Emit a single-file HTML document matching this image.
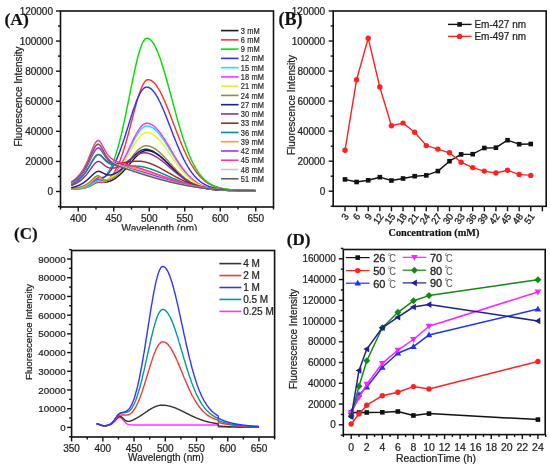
<!DOCTYPE html><html><head><meta charset="utf-8"><style>html,body{margin:0;padding:0;background:#fff;}svg{display:block;filter:blur(0.35px);} svg text{stroke:#222;stroke-width:0.22px;} svg text.l{stroke:none;} svg text.b{stroke-width:0.32px;}</style></head><body>
<svg width="550" height="469" viewBox="0 0 550 469">
<rect width="550" height="469" fill="#ffffff"/>
<rect x="60.5" y="11" width="213.0" height="196" fill="none" stroke="#111" stroke-width="1.6"/>
<line x1="56.0" y1="191.50" x2="60.5" y2="191.50" stroke="#111" stroke-width="1.4"/>
<line x1="56.0" y1="161.42" x2="60.5" y2="161.42" stroke="#111" stroke-width="1.4"/>
<line x1="56.0" y1="131.33" x2="60.5" y2="131.33" stroke="#111" stroke-width="1.4"/>
<line x1="56.0" y1="101.25" x2="60.5" y2="101.25" stroke="#111" stroke-width="1.4"/>
<line x1="56.0" y1="71.17" x2="60.5" y2="71.17" stroke="#111" stroke-width="1.4"/>
<line x1="56.0" y1="41.08" x2="60.5" y2="41.08" stroke="#111" stroke-width="1.4"/>
<line x1="56.0" y1="11.00" x2="60.5" y2="11.00" stroke="#111" stroke-width="1.4"/>
<line x1="58.0" y1="206.54" x2="60.5" y2="206.54" stroke="#111" stroke-width="1.4"/>
<line x1="58.0" y1="176.46" x2="60.5" y2="176.46" stroke="#111" stroke-width="1.4"/>
<line x1="58.0" y1="146.38" x2="60.5" y2="146.38" stroke="#111" stroke-width="1.4"/>
<line x1="58.0" y1="116.29" x2="60.5" y2="116.29" stroke="#111" stroke-width="1.4"/>
<line x1="58.0" y1="86.21" x2="60.5" y2="86.21" stroke="#111" stroke-width="1.4"/>
<line x1="58.0" y1="56.12" x2="60.5" y2="56.12" stroke="#111" stroke-width="1.4"/>
<line x1="58.0" y1="26.04" x2="60.5" y2="26.04" stroke="#111" stroke-width="1.4"/>
<text x="53.0" y="195.10" font-family="Liberation Sans, sans-serif" font-size="10" fill="#222" text-anchor="end">0</text>
<text x="53.0" y="165.02" font-family="Liberation Sans, sans-serif" font-size="10" fill="#222" text-anchor="end">20000</text>
<text x="53.0" y="134.93" font-family="Liberation Sans, sans-serif" font-size="10" fill="#222" text-anchor="end">40000</text>
<text x="53.0" y="104.85" font-family="Liberation Sans, sans-serif" font-size="10" fill="#222" text-anchor="end">60000</text>
<text x="53.0" y="74.77" font-family="Liberation Sans, sans-serif" font-size="10" fill="#222" text-anchor="end">80000</text>
<text x="53.0" y="44.68" font-family="Liberation Sans, sans-serif" font-size="10" fill="#222" text-anchor="end">100000</text>
<text x="53.0" y="14.60" font-family="Liberation Sans, sans-serif" font-size="10" fill="#222" text-anchor="end">120000</text>
<line x1="78.25" y1="207" x2="78.25" y2="211.5" stroke="#111" stroke-width="1.4"/>
<line x1="113.75" y1="207" x2="113.75" y2="211.5" stroke="#111" stroke-width="1.4"/>
<line x1="149.25" y1="207" x2="149.25" y2="211.5" stroke="#111" stroke-width="1.4"/>
<line x1="184.75" y1="207" x2="184.75" y2="211.5" stroke="#111" stroke-width="1.4"/>
<line x1="220.25" y1="207" x2="220.25" y2="211.5" stroke="#111" stroke-width="1.4"/>
<line x1="255.75" y1="207" x2="255.75" y2="211.5" stroke="#111" stroke-width="1.4"/>
<line x1="60.50" y1="207" x2="60.50" y2="209.5" stroke="#111" stroke-width="1.4"/>
<line x1="96.00" y1="207" x2="96.00" y2="209.5" stroke="#111" stroke-width="1.4"/>
<line x1="131.50" y1="207" x2="131.50" y2="209.5" stroke="#111" stroke-width="1.4"/>
<line x1="167.00" y1="207" x2="167.00" y2="209.5" stroke="#111" stroke-width="1.4"/>
<line x1="202.50" y1="207" x2="202.50" y2="209.5" stroke="#111" stroke-width="1.4"/>
<line x1="238.00" y1="207" x2="238.00" y2="209.5" stroke="#111" stroke-width="1.4"/>
<line x1="273.50" y1="207" x2="273.50" y2="209.5" stroke="#111" stroke-width="1.4"/>
<text x="78.25" y="222.00" font-family="Liberation Sans, sans-serif" font-size="10" fill="#222" text-anchor="middle">400</text>
<text x="113.75" y="222.00" font-family="Liberation Sans, sans-serif" font-size="10" fill="#222" text-anchor="middle">450</text>
<text x="149.25" y="222.00" font-family="Liberation Sans, sans-serif" font-size="10" fill="#222" text-anchor="middle">500</text>
<text x="184.75" y="222.00" font-family="Liberation Sans, sans-serif" font-size="10" fill="#222" text-anchor="middle">550</text>
<text x="220.25" y="222.00" font-family="Liberation Sans, sans-serif" font-size="10" fill="#222" text-anchor="middle">600</text>
<text x="255.75" y="222.00" font-family="Liberation Sans, sans-serif" font-size="10" fill="#222" text-anchor="middle">650</text>
<text x="0" y="0" transform="translate(22.3,96.5) rotate(-90)" font-family="Liberation Sans, sans-serif" font-size="10" fill="#222" text-anchor="middle">Fluorescence Intensity</text>
<text x="159.5" y="231.5" font-family="Liberation Sans, sans-serif" font-size="10" fill="#222" text-anchor="middle">Wavelength (nm)</text>
<path d="M71.2,189.0 L71.5,188.9 L71.9,188.9 L72.2,188.9 L72.6,188.9 L72.9,188.8 L73.3,188.8 L73.6,188.8 L74.0,188.7 L74.3,188.7 L74.7,188.7 L75.1,188.6 L75.4,188.6 L75.8,188.6 L76.1,188.5 L76.5,188.5 L76.8,188.5 L77.2,188.4 L77.5,188.4 L77.9,188.3 L78.2,188.3 L78.6,188.2 L79.0,188.2 L79.3,188.1 L79.7,188.1 L80.0,188.0 L80.4,188.0 L80.7,187.9 L81.1,187.8 L81.4,187.7 L81.8,187.7 L82.2,187.6 L82.5,187.5 L82.9,187.4 L83.2,187.3 L83.6,187.2 L83.9,187.1 L84.3,187.0 L84.6,186.9 L85.0,186.8 L85.3,186.6 L85.7,186.5 L86.1,186.4 L86.4,186.2 L86.8,186.1 L87.1,185.9 L87.5,185.7 L87.8,185.6 L88.2,185.4 L88.5,185.2 L88.9,185.0 L89.3,184.8 L89.6,184.6 L90.0,184.4 L90.3,184.1 L90.7,183.9 L91.0,183.6 L91.4,183.4 L91.7,183.2 L92.1,182.9 L92.5,182.6 L92.8,182.4 L93.2,182.1 L93.5,181.9 L93.9,181.6 L94.2,181.4 L94.6,181.1 L94.9,180.9 L95.3,180.7 L95.6,180.5 L96.0,180.3 L96.4,180.1 L96.7,180.0 L97.1,179.9 L97.4,179.8 L97.8,179.7 L98.1,179.7 L98.5,179.7 L98.8,179.8 L99.2,179.9 L99.5,180.1 L99.9,180.3 L100.3,180.5 L100.6,180.7 L101.0,180.9 L101.3,181.0 L101.7,181.2 L102.0,181.4 L102.4,181.5 L102.7,181.7 L103.1,181.8 L103.5,181.9 L103.8,182.0 L104.2,182.0 L104.5,182.1 L104.9,182.1 L105.2,182.1 L105.6,182.1 L105.9,182.1 L106.3,182.1 L106.7,182.0 L107.0,182.0 L107.4,181.9 L107.7,181.8 L108.1,181.7 L108.4,181.6 L108.8,181.5 L109.1,181.4 L109.5,181.3 L109.8,181.2 L110.2,181.1 L110.6,180.9 L110.9,180.8 L111.3,180.6 L111.6,180.4 L112.0,180.3 L112.3,180.1 L112.7,179.9 L113.0,179.7 L113.4,179.5 L113.8,179.3 L114.1,179.1 L114.5,178.9 L114.8,178.7 L115.2,178.4 L115.5,178.2 L115.9,177.9 L116.2,177.7 L116.6,177.4 L116.9,177.2 L117.3,176.9 L117.7,176.6 L118.0,176.3 L118.4,176.0 L118.7,175.7 L119.1,175.4 L119.4,175.1 L119.8,174.8 L120.1,174.5 L120.5,174.1 L120.8,173.8 L121.2,173.5 L121.6,173.1 L121.9,172.8 L122.3,172.4 L122.6,172.0 L123.0,171.7 L123.3,171.3 L123.7,170.9 L124.0,170.5 L124.4,170.2 L124.8,169.8 L125.1,169.4 L125.5,169.0 L125.8,168.6 L126.2,168.2 L126.5,167.7 L126.9,167.3 L127.2,166.9 L127.6,166.5 L128.0,166.1 L128.3,165.6 L128.7,165.2 L129.0,164.8 L129.4,164.4 L129.7,163.9 L130.1,163.5 L130.4,163.1 L130.8,162.7 L131.1,162.2 L131.5,161.8 L131.9,161.4 L132.2,161.0 L132.6,160.6 L132.9,160.1 L133.3,159.7 L133.6,159.3 L134.0,158.9 L134.3,158.5 L134.7,158.1 L135.1,157.7 L135.4,157.4 L135.8,157.0 L136.1,156.6 L136.5,156.2 L136.8,155.9 L137.2,155.5 L137.5,155.2 L137.9,154.9 L138.2,154.6 L138.6,154.3 L139.0,154.0 L139.3,153.7 L139.7,153.4 L140.0,153.1 L140.4,152.9 L140.7,152.6 L141.1,152.4 L141.4,152.2 L141.8,152.0 L142.1,151.8 L142.5,151.6 L142.9,151.4 L143.2,151.3 L143.6,151.1 L143.9,151.0 L144.3,150.9 L144.6,150.8 L145.0,150.7 L145.3,150.6 L145.7,150.6 L146.1,150.5 L146.4,150.5 L146.8,150.5 L147.1,150.5 L147.5,150.5 L147.8,150.6 L148.2,150.6 L148.5,150.7 L148.9,150.7 L149.2,150.8 L149.6,150.8 L150.0,150.9 L150.3,151.0 L150.7,151.1 L151.0,151.2 L151.4,151.3 L151.7,151.4 L152.1,151.6 L152.4,151.7 L152.8,151.8 L153.2,152.0 L153.5,152.1 L153.9,152.3 L154.2,152.5 L154.6,152.7 L154.9,152.8 L155.3,153.0 L155.6,153.2 L156.0,153.4 L156.3,153.7 L156.7,153.9 L157.1,154.1 L157.4,154.3 L157.8,154.6 L158.1,154.8 L158.5,155.1 L158.8,155.3 L159.2,155.6 L159.5,155.9 L159.9,156.2 L160.3,156.4 L160.6,156.7 L161.0,157.0 L161.3,157.3 L161.7,157.6 L162.0,157.9 L162.4,158.2 L162.7,158.5 L163.1,158.8 L163.4,159.2 L163.8,159.5 L164.2,159.8 L164.5,160.1 L164.9,160.5 L165.2,160.8 L165.6,161.2 L165.9,161.5 L166.3,161.8 L166.6,162.2 L167.0,162.5 L167.4,162.9 L167.7,163.2 L168.1,163.6 L168.4,163.9 L168.8,164.3 L169.1,164.7 L169.5,165.0 L169.8,165.4 L170.2,165.7 L170.6,166.1 L170.9,166.4 L171.3,166.8 L171.6,167.2 L172.0,167.5 L172.3,167.9 L172.7,168.2 L173.0,168.6 L173.4,168.9 L173.7,169.3 L174.1,169.6 L174.5,170.0 L174.8,170.3 L175.2,170.7 L175.5,171.0 L175.9,171.4 L176.2,171.7 L176.6,172.0 L176.9,172.4 L177.3,172.7 L177.6,173.0 L178.0,173.4 L178.4,173.7 L178.7,174.0 L179.1,174.3 L179.4,174.7 L179.8,175.0 L180.1,175.3 L180.5,175.6 L180.8,175.9 L181.2,176.2 L181.6,176.5 L181.9,176.8 L182.3,177.1 L182.6,177.4 L183.0,177.7 L183.3,178.0 L183.7,178.2 L184.0,178.5 L184.4,178.8 L184.8,179.0 L185.1,179.3 L185.5,179.6 L185.8,179.8 L186.2,180.1 L186.5,180.3 L186.9,180.6 L187.2,180.8 L187.6,181.0 L187.9,181.3 L188.3,181.5 L188.7,181.7 L189.0,181.9 L189.4,182.2 L189.7,182.4 L190.1,182.6 L190.4,182.8 L190.8,183.0 L191.1,183.2 L191.5,183.4 L191.8,183.6 L192.2,183.8 L192.6,183.9 L192.9,184.1 L193.3,184.3 L193.6,184.5 L194.0,184.6 L194.3,184.8 L194.7,185.0 L195.0,185.1 L195.4,185.3 L195.8,185.4 L196.1,185.6 L196.5,185.7 L196.8,185.8 L197.2,186.0 L197.5,186.1 L197.9,186.2 L198.2,186.4 L198.6,186.5 L198.9,186.6 L199.3,186.7 L199.7,186.9 L200.0,187.0 L200.4,187.1 L200.7,187.2 L201.1,187.3 L201.4,187.4 L201.8,187.5 L202.1,187.6 L202.5,187.7 L202.9,187.8 L203.2,187.9 L203.6,187.9 L203.9,188.0 L204.3,188.1 L204.6,188.2 L205.0,188.3 L205.3,188.3 L205.7,188.4 L206.0,188.5 L206.4,188.6 L206.8,188.6 L207.1,188.7 L207.5,188.8 L207.8,188.8 L208.2,188.9 L208.5,188.9 L208.9,189.0 L209.2,189.0 L209.6,189.1 L210.0,189.1 L210.3,189.2 L210.7,189.2 L211.0,189.3 L211.4,189.3 L211.7,189.4 L212.1,189.4 L212.4,189.5 L212.8,189.5 L213.2,189.5 L213.5,189.6 L213.9,189.6 L214.2,189.6 L214.6,189.7 L214.9,189.7 L215.3,189.7 L215.6,189.8 L216.0,189.8 L216.3,189.8 L216.7,189.9 L217.1,189.9 L217.4,189.9 L217.8,189.9 L218.1,190.0 L218.5,190.0 L218.8,190.0 L219.2,190.0 L219.5,190.1 L219.9,190.1 L220.2,190.1 L220.6,190.1 L221.0,190.1 L221.3,190.2 L221.7,190.2 L222.0,190.2 L222.4,190.2 L222.7,190.2 L223.1,190.2 L223.4,190.2 L223.8,190.3 L224.2,190.3 L224.5,190.3 L224.9,190.3 L225.2,190.3 L225.6,190.3 L225.9,190.3 L226.3,190.4 L226.6,190.4 L227.0,190.4 L227.3,190.4 L227.7,190.4 L228.1,190.4 L228.4,190.4 L228.8,190.4 L229.1,190.4 L229.5,190.4 L229.8,190.4 L230.2,190.5 L230.5,190.5 L230.9,190.5 L231.3,190.5 L231.6,190.5 L232.0,190.5 L232.3,190.5 L232.7,190.5 L233.0,190.5 L233.4,190.5 L233.7,190.5 L234.1,190.5 L234.4,190.5 L234.8,190.5 L235.2,190.5 L235.5,190.6 L235.9,190.6 L236.2,190.6 L236.6,190.6 L236.9,190.6 L237.3,190.6 L237.6,190.6 L238.0,190.6 L238.4,190.6 L238.7,190.6 L239.1,190.6 L239.4,190.6 L239.8,190.6 L240.1,190.6 L240.5,190.6 L240.8,190.6 L241.2,190.6 L241.5,190.6 L241.9,190.6 L242.3,190.6 L242.6,190.6 L243.0,190.6 L243.3,190.6 L243.7,190.6 L244.0,190.6 L244.4,190.6 L244.7,190.6 L245.1,190.6 L245.5,190.6 L245.8,190.6 L246.2,190.7 L246.5,190.7 L246.9,190.7 L247.2,190.7 L247.6,190.7 L247.9,190.7 L248.3,190.7 L248.6,190.7 L249.0,190.7 L249.4,190.7 L249.7,190.7 L250.1,190.7 L250.4,190.7 L250.8,190.7 L251.1,190.7 L251.5,190.7 L251.8,190.7 L252.2,190.7 L252.6,190.7 L252.9,190.7 L253.3,190.7 L253.6,190.7 L254.0,190.7 L254.3,190.7 L254.7,190.7 L255.0,190.7 L255.4,190.7 L255.8,190.7" fill="none" stroke="#1a1a1a" stroke-width="1.45" stroke-linejoin="round"/>
<path d="M71.2,189.3 L71.5,189.3 L71.9,189.3 L72.2,189.2 L72.6,189.2 L72.9,189.2 L73.3,189.2 L73.6,189.2 L74.0,189.1 L74.3,189.1 L74.7,189.1 L75.1,189.1 L75.4,189.1 L75.8,189.0 L76.1,189.0 L76.5,189.0 L76.8,189.0 L77.2,188.9 L77.5,188.9 L77.9,188.9 L78.2,188.9 L78.6,188.8 L79.0,188.8 L79.3,188.8 L79.7,188.7 L80.0,188.7 L80.4,188.6 L80.7,188.6 L81.1,188.5 L81.4,188.5 L81.8,188.4 L82.2,188.4 L82.5,188.3 L82.9,188.3 L83.2,188.2 L83.6,188.1 L83.9,188.1 L84.3,188.0 L84.6,187.9 L85.0,187.8 L85.3,187.7 L85.7,187.7 L86.1,187.6 L86.4,187.5 L86.8,187.4 L87.1,187.2 L87.5,187.1 L87.8,187.0 L88.2,186.9 L88.5,186.7 L88.9,186.6 L89.3,186.4 L89.6,186.3 L90.0,186.1 L90.3,186.0 L90.7,185.8 L91.0,185.6 L91.4,185.5 L91.7,185.3 L92.1,185.1 L92.5,184.9 L92.8,184.7 L93.2,184.5 L93.5,184.3 L93.9,184.1 L94.2,183.9 L94.6,183.7 L94.9,183.6 L95.3,183.4 L95.6,183.2 L96.0,183.0 L96.4,182.9 L96.7,182.7 L97.1,182.6 L97.4,182.5 L97.8,182.4 L98.1,182.3 L98.5,182.2 L98.8,182.2 L99.2,182.2 L99.5,182.2 L99.9,182.3 L100.3,182.3 L100.6,182.3 L101.0,182.3 L101.3,182.4 L101.7,182.4 L102.0,182.4 L102.4,182.3 L102.7,182.3 L103.1,182.2 L103.5,182.2 L103.8,182.1 L104.2,182.0 L104.5,181.9 L104.9,181.7 L105.2,181.6 L105.6,181.4 L105.9,181.2 L106.3,181.0 L106.7,180.8 L107.0,180.6 L107.4,180.3 L107.7,180.1 L108.1,179.8 L108.4,179.5 L108.8,179.2 L109.1,178.9 L109.5,178.5 L109.8,178.2 L110.2,177.8 L110.6,177.4 L110.9,177.0 L111.3,176.6 L111.6,176.2 L112.0,175.8 L112.3,175.3 L112.7,174.8 L113.0,174.3 L113.4,173.8 L113.8,173.3 L114.1,172.7 L114.5,172.1 L114.8,171.6 L115.2,170.9 L115.5,170.3 L115.9,169.7 L116.2,169.0 L116.6,168.3 L116.9,167.6 L117.3,166.9 L117.7,166.1 L118.0,165.3 L118.4,164.5 L118.7,163.7 L119.1,162.9 L119.4,162.0 L119.8,161.1 L120.1,160.2 L120.5,159.3 L120.8,158.3 L121.2,157.4 L121.6,156.4 L121.9,155.4 L122.3,154.3 L122.6,153.3 L123.0,152.2 L123.3,151.1 L123.7,150.0 L124.0,148.9 L124.4,147.7 L124.8,146.6 L125.1,145.4 L125.5,144.2 L125.8,142.9 L126.2,141.7 L126.5,140.4 L126.9,139.2 L127.2,137.9 L127.6,136.6 L128.0,135.3 L128.3,134.0 L128.7,132.6 L129.0,131.3 L129.4,129.9 L129.7,128.6 L130.1,127.2 L130.4,125.9 L130.8,124.5 L131.1,123.1 L131.5,121.7 L131.9,120.4 L132.2,119.0 L132.6,117.6 L132.9,116.2 L133.3,114.9 L133.6,113.5 L134.0,112.1 L134.3,110.8 L134.7,109.5 L135.1,108.1 L135.4,106.8 L135.8,105.5 L136.1,104.2 L136.5,103.0 L136.8,101.7 L137.2,100.5 L137.5,99.3 L137.9,98.1 L138.2,97.0 L138.6,95.9 L139.0,94.8 L139.3,93.7 L139.7,92.6 L140.0,91.6 L140.4,90.7 L140.7,89.7 L141.1,88.8 L141.4,87.9 L141.8,87.1 L142.1,86.3 L142.5,85.6 L142.9,84.9 L143.2,84.2 L143.6,83.6 L143.9,83.0 L144.3,82.4 L144.6,81.9 L145.0,81.5 L145.3,81.1 L145.7,80.7 L146.1,80.4 L146.4,80.2 L146.8,80.0 L147.1,79.8 L147.5,79.7 L147.8,79.6 L148.2,79.6 L148.5,79.7 L148.9,79.7 L149.2,79.8 L149.6,79.9 L150.0,80.0 L150.3,80.1 L150.7,80.3 L151.0,80.4 L151.4,80.6 L151.7,80.8 L152.1,81.1 L152.4,81.3 L152.8,81.6 L153.2,81.9 L153.5,82.2 L153.9,82.6 L154.2,82.9 L154.6,83.3 L154.9,83.7 L155.3,84.1 L155.6,84.6 L156.0,85.0 L156.3,85.5 L156.7,86.0 L157.1,86.5 L157.4,87.0 L157.8,87.6 L158.1,88.1 L158.5,88.7 L158.8,89.3 L159.2,89.9 L159.5,90.5 L159.9,91.2 L160.3,91.8 L160.6,92.5 L161.0,93.2 L161.3,93.9 L161.7,94.6 L162.0,95.4 L162.4,96.1 L162.7,96.8 L163.1,97.6 L163.4,98.4 L163.8,99.2 L164.2,100.0 L164.5,100.8 L164.9,101.6 L165.2,102.5 L165.6,103.3 L165.9,104.1 L166.3,105.0 L166.6,105.9 L167.0,106.7 L167.4,107.6 L167.7,108.5 L168.1,109.4 L168.4,110.3 L168.8,111.2 L169.1,112.1 L169.5,113.0 L169.8,114.0 L170.2,114.9 L170.6,115.8 L170.9,116.7 L171.3,117.7 L171.6,118.6 L172.0,119.5 L172.3,120.5 L172.7,121.4 L173.0,122.3 L173.4,123.3 L173.7,124.2 L174.1,125.2 L174.5,126.1 L174.8,127.0 L175.2,128.0 L175.5,128.9 L175.9,129.8 L176.2,130.8 L176.6,131.7 L176.9,132.6 L177.3,133.5 L177.6,134.4 L178.0,135.3 L178.4,136.2 L178.7,137.1 L179.1,138.0 L179.4,138.9 L179.8,139.8 L180.1,140.7 L180.5,141.6 L180.8,142.4 L181.2,143.3 L181.6,144.2 L181.9,145.0 L182.3,145.8 L182.6,146.7 L183.0,147.5 L183.3,148.3 L183.7,149.1 L184.0,149.9 L184.4,150.7 L184.8,151.5 L185.1,152.3 L185.5,153.0 L185.8,153.8 L186.2,154.5 L186.5,155.3 L186.9,156.0 L187.2,156.7 L187.6,157.5 L187.9,158.2 L188.3,158.9 L188.7,159.5 L189.0,160.2 L189.4,160.9 L189.7,161.5 L190.1,162.2 L190.4,162.8 L190.8,163.5 L191.1,164.1 L191.5,164.7 L191.8,165.3 L192.2,165.9 L192.6,166.5 L192.9,167.0 L193.3,167.6 L193.6,168.1 L194.0,168.7 L194.3,169.2 L194.7,169.7 L195.0,170.2 L195.4,170.7 L195.8,171.2 L196.1,171.7 L196.5,172.2 L196.8,172.7 L197.2,173.1 L197.5,173.6 L197.9,174.0 L198.2,174.5 L198.6,174.9 L198.9,175.3 L199.3,175.7 L199.7,176.1 L200.0,176.5 L200.4,176.9 L200.7,177.2 L201.1,177.6 L201.4,177.9 L201.8,178.3 L202.1,178.6 L202.5,179.0 L202.9,179.3 L203.2,179.6 L203.6,179.9 L203.9,180.2 L204.3,180.5 L204.6,180.8 L205.0,181.1 L205.3,181.4 L205.7,181.6 L206.0,181.9 L206.4,182.1 L206.8,182.4 L207.1,182.6 L207.5,182.9 L207.8,183.1 L208.2,183.3 L208.5,183.5 L208.9,183.8 L209.2,184.0 L209.6,184.2 L210.0,184.4 L210.3,184.5 L210.7,184.7 L211.0,184.9 L211.4,185.1 L211.7,185.3 L212.1,185.4 L212.4,185.6 L212.8,185.7 L213.2,185.9 L213.5,186.0 L213.9,186.2 L214.2,186.3 L214.6,186.5 L214.9,186.6 L215.3,186.7 L215.6,186.8 L216.0,187.0 L216.3,187.1 L216.7,187.2 L217.1,187.3 L217.4,187.4 L217.8,187.5 L218.1,187.6 L218.5,187.7 L218.8,187.8 L219.2,187.9 L219.5,188.0 L219.9,188.1 L220.2,188.2 L220.6,188.2 L221.0,188.3 L221.3,188.4 L221.7,188.5 L222.0,188.5 L222.4,188.6 L222.7,188.7 L223.1,188.7 L223.4,188.8 L223.8,188.9 L224.2,188.9 L224.5,189.0 L224.9,189.0 L225.2,189.1 L225.6,189.1 L225.9,189.2 L226.3,189.2 L226.6,189.3 L227.0,189.3 L227.3,189.4 L227.7,189.4 L228.1,189.5 L228.4,189.5 L228.8,189.5 L229.1,189.6 L229.5,189.6 L229.8,189.6 L230.2,189.7 L230.5,189.7 L230.9,189.7 L231.3,189.8 L231.6,189.8 L232.0,189.8 L232.3,189.9 L232.7,189.9 L233.0,189.9 L233.4,189.9 L233.7,190.0 L234.1,190.0 L234.4,190.0 L234.8,190.0 L235.2,190.0 L235.5,190.1 L235.9,190.1 L236.2,190.1 L236.6,190.1 L236.9,190.1 L237.3,190.2 L237.6,190.2 L238.0,190.2 L238.4,190.2 L238.7,190.2 L239.1,190.2 L239.4,190.3 L239.8,190.3 L240.1,190.3 L240.5,190.3 L240.8,190.3 L241.2,190.3 L241.5,190.3 L241.9,190.3 L242.3,190.4 L242.6,190.4 L243.0,190.4 L243.3,190.4 L243.7,190.4 L244.0,190.4 L244.4,190.4 L244.7,190.4 L245.1,190.4 L245.5,190.4 L245.8,190.5 L246.2,190.5 L246.5,190.5 L246.9,190.5 L247.2,190.5 L247.6,190.5 L247.9,190.5 L248.3,190.5 L248.6,190.5 L249.0,190.5 L249.4,190.5 L249.7,190.5 L250.1,190.5 L250.4,190.5 L250.8,190.5 L251.1,190.6 L251.5,190.6 L251.8,190.6 L252.2,190.6 L252.6,190.6 L252.9,190.6 L253.3,190.6 L253.6,190.6 L254.0,190.6 L254.3,190.6 L254.7,190.6 L255.0,190.6 L255.4,190.6 L255.8,190.6" fill="none" stroke="#ff3030" stroke-width="1.45" stroke-linejoin="round"/>
<path d="M71.2,189.3 L71.5,189.3 L71.9,189.3 L72.2,189.3 L72.6,189.3 L72.9,189.2 L73.3,189.2 L73.6,189.2 L74.0,189.2 L74.3,189.2 L74.7,189.1 L75.1,189.1 L75.4,189.1 L75.8,189.1 L76.1,189.1 L76.5,189.0 L76.8,189.0 L77.2,189.0 L77.5,188.9 L77.9,188.9 L78.2,188.9 L78.6,188.8 L79.0,188.8 L79.3,188.8 L79.7,188.7 L80.0,188.7 L80.4,188.6 L80.7,188.6 L81.1,188.5 L81.4,188.5 L81.8,188.4 L82.2,188.4 L82.5,188.3 L82.9,188.2 L83.2,188.2 L83.6,188.1 L83.9,188.0 L84.3,187.9 L84.6,187.8 L85.0,187.7 L85.3,187.6 L85.7,187.5 L86.1,187.4 L86.4,187.3 L86.8,187.2 L87.1,187.1 L87.5,186.9 L87.8,186.8 L88.2,186.7 L88.5,186.5 L88.9,186.3 L89.3,186.2 L89.6,186.0 L90.0,185.8 L90.3,185.6 L90.7,185.4 L91.0,185.2 L91.4,185.0 L91.7,184.8 L92.1,184.6 L92.5,184.3 L92.8,184.1 L93.2,183.9 L93.5,183.6 L93.9,183.4 L94.2,183.1 L94.6,182.9 L94.9,182.6 L95.3,182.4 L95.6,182.1 L96.0,181.9 L96.4,181.7 L96.7,181.4 L97.1,181.2 L97.4,181.0 L97.8,180.8 L98.1,180.6 L98.5,180.4 L98.8,180.3 L99.2,180.1 L99.5,180.0 L99.9,179.9 L100.3,179.8 L100.6,179.6 L101.0,179.5 L101.3,179.4 L101.7,179.2 L102.0,179.0 L102.4,178.8 L102.7,178.6 L103.1,178.3 L103.5,178.0 L103.8,177.8 L104.2,177.4 L104.5,177.1 L104.9,176.7 L105.2,176.4 L105.6,176.0 L105.9,175.5 L106.3,175.1 L106.7,174.6 L107.0,174.1 L107.4,173.6 L107.7,173.1 L108.1,172.5 L108.4,171.9 L108.8,171.3 L109.1,170.7 L109.5,170.1 L109.8,169.4 L110.2,168.7 L110.6,168.0 L110.9,167.3 L111.3,166.5 L111.6,165.7 L112.0,164.9 L112.3,164.1 L112.7,163.2 L113.0,162.3 L113.4,161.4 L113.8,160.5 L114.1,159.5 L114.5,158.6 L114.8,157.6 L115.2,156.5 L115.5,155.5 L115.9,154.4 L116.2,153.3 L116.6,152.1 L116.9,151.0 L117.3,149.8 L117.7,148.5 L118.0,147.3 L118.4,146.0 L118.7,144.7 L119.1,143.4 L119.4,142.1 L119.8,140.7 L120.1,139.3 L120.5,137.9 L120.8,136.4 L121.2,135.0 L121.6,133.5 L121.9,132.0 L122.3,130.4 L122.6,128.9 L123.0,127.3 L123.3,125.7 L123.7,124.1 L124.0,122.4 L124.4,120.8 L124.8,119.1 L125.1,117.4 L125.5,115.7 L125.8,114.0 L126.2,112.3 L126.5,110.6 L126.9,108.8 L127.2,107.0 L127.6,105.3 L128.0,103.5 L128.3,101.7 L128.7,99.9 L129.0,98.1 L129.4,96.4 L129.7,94.6 L130.1,92.8 L130.4,91.0 L130.8,89.2 L131.1,87.4 L131.5,85.6 L131.9,83.9 L132.2,82.1 L132.6,80.4 L132.9,78.7 L133.3,77.0 L133.6,75.3 L134.0,73.6 L134.3,71.9 L134.7,70.3 L135.1,68.7 L135.4,67.1 L135.8,65.5 L136.1,64.0 L136.5,62.5 L136.8,61.0 L137.2,59.6 L137.5,58.2 L137.9,56.8 L138.2,55.5 L138.6,54.2 L139.0,53.0 L139.3,51.8 L139.7,50.6 L140.0,49.5 L140.4,48.4 L140.7,47.4 L141.1,46.4 L141.4,45.5 L141.8,44.6 L142.1,43.8 L142.5,43.1 L142.9,42.3 L143.2,41.7 L143.6,41.1 L143.9,40.5 L144.3,40.0 L144.6,39.6 L145.0,39.2 L145.3,38.9 L145.7,38.7 L146.1,38.5 L146.4,38.3 L146.8,38.3 L147.1,38.3 L147.5,38.3 L147.8,38.3 L148.2,38.4 L148.5,38.6 L148.9,38.7 L149.2,38.9 L149.6,39.1 L150.0,39.4 L150.3,39.7 L150.7,40.0 L151.0,40.3 L151.4,40.7 L151.7,41.1 L152.1,41.5 L152.4,42.0 L152.8,42.5 L153.2,43.0 L153.5,43.5 L153.9,44.1 L154.2,44.7 L154.6,45.3 L154.9,46.0 L155.3,46.7 L155.6,47.4 L156.0,48.1 L156.3,48.9 L156.7,49.7 L157.1,50.5 L157.4,51.3 L157.8,52.2 L158.1,53.1 L158.5,54.0 L158.8,54.9 L159.2,55.9 L159.5,56.8 L159.9,57.8 L160.3,58.8 L160.6,59.9 L161.0,60.9 L161.3,62.0 L161.7,63.1 L162.0,64.2 L162.4,65.3 L162.7,66.4 L163.1,67.6 L163.4,68.7 L163.8,69.9 L164.2,71.1 L164.5,72.3 L164.9,73.5 L165.2,74.8 L165.6,76.0 L165.9,77.3 L166.3,78.5 L166.6,79.8 L167.0,81.1 L167.4,82.3 L167.7,83.6 L168.1,84.9 L168.4,86.2 L168.8,87.5 L169.1,88.8 L169.5,90.2 L169.8,91.5 L170.2,92.8 L170.6,94.1 L170.9,95.4 L171.3,96.8 L171.6,98.1 L172.0,99.4 L172.3,100.7 L172.7,102.1 L173.0,103.4 L173.4,104.7 L173.7,106.0 L174.1,107.3 L174.5,108.6 L174.8,109.9 L175.2,111.2 L175.5,112.5 L175.9,113.8 L176.2,115.1 L176.6,116.4 L176.9,117.6 L177.3,118.9 L177.6,120.2 L178.0,121.4 L178.4,122.6 L178.7,123.9 L179.1,125.1 L179.4,126.3 L179.8,127.5 L180.1,128.7 L180.5,129.8 L180.8,131.0 L181.2,132.2 L181.6,133.3 L181.9,134.4 L182.3,135.6 L182.6,136.7 L183.0,137.8 L183.3,138.9 L183.7,139.9 L184.0,141.0 L184.4,142.0 L184.8,143.1 L185.1,144.1 L185.5,145.1 L185.8,146.1 L186.2,147.1 L186.5,148.0 L186.9,149.0 L187.2,149.9 L187.6,150.8 L187.9,151.7 L188.3,152.6 L188.7,153.5 L189.0,154.4 L189.4,155.2 L189.7,156.1 L190.1,156.9 L190.4,157.7 L190.8,158.5 L191.1,159.3 L191.5,160.1 L191.8,160.8 L192.2,161.6 L192.6,162.3 L192.9,163.0 L193.3,163.7 L193.6,164.4 L194.0,165.1 L194.3,165.7 L194.7,166.4 L195.0,167.0 L195.4,167.6 L195.8,168.2 L196.1,168.8 L196.5,169.4 L196.8,170.0 L197.2,170.5 L197.5,171.1 L197.9,171.6 L198.2,172.2 L198.6,172.7 L198.9,173.2 L199.3,173.6 L199.7,174.1 L200.0,174.6 L200.4,175.0 L200.7,175.5 L201.1,175.9 L201.4,176.3 L201.8,176.8 L202.1,177.2 L202.5,177.5 L202.9,177.9 L203.2,178.3 L203.6,178.7 L203.9,179.0 L204.3,179.4 L204.6,179.7 L205.0,180.0 L205.3,180.3 L205.7,180.7 L206.0,181.0 L206.4,181.2 L206.8,181.5 L207.1,181.8 L207.5,182.1 L207.8,182.3 L208.2,182.6 L208.5,182.8 L208.9,183.1 L209.2,183.3 L209.6,183.5 L210.0,183.8 L210.3,184.0 L210.7,184.2 L211.0,184.4 L211.4,184.6 L211.7,184.8 L212.1,185.0 L212.4,185.1 L212.8,185.3 L213.2,185.5 L213.5,185.6 L213.9,185.8 L214.2,186.0 L214.6,186.1 L214.9,186.3 L215.3,186.4 L215.6,186.5 L216.0,186.7 L216.3,186.8 L216.7,186.9 L217.1,187.0 L217.4,187.1 L217.8,187.3 L218.1,187.4 L218.5,187.5 L218.8,187.6 L219.2,187.7 L219.5,187.8 L219.9,187.9 L220.2,188.0 L220.6,188.0 L221.0,188.1 L221.3,188.2 L221.7,188.3 L222.0,188.4 L222.4,188.4 L222.7,188.5 L223.1,188.6 L223.4,188.6 L223.8,188.7 L224.2,188.8 L224.5,188.8 L224.9,188.9 L225.2,188.9 L225.6,189.0 L225.9,189.0 L226.3,189.1 L226.6,189.1 L227.0,189.2 L227.3,189.2 L227.7,189.3 L228.1,189.3 L228.4,189.4 L228.8,189.4 L229.1,189.5 L229.5,189.5 L229.8,189.5 L230.2,189.6 L230.5,189.6 L230.9,189.6 L231.3,189.7 L231.6,189.7 L232.0,189.7 L232.3,189.8 L232.7,189.8 L233.0,189.8 L233.4,189.8 L233.7,189.9 L234.1,189.9 L234.4,189.9 L234.8,189.9 L235.2,190.0 L235.5,190.0 L235.9,190.0 L236.2,190.0 L236.6,190.0 L236.9,190.1 L237.3,190.1 L237.6,190.1 L238.0,190.1 L238.4,190.1 L238.7,190.1 L239.1,190.2 L239.4,190.2 L239.8,190.2 L240.1,190.2 L240.5,190.2 L240.8,190.2 L241.2,190.3 L241.5,190.3 L241.9,190.3 L242.3,190.3 L242.6,190.3 L243.0,190.3 L243.3,190.3 L243.7,190.3 L244.0,190.3 L244.4,190.4 L244.7,190.4 L245.1,190.4 L245.5,190.4 L245.8,190.4 L246.2,190.4 L246.5,190.4 L246.9,190.4 L247.2,190.4 L247.6,190.4 L247.9,190.4 L248.3,190.5 L248.6,190.5 L249.0,190.5 L249.4,190.5 L249.7,190.5 L250.1,190.5 L250.4,190.5 L250.8,190.5 L251.1,190.5 L251.5,190.5 L251.8,190.5 L252.2,190.5 L252.6,190.5 L252.9,190.5 L253.3,190.5 L253.6,190.5 L254.0,190.6 L254.3,190.6 L254.7,190.6 L255.0,190.6 L255.4,190.6 L255.8,190.6" fill="none" stroke="#00e000" stroke-width="1.45" stroke-linejoin="round"/>
<path d="M71.2,188.9 L71.5,188.9 L71.9,188.9 L72.2,188.9 L72.6,188.8 L72.9,188.8 L73.3,188.8 L73.6,188.8 L74.0,188.7 L74.3,188.7 L74.7,188.7 L75.1,188.6 L75.4,188.6 L75.8,188.5 L76.1,188.5 L76.5,188.5 L76.8,188.4 L77.2,188.4 L77.5,188.3 L77.9,188.3 L78.2,188.2 L78.6,188.2 L79.0,188.1 L79.3,188.1 L79.7,188.0 L80.0,187.9 L80.4,187.9 L80.7,187.8 L81.1,187.7 L81.4,187.6 L81.8,187.5 L82.2,187.4 L82.5,187.3 L82.9,187.2 L83.2,187.1 L83.6,187.0 L83.9,186.9 L84.3,186.8 L84.6,186.7 L85.0,186.5 L85.3,186.4 L85.7,186.2 L86.1,186.1 L86.4,185.9 L86.8,185.7 L87.1,185.5 L87.5,185.3 L87.8,185.1 L88.2,184.9 L88.5,184.7 L88.9,184.5 L89.3,184.3 L89.6,184.0 L90.0,183.7 L90.3,183.5 L90.7,183.2 L91.0,182.9 L91.4,182.6 L91.7,182.3 L92.1,182.0 L92.5,181.7 L92.8,181.4 L93.2,181.1 L93.5,180.8 L93.9,180.5 L94.2,180.2 L94.6,179.9 L94.9,179.6 L95.3,179.3 L95.6,179.0 L96.0,178.7 L96.4,178.5 L96.7,178.2 L97.1,178.0 L97.4,177.8 L97.8,177.6 L98.1,177.5 L98.5,177.4 L98.8,177.4 L99.2,177.4 L99.5,177.4 L99.9,177.4 L100.3,177.5 L100.6,177.5 L101.0,177.5 L101.3,177.6 L101.7,177.6 L102.0,177.6 L102.4,177.5 L102.7,177.5 L103.1,177.4 L103.5,177.3 L103.8,177.2 L104.2,177.0 L104.5,176.8 L104.9,176.6 L105.2,176.4 L105.6,176.1 L105.9,175.9 L106.3,175.6 L106.7,175.3 L107.0,174.9 L107.4,174.6 L107.7,174.2 L108.1,173.8 L108.4,173.4 L108.8,173.0 L109.1,172.6 L109.5,172.1 L109.8,171.6 L110.2,171.1 L110.6,170.6 L110.9,170.1 L111.3,169.6 L111.6,169.0 L112.0,168.4 L112.3,167.8 L112.7,167.2 L113.0,166.6 L113.4,165.9 L113.8,165.3 L114.1,164.6 L114.5,163.9 L114.8,163.2 L115.2,162.5 L115.5,161.7 L115.9,160.9 L116.2,160.2 L116.6,159.4 L116.9,158.6 L117.3,157.7 L117.7,156.9 L118.0,156.0 L118.4,155.1 L118.7,154.3 L119.1,153.4 L119.4,152.4 L119.8,151.5 L120.1,150.5 L120.5,149.6 L120.8,148.6 L121.2,147.6 L121.6,146.6 L121.9,145.6 L122.3,144.6 L122.6,143.5 L123.0,142.5 L123.3,141.4 L123.7,140.3 L124.0,139.2 L124.4,138.2 L124.8,137.1 L125.1,135.9 L125.5,134.8 L125.8,133.7 L126.2,132.6 L126.5,131.5 L126.9,130.3 L127.2,129.2 L127.6,128.0 L128.0,126.9 L128.3,125.7 L128.7,124.6 L129.0,123.4 L129.4,122.3 L129.7,121.2 L130.1,120.0 L130.4,118.9 L130.8,117.8 L131.1,116.6 L131.5,115.5 L131.9,114.4 L132.2,113.3 L132.6,112.2 L132.9,111.1 L133.3,110.1 L133.6,109.0 L134.0,108.0 L134.3,106.9 L134.7,105.9 L135.1,104.9 L135.4,104.0 L135.8,103.0 L136.1,102.1 L136.5,101.1 L136.8,100.3 L137.2,99.4 L137.5,98.5 L137.9,97.7 L138.2,96.9 L138.6,96.1 L139.0,95.4 L139.3,94.7 L139.7,94.0 L140.0,93.3 L140.4,92.7 L140.7,92.1 L141.1,91.5 L141.4,91.0 L141.8,90.5 L142.1,90.0 L142.5,89.6 L142.9,89.2 L143.2,88.8 L143.6,88.5 L143.9,88.2 L144.3,87.9 L144.6,87.7 L145.0,87.5 L145.3,87.3 L145.7,87.2 L146.1,87.1 L146.4,87.1 L146.8,87.1 L147.1,87.1 L147.5,87.2 L147.8,87.2 L148.2,87.3 L148.5,87.5 L148.9,87.6 L149.2,87.8 L149.6,87.9 L150.0,88.1 L150.3,88.4 L150.7,88.6 L151.0,88.9 L151.4,89.2 L151.7,89.5 L152.1,89.8 L152.4,90.2 L152.8,90.6 L153.2,91.0 L153.5,91.4 L153.9,91.8 L154.2,92.3 L154.6,92.7 L154.9,93.2 L155.3,93.7 L155.6,94.3 L156.0,94.8 L156.3,95.4 L156.7,96.0 L157.1,96.6 L157.4,97.2 L157.8,97.8 L158.1,98.5 L158.5,99.1 L158.8,99.8 L159.2,100.5 L159.5,101.2 L159.9,102.0 L160.3,102.7 L160.6,103.4 L161.0,104.2 L161.3,105.0 L161.7,105.8 L162.0,106.6 L162.4,107.4 L162.7,108.2 L163.1,109.0 L163.4,109.8 L163.8,110.7 L164.2,111.5 L164.5,112.4 L164.9,113.3 L165.2,114.2 L165.6,115.0 L165.9,115.9 L166.3,116.8 L166.6,117.7 L167.0,118.6 L167.4,119.5 L167.7,120.4 L168.1,121.4 L168.4,122.3 L168.8,123.2 L169.1,124.1 L169.5,125.0 L169.8,126.0 L170.2,126.9 L170.6,127.8 L170.9,128.7 L171.3,129.7 L171.6,130.6 L172.0,131.5 L172.3,132.4 L172.7,133.4 L173.0,134.3 L173.4,135.2 L173.7,136.1 L174.1,137.0 L174.5,137.9 L174.8,138.8 L175.2,139.7 L175.5,140.6 L175.9,141.5 L176.2,142.3 L176.6,143.2 L176.9,144.1 L177.3,144.9 L177.6,145.8 L178.0,146.6 L178.4,147.5 L178.7,148.3 L179.1,149.1 L179.4,149.9 L179.8,150.8 L180.1,151.6 L180.5,152.3 L180.8,153.1 L181.2,153.9 L181.6,154.7 L181.9,155.4 L182.3,156.2 L182.6,156.9 L183.0,157.6 L183.3,158.4 L183.7,159.1 L184.0,159.8 L184.4,160.5 L184.8,161.1 L185.1,161.8 L185.5,162.5 L185.8,163.1 L186.2,163.8 L186.5,164.4 L186.9,165.0 L187.2,165.6 L187.6,166.2 L187.9,166.8 L188.3,167.4 L188.7,168.0 L189.0,168.5 L189.4,169.1 L189.7,169.6 L190.1,170.2 L190.4,170.7 L190.8,171.2 L191.1,171.7 L191.5,172.2 L191.8,172.7 L192.2,173.1 L192.6,173.6 L192.9,174.1 L193.3,174.5 L193.6,174.9 L194.0,175.4 L194.3,175.8 L194.7,176.2 L195.0,176.6 L195.4,177.0 L195.8,177.3 L196.1,177.7 L196.5,178.1 L196.8,178.4 L197.2,178.8 L197.5,179.1 L197.9,179.5 L198.2,179.8 L198.6,180.1 L198.9,180.4 L199.3,180.7 L199.7,181.0 L200.0,181.3 L200.4,181.6 L200.7,181.8 L201.1,182.1 L201.4,182.3 L201.8,182.6 L202.1,182.8 L202.5,183.1 L202.9,183.3 L203.2,183.5 L203.6,183.7 L203.9,184.0 L204.3,184.2 L204.6,184.4 L205.0,184.6 L205.3,184.7 L205.7,184.9 L206.0,185.1 L206.4,185.3 L206.8,185.4 L207.1,185.6 L207.5,185.8 L207.8,185.9 L208.2,186.1 L208.5,186.2 L208.9,186.4 L209.2,186.5 L209.6,186.6 L210.0,186.8 L210.3,186.9 L210.7,187.0 L211.0,187.1 L211.4,187.2 L211.7,187.3 L212.1,187.4 L212.4,187.5 L212.8,187.6 L213.2,187.7 L213.5,187.8 L213.9,187.9 L214.2,188.0 L214.6,188.1 L214.9,188.2 L215.3,188.3 L215.6,188.3 L216.0,188.4 L216.3,188.5 L216.7,188.6 L217.1,188.6 L217.4,188.7 L217.8,188.7 L218.1,188.8 L218.5,188.9 L218.8,188.9 L219.2,189.0 L219.5,189.0 L219.9,189.1 L220.2,189.1 L220.6,189.2 L221.0,189.2 L221.3,189.3 L221.7,189.3 L222.0,189.4 L222.4,189.4 L222.7,189.4 L223.1,189.5 L223.4,189.5 L223.8,189.6 L224.2,189.6 L224.5,189.6 L224.9,189.7 L225.2,189.7 L225.6,189.7 L225.9,189.7 L226.3,189.8 L226.6,189.8 L227.0,189.8 L227.3,189.9 L227.7,189.9 L228.1,189.9 L228.4,189.9 L228.8,189.9 L229.1,190.0 L229.5,190.0 L229.8,190.0 L230.2,190.0 L230.5,190.1 L230.9,190.1 L231.3,190.1 L231.6,190.1 L232.0,190.1 L232.3,190.1 L232.7,190.2 L233.0,190.2 L233.4,190.2 L233.7,190.2 L234.1,190.2 L234.4,190.2 L234.8,190.2 L235.2,190.3 L235.5,190.3 L235.9,190.3 L236.2,190.3 L236.6,190.3 L236.9,190.3 L237.3,190.3 L237.6,190.3 L238.0,190.3 L238.4,190.4 L238.7,190.4 L239.1,190.4 L239.4,190.4 L239.8,190.4 L240.1,190.4 L240.5,190.4 L240.8,190.4 L241.2,190.4 L241.5,190.4 L241.9,190.4 L242.3,190.5 L242.6,190.5 L243.0,190.5 L243.3,190.5 L243.7,190.5 L244.0,190.5 L244.4,190.5 L244.7,190.5 L245.1,190.5 L245.5,190.5 L245.8,190.5 L246.2,190.5 L246.5,190.5 L246.9,190.5 L247.2,190.5 L247.6,190.5 L247.9,190.5 L248.3,190.6 L248.6,190.6 L249.0,190.6 L249.4,190.6 L249.7,190.6 L250.1,190.6 L250.4,190.6 L250.8,190.6 L251.1,190.6 L251.5,190.6 L251.8,190.6 L252.2,190.6 L252.6,190.6 L252.9,190.6 L253.3,190.6 L253.6,190.6 L254.0,190.6 L254.3,190.6 L254.7,190.6 L255.0,190.6 L255.4,190.6 L255.8,190.6" fill="none" stroke="#3030ff" stroke-width="1.45" stroke-linejoin="round"/>
<path d="M71.2,189.1 L71.5,189.1 L71.9,189.1 L72.2,189.1 L72.6,189.1 L72.9,189.0 L73.3,189.0 L73.6,189.0 L74.0,189.0 L74.3,188.9 L74.7,188.9 L75.1,188.9 L75.4,188.9 L75.8,188.8 L76.1,188.8 L76.5,188.8 L76.8,188.7 L77.2,188.7 L77.5,188.7 L77.9,188.6 L78.2,188.6 L78.6,188.5 L79.0,188.5 L79.3,188.5 L79.7,188.4 L80.0,188.4 L80.4,188.3 L80.7,188.3 L81.1,188.2 L81.4,188.1 L81.8,188.1 L82.2,188.0 L82.5,187.9 L82.9,187.9 L83.2,187.8 L83.6,187.7 L83.9,187.6 L84.3,187.5 L84.6,187.4 L85.0,187.3 L85.3,187.2 L85.7,187.1 L86.1,187.0 L86.4,186.8 L86.8,186.7 L87.1,186.6 L87.5,186.4 L87.8,186.3 L88.2,186.1 L88.5,186.0 L88.9,185.8 L89.3,185.6 L89.6,185.4 L90.0,185.2 L90.3,185.0 L90.7,184.8 L91.0,184.6 L91.4,184.4 L91.7,184.2 L92.1,183.9 L92.5,183.7 L92.8,183.5 L93.2,183.3 L93.5,183.0 L93.9,182.8 L94.2,182.6 L94.6,182.4 L94.9,182.1 L95.3,181.9 L95.6,181.7 L96.0,181.6 L96.4,181.4 L96.7,181.2 L97.1,181.1 L97.4,180.9 L97.8,180.8 L98.1,180.8 L98.5,180.8 L98.8,180.8 L99.2,180.8 L99.5,180.9 L99.9,181.0 L100.3,181.0 L100.6,181.1 L101.0,181.2 L101.3,181.3 L101.7,181.4 L102.0,181.4 L102.4,181.5 L102.7,181.5 L103.1,181.5 L103.5,181.5 L103.8,181.4 L104.2,181.4 L104.5,181.3 L104.9,181.3 L105.2,181.2 L105.6,181.1 L105.9,180.9 L106.3,180.8 L106.7,180.6 L107.0,180.5 L107.4,180.3 L107.7,180.1 L108.1,179.9 L108.4,179.7 L108.8,179.5 L109.1,179.3 L109.5,179.0 L109.8,178.8 L110.2,178.5 L110.6,178.2 L110.9,177.9 L111.3,177.6 L111.6,177.3 L112.0,177.0 L112.3,176.7 L112.7,176.4 L113.0,176.0 L113.4,175.7 L113.8,175.3 L114.1,174.9 L114.5,174.5 L114.8,174.1 L115.2,173.7 L115.5,173.3 L115.9,172.8 L116.2,172.4 L116.6,171.9 L116.9,171.5 L117.3,171.0 L117.7,170.5 L118.0,170.0 L118.4,169.5 L118.7,169.0 L119.1,168.5 L119.4,167.9 L119.8,167.4 L120.1,166.8 L120.5,166.2 L120.8,165.7 L121.2,165.1 L121.6,164.5 L121.9,163.9 L122.3,163.2 L122.6,162.6 L123.0,162.0 L123.3,161.3 L123.7,160.7 L124.0,160.0 L124.4,159.4 L124.8,158.7 L125.1,158.0 L125.5,157.3 L125.8,156.6 L126.2,155.9 L126.5,155.2 L126.9,154.5 L127.2,153.8 L127.6,153.1 L128.0,152.4 L128.3,151.6 L128.7,150.9 L129.0,150.2 L129.4,149.5 L129.7,148.7 L130.1,148.0 L130.4,147.3 L130.8,146.6 L131.1,145.8 L131.5,145.1 L131.9,144.4 L132.2,143.7 L132.6,143.0 L132.9,142.3 L133.3,141.6 L133.6,140.9 L134.0,140.2 L134.3,139.5 L134.7,138.9 L135.1,138.2 L135.4,137.6 L135.8,136.9 L136.1,136.3 L136.5,135.7 L136.8,135.1 L137.2,134.5 L137.5,133.9 L137.9,133.4 L138.2,132.8 L138.6,132.3 L139.0,131.8 L139.3,131.3 L139.7,130.8 L140.0,130.4 L140.4,129.9 L140.7,129.5 L141.1,129.1 L141.4,128.8 L141.8,128.4 L142.1,128.1 L142.5,127.8 L142.9,127.5 L143.2,127.2 L143.6,127.0 L143.9,126.8 L144.3,126.6 L144.6,126.4 L145.0,126.2 L145.3,126.1 L145.7,126.0 L146.1,126.0 L146.4,125.9 L146.8,125.9 L147.1,125.9 L147.5,125.9 L147.8,125.9 L148.2,126.0 L148.5,126.1 L148.9,126.1 L149.2,126.2 L149.6,126.3 L150.0,126.5 L150.3,126.6 L150.7,126.7 L151.0,126.9 L151.4,127.1 L151.7,127.2 L152.1,127.4 L152.4,127.7 L152.8,127.9 L153.2,128.1 L153.5,128.4 L153.9,128.6 L154.2,128.9 L154.6,129.2 L154.9,129.5 L155.3,129.8 L155.6,130.1 L156.0,130.5 L156.3,130.8 L156.7,131.2 L157.1,131.5 L157.4,131.9 L157.8,132.3 L158.1,132.7 L158.5,133.1 L158.8,133.5 L159.2,133.9 L159.5,134.4 L159.9,134.8 L160.3,135.3 L160.6,135.7 L161.0,136.2 L161.3,136.7 L161.7,137.2 L162.0,137.6 L162.4,138.1 L162.7,138.6 L163.1,139.2 L163.4,139.7 L163.8,140.2 L164.2,140.7 L164.5,141.3 L164.9,141.8 L165.2,142.3 L165.6,142.9 L165.9,143.4 L166.3,144.0 L166.6,144.6 L167.0,145.1 L167.4,145.7 L167.7,146.3 L168.1,146.8 L168.4,147.4 L168.8,148.0 L169.1,148.5 L169.5,149.1 L169.8,149.7 L170.2,150.3 L170.6,150.9 L170.9,151.4 L171.3,152.0 L171.6,152.6 L172.0,153.2 L172.3,153.7 L172.7,154.3 L173.0,154.9 L173.4,155.5 L173.7,156.0 L174.1,156.6 L174.5,157.2 L174.8,157.7 L175.2,158.3 L175.5,158.8 L175.9,159.4 L176.2,160.0 L176.6,160.5 L176.9,161.0 L177.3,161.6 L177.6,162.1 L178.0,162.7 L178.4,163.2 L178.7,163.7 L179.1,164.2 L179.4,164.7 L179.8,165.3 L180.1,165.8 L180.5,166.3 L180.8,166.8 L181.2,167.2 L181.6,167.7 L181.9,168.2 L182.3,168.7 L182.6,169.1 L183.0,169.6 L183.3,170.1 L183.7,170.5 L184.0,171.0 L184.4,171.4 L184.8,171.8 L185.1,172.2 L185.5,172.7 L185.8,173.1 L186.2,173.5 L186.5,173.9 L186.9,174.3 L187.2,174.7 L187.6,175.1 L187.9,175.4 L188.3,175.8 L188.7,176.2 L189.0,176.5 L189.4,176.9 L189.7,177.2 L190.1,177.6 L190.4,177.9 L190.8,178.2 L191.1,178.5 L191.5,178.8 L191.8,179.1 L192.2,179.4 L192.6,179.7 L192.9,180.0 L193.3,180.3 L193.6,180.6 L194.0,180.9 L194.3,181.1 L194.7,181.4 L195.0,181.6 L195.4,181.9 L195.8,182.1 L196.1,182.4 L196.5,182.6 L196.8,182.8 L197.2,183.1 L197.5,183.3 L197.9,183.5 L198.2,183.7 L198.6,183.9 L198.9,184.1 L199.3,184.3 L199.7,184.5 L200.0,184.6 L200.4,184.8 L200.7,185.0 L201.1,185.2 L201.4,185.3 L201.8,185.5 L202.1,185.6 L202.5,185.8 L202.9,185.9 L203.2,186.1 L203.6,186.2 L203.9,186.4 L204.3,186.5 L204.6,186.6 L205.0,186.8 L205.3,186.9 L205.7,187.0 L206.0,187.1 L206.4,187.2 L206.8,187.3 L207.1,187.4 L207.5,187.5 L207.8,187.6 L208.2,187.7 L208.5,187.8 L208.9,187.9 L209.2,188.0 L209.6,188.1 L210.0,188.2 L210.3,188.2 L210.7,188.3 L211.0,188.4 L211.4,188.5 L211.7,188.5 L212.1,188.6 L212.4,188.7 L212.8,188.7 L213.2,188.8 L213.5,188.9 L213.9,188.9 L214.2,189.0 L214.6,189.0 L214.9,189.1 L215.3,189.1 L215.6,189.2 L216.0,189.2 L216.3,189.3 L216.7,189.3 L217.1,189.4 L217.4,189.4 L217.8,189.5 L218.1,189.5 L218.5,189.5 L218.8,189.6 L219.2,189.6 L219.5,189.6 L219.9,189.7 L220.2,189.7 L220.6,189.7 L221.0,189.8 L221.3,189.8 L221.7,189.8 L222.0,189.9 L222.4,189.9 L222.7,189.9 L223.1,189.9 L223.4,190.0 L223.8,190.0 L224.2,190.0 L224.5,190.0 L224.9,190.0 L225.2,190.1 L225.6,190.1 L225.9,190.1 L226.3,190.1 L226.6,190.1 L227.0,190.2 L227.3,190.2 L227.7,190.2 L228.1,190.2 L228.4,190.2 L228.8,190.2 L229.1,190.2 L229.5,190.3 L229.8,190.3 L230.2,190.3 L230.5,190.3 L230.9,190.3 L231.3,190.3 L231.6,190.3 L232.0,190.3 L232.3,190.4 L232.7,190.4 L233.0,190.4 L233.4,190.4 L233.7,190.4 L234.1,190.4 L234.4,190.4 L234.8,190.4 L235.2,190.4 L235.5,190.4 L235.9,190.4 L236.2,190.5 L236.6,190.5 L236.9,190.5 L237.3,190.5 L237.6,190.5 L238.0,190.5 L238.4,190.5 L238.7,190.5 L239.1,190.5 L239.4,190.5 L239.8,190.5 L240.1,190.5 L240.5,190.5 L240.8,190.5 L241.2,190.5 L241.5,190.5 L241.9,190.6 L242.3,190.6 L242.6,190.6 L243.0,190.6 L243.3,190.6 L243.7,190.6 L244.0,190.6 L244.4,190.6 L244.7,190.6 L245.1,190.6 L245.5,190.6 L245.8,190.6 L246.2,190.6 L246.5,190.6 L246.9,190.6 L247.2,190.6 L247.6,190.6 L247.9,190.6 L248.3,190.6 L248.6,190.6 L249.0,190.6 L249.4,190.6 L249.7,190.6 L250.1,190.6 L250.4,190.6 L250.8,190.6 L251.1,190.6 L251.5,190.6 L251.8,190.6 L252.2,190.7 L252.6,190.7 L252.9,190.7 L253.3,190.7 L253.6,190.7 L254.0,190.7 L254.3,190.7 L254.7,190.7 L255.0,190.7 L255.4,190.7 L255.8,190.7" fill="none" stroke="#00f0f0" stroke-width="1.45" stroke-linejoin="round"/>
<path d="M71.2,188.9 L71.5,188.9 L71.9,188.9 L72.2,188.8 L72.6,188.8 L72.9,188.8 L73.3,188.8 L73.6,188.7 L74.0,188.7 L74.3,188.7 L74.7,188.6 L75.1,188.6 L75.4,188.6 L75.8,188.5 L76.1,188.5 L76.5,188.4 L76.8,188.4 L77.2,188.4 L77.5,188.3 L77.9,188.3 L78.2,188.2 L78.6,188.2 L79.0,188.1 L79.3,188.1 L79.7,188.0 L80.0,187.9 L80.4,187.9 L80.7,187.8 L81.1,187.7 L81.4,187.6 L81.8,187.6 L82.2,187.5 L82.5,187.4 L82.9,187.3 L83.2,187.2 L83.6,187.1 L83.9,187.0 L84.3,186.9 L84.6,186.7 L85.0,186.6 L85.3,186.5 L85.7,186.3 L86.1,186.2 L86.4,186.0 L86.8,185.9 L87.1,185.7 L87.5,185.5 L87.8,185.3 L88.2,185.1 L88.5,184.9 L88.9,184.7 L89.3,184.5 L89.6,184.3 L90.0,184.0 L90.3,183.8 L90.7,183.5 L91.0,183.3 L91.4,183.0 L91.7,182.7 L92.1,182.4 L92.5,182.2 L92.8,181.9 L93.2,181.6 L93.5,181.3 L93.9,181.1 L94.2,180.8 L94.6,180.5 L94.9,180.3 L95.3,180.0 L95.6,179.8 L96.0,179.6 L96.4,179.4 L96.7,179.2 L97.1,179.1 L97.4,178.9 L97.8,178.8 L98.1,178.8 L98.5,178.8 L98.8,178.8 L99.2,178.9 L99.5,179.1 L99.9,179.2 L100.3,179.4 L100.6,179.5 L101.0,179.7 L101.3,179.9 L101.7,180.0 L102.0,180.1 L102.4,180.2 L102.7,180.3 L103.1,180.4 L103.5,180.4 L103.8,180.4 L104.2,180.4 L104.5,180.4 L104.9,180.4 L105.2,180.3 L105.6,180.2 L105.9,180.1 L106.3,180.0 L106.7,179.9 L107.0,179.8 L107.4,179.6 L107.7,179.4 L108.1,179.3 L108.4,179.1 L108.8,178.8 L109.1,178.6 L109.5,178.4 L109.8,178.1 L110.2,177.9 L110.6,177.6 L110.9,177.3 L111.3,177.0 L111.6,176.7 L112.0,176.4 L112.3,176.1 L112.7,175.7 L113.0,175.4 L113.4,175.0 L113.8,174.6 L114.1,174.2 L114.5,173.8 L114.8,173.4 L115.2,173.0 L115.5,172.6 L115.9,172.1 L116.2,171.7 L116.6,171.2 L116.9,170.7 L117.3,170.2 L117.7,169.7 L118.0,169.2 L118.4,168.7 L118.7,168.1 L119.1,167.6 L119.4,167.0 L119.8,166.5 L120.1,165.9 L120.5,165.3 L120.8,164.7 L121.2,164.1 L121.6,163.4 L121.9,162.8 L122.3,162.2 L122.6,161.5 L123.0,160.9 L123.3,160.2 L123.7,159.5 L124.0,158.8 L124.4,158.1 L124.8,157.4 L125.1,156.7 L125.5,156.0 L125.8,155.3 L126.2,154.6 L126.5,153.8 L126.9,153.1 L127.2,152.4 L127.6,151.6 L128.0,150.9 L128.3,150.1 L128.7,149.4 L129.0,148.6 L129.4,147.8 L129.7,147.1 L130.1,146.3 L130.4,145.6 L130.8,144.8 L131.1,144.1 L131.5,143.3 L131.9,142.6 L132.2,141.8 L132.6,141.1 L132.9,140.4 L133.3,139.6 L133.6,138.9 L134.0,138.2 L134.3,137.5 L134.7,136.8 L135.1,136.1 L135.4,135.4 L135.8,134.8 L136.1,134.1 L136.5,133.5 L136.8,132.9 L137.2,132.3 L137.5,131.7 L137.9,131.1 L138.2,130.5 L138.6,130.0 L139.0,129.4 L139.3,128.9 L139.7,128.4 L140.0,128.0 L140.4,127.5 L140.7,127.1 L141.1,126.7 L141.4,126.3 L141.8,125.9 L142.1,125.6 L142.5,125.2 L142.9,124.9 L143.2,124.7 L143.6,124.4 L143.9,124.2 L144.3,124.0 L144.6,123.8 L145.0,123.7 L145.3,123.5 L145.7,123.4 L146.1,123.4 L146.4,123.3 L146.8,123.3 L147.1,123.3 L147.5,123.3 L147.8,123.3 L148.2,123.4 L148.5,123.5 L148.9,123.5 L149.2,123.6 L149.6,123.7 L150.0,123.9 L150.3,124.0 L150.7,124.2 L151.0,124.3 L151.4,124.5 L151.7,124.7 L152.1,124.9 L152.4,125.1 L152.8,125.4 L153.2,125.6 L153.5,125.9 L153.9,126.1 L154.2,126.4 L154.6,126.7 L154.9,127.0 L155.3,127.3 L155.6,127.7 L156.0,128.0 L156.3,128.4 L156.7,128.8 L157.1,129.1 L157.4,129.5 L157.8,129.9 L158.1,130.3 L158.5,130.8 L158.8,131.2 L159.2,131.6 L159.5,132.1 L159.9,132.6 L160.3,133.0 L160.6,133.5 L161.0,134.0 L161.3,134.5 L161.7,135.0 L162.0,135.5 L162.4,136.0 L162.7,136.6 L163.1,137.1 L163.4,137.6 L163.8,138.2 L164.2,138.7 L164.5,139.3 L164.9,139.8 L165.2,140.4 L165.6,141.0 L165.9,141.5 L166.3,142.1 L166.6,142.7 L167.0,143.3 L167.4,143.9 L167.7,144.5 L168.1,145.1 L168.4,145.7 L168.8,146.2 L169.1,146.8 L169.5,147.4 L169.8,148.0 L170.2,148.6 L170.6,149.2 L170.9,149.8 L171.3,150.5 L171.6,151.1 L172.0,151.7 L172.3,152.3 L172.7,152.8 L173.0,153.4 L173.4,154.0 L173.7,154.6 L174.1,155.2 L174.5,155.8 L174.8,156.4 L175.2,157.0 L175.5,157.6 L175.9,158.1 L176.2,158.7 L176.6,159.3 L176.9,159.9 L177.3,160.4 L177.6,161.0 L178.0,161.5 L178.4,162.1 L178.7,162.6 L179.1,163.2 L179.4,163.7 L179.8,164.2 L180.1,164.8 L180.5,165.3 L180.8,165.8 L181.2,166.3 L181.6,166.8 L181.9,167.3 L182.3,167.8 L182.6,168.3 L183.0,168.8 L183.3,169.2 L183.7,169.7 L184.0,170.2 L184.4,170.6 L184.8,171.1 L185.1,171.5 L185.5,171.9 L185.8,172.4 L186.2,172.8 L186.5,173.2 L186.9,173.6 L187.2,174.0 L187.6,174.4 L187.9,174.8 L188.3,175.2 L188.7,175.6 L189.0,175.9 L189.4,176.3 L189.7,176.7 L190.1,177.0 L190.4,177.4 L190.8,177.7 L191.1,178.0 L191.5,178.4 L191.8,178.7 L192.2,179.0 L192.6,179.3 L192.9,179.6 L193.3,179.9 L193.6,180.2 L194.0,180.5 L194.3,180.7 L194.7,181.0 L195.0,181.3 L195.4,181.5 L195.8,181.8 L196.1,182.0 L196.5,182.3 L196.8,182.5 L197.2,182.7 L197.5,183.0 L197.9,183.2 L198.2,183.4 L198.6,183.6 L198.9,183.8 L199.3,184.0 L199.7,184.2 L200.0,184.4 L200.4,184.6 L200.7,184.8 L201.1,184.9 L201.4,185.1 L201.8,185.3 L202.1,185.4 L202.5,185.6 L202.9,185.8 L203.2,185.9 L203.6,186.0 L203.9,186.2 L204.3,186.3 L204.6,186.5 L205.0,186.6 L205.3,186.7 L205.7,186.8 L206.0,187.0 L206.4,187.1 L206.8,187.2 L207.1,187.3 L207.5,187.4 L207.8,187.5 L208.2,187.6 L208.5,187.7 L208.9,187.8 L209.2,187.9 L209.6,188.0 L210.0,188.1 L210.3,188.1 L210.7,188.2 L211.0,188.3 L211.4,188.4 L211.7,188.5 L212.1,188.5 L212.4,188.6 L212.8,188.7 L213.2,188.7 L213.5,188.8 L213.9,188.8 L214.2,188.9 L214.6,189.0 L214.9,189.0 L215.3,189.1 L215.6,189.1 L216.0,189.2 L216.3,189.2 L216.7,189.3 L217.1,189.3 L217.4,189.4 L217.8,189.4 L218.1,189.4 L218.5,189.5 L218.8,189.5 L219.2,189.6 L219.5,189.6 L219.9,189.6 L220.2,189.7 L220.6,189.7 L221.0,189.7 L221.3,189.8 L221.7,189.8 L222.0,189.8 L222.4,189.8 L222.7,189.9 L223.1,189.9 L223.4,189.9 L223.8,189.9 L224.2,190.0 L224.5,190.0 L224.9,190.0 L225.2,190.0 L225.6,190.1 L225.9,190.1 L226.3,190.1 L226.6,190.1 L227.0,190.1 L227.3,190.1 L227.7,190.2 L228.1,190.2 L228.4,190.2 L228.8,190.2 L229.1,190.2 L229.5,190.2 L229.8,190.3 L230.2,190.3 L230.5,190.3 L230.9,190.3 L231.3,190.3 L231.6,190.3 L232.0,190.3 L232.3,190.3 L232.7,190.3 L233.0,190.4 L233.4,190.4 L233.7,190.4 L234.1,190.4 L234.4,190.4 L234.8,190.4 L235.2,190.4 L235.5,190.4 L235.9,190.4 L236.2,190.4 L236.6,190.4 L236.9,190.5 L237.3,190.5 L237.6,190.5 L238.0,190.5 L238.4,190.5 L238.7,190.5 L239.1,190.5 L239.4,190.5 L239.8,190.5 L240.1,190.5 L240.5,190.5 L240.8,190.5 L241.2,190.5 L241.5,190.5 L241.9,190.5 L242.3,190.5 L242.6,190.6 L243.0,190.6 L243.3,190.6 L243.7,190.6 L244.0,190.6 L244.4,190.6 L244.7,190.6 L245.1,190.6 L245.5,190.6 L245.8,190.6 L246.2,190.6 L246.5,190.6 L246.9,190.6 L247.2,190.6 L247.6,190.6 L247.9,190.6 L248.3,190.6 L248.6,190.6 L249.0,190.6 L249.4,190.6 L249.7,190.6 L250.1,190.6 L250.4,190.6 L250.8,190.6 L251.1,190.6 L251.5,190.6 L251.8,190.6 L252.2,190.6 L252.6,190.6 L252.9,190.6 L253.3,190.7 L253.6,190.7 L254.0,190.7 L254.3,190.7 L254.7,190.7 L255.0,190.7 L255.4,190.7 L255.8,190.7" fill="none" stroke="#ff30ff" stroke-width="1.45" stroke-linejoin="round"/>
<path d="M71.2,188.6 L71.5,188.6 L71.9,188.6 L72.2,188.5 L72.6,188.5 L72.9,188.5 L73.3,188.4 L73.6,188.4 L74.0,188.3 L74.3,188.3 L74.7,188.3 L75.1,188.2 L75.4,188.2 L75.8,188.1 L76.1,188.1 L76.5,188.0 L76.8,188.0 L77.2,187.9 L77.5,187.9 L77.9,187.8 L78.2,187.7 L78.6,187.7 L79.0,187.6 L79.3,187.5 L79.7,187.5 L80.0,187.4 L80.4,187.3 L80.7,187.2 L81.1,187.1 L81.4,187.0 L81.8,186.9 L82.2,186.8 L82.5,186.7 L82.9,186.6 L83.2,186.5 L83.6,186.3 L83.9,186.2 L84.3,186.1 L84.6,185.9 L85.0,185.8 L85.3,185.6 L85.7,185.4 L86.1,185.2 L86.4,185.0 L86.8,184.8 L87.1,184.6 L87.5,184.4 L87.8,184.2 L88.2,183.9 L88.5,183.7 L88.9,183.4 L89.3,183.2 L89.6,182.9 L90.0,182.6 L90.3,182.3 L90.7,182.0 L91.0,181.7 L91.4,181.3 L91.7,181.0 L92.1,180.7 L92.5,180.3 L92.8,180.0 L93.2,179.6 L93.5,179.3 L93.9,179.0 L94.2,178.7 L94.6,178.3 L94.9,178.0 L95.3,177.8 L95.6,177.5 L96.0,177.3 L96.4,177.0 L96.7,176.9 L97.1,176.7 L97.4,176.6 L97.8,176.5 L98.1,176.5 L98.5,176.5 L98.8,176.7 L99.2,176.9 L99.5,177.1 L99.9,177.4 L100.3,177.6 L100.6,177.9 L101.0,178.2 L101.3,178.5 L101.7,178.7 L102.0,178.9 L102.4,179.1 L102.7,179.3 L103.1,179.5 L103.5,179.6 L103.8,179.7 L104.2,179.8 L104.5,179.9 L104.9,179.9 L105.2,179.9 L105.6,179.9 L105.9,179.9 L106.3,179.8 L106.7,179.7 L107.0,179.7 L107.4,179.5 L107.7,179.4 L108.1,179.3 L108.4,179.1 L108.8,179.0 L109.1,178.8 L109.5,178.6 L109.8,178.4 L110.2,178.2 L110.6,178.0 L110.9,177.7 L111.3,177.5 L111.6,177.2 L112.0,177.0 L112.3,176.7 L112.7,176.4 L113.0,176.1 L113.4,175.8 L113.8,175.5 L114.1,175.1 L114.5,174.8 L114.8,174.4 L115.2,174.1 L115.5,173.7 L115.9,173.3 L116.2,173.0 L116.6,172.6 L116.9,172.1 L117.3,171.7 L117.7,171.3 L118.0,170.9 L118.4,170.4 L118.7,170.0 L119.1,169.5 L119.4,169.0 L119.8,168.5 L120.1,168.0 L120.5,167.5 L120.8,167.0 L121.2,166.5 L121.6,166.0 L121.9,165.5 L122.3,164.9 L122.6,164.4 L123.0,163.8 L123.3,163.2 L123.7,162.7 L124.0,162.1 L124.4,161.5 L124.8,160.9 L125.1,160.3 L125.5,159.7 L125.8,159.1 L126.2,158.5 L126.5,157.9 L126.9,157.3 L127.2,156.7 L127.6,156.0 L128.0,155.4 L128.3,154.8 L128.7,154.1 L129.0,153.5 L129.4,152.9 L129.7,152.2 L130.1,151.6 L130.4,151.0 L130.8,150.3 L131.1,149.7 L131.5,149.1 L131.9,148.5 L132.2,147.8 L132.6,147.2 L132.9,146.6 L133.3,146.0 L133.6,145.4 L134.0,144.8 L134.3,144.2 L134.7,143.6 L135.1,143.1 L135.4,142.5 L135.8,142.0 L136.1,141.4 L136.5,140.9 L136.8,140.4 L137.2,139.9 L137.5,139.4 L137.9,138.9 L138.2,138.4 L138.6,138.0 L139.0,137.5 L139.3,137.1 L139.7,136.7 L140.0,136.3 L140.4,135.9 L140.7,135.6 L141.1,135.2 L141.4,134.9 L141.8,134.6 L142.1,134.3 L142.5,134.0 L142.9,133.8 L143.2,133.6 L143.6,133.4 L143.9,133.2 L144.3,133.0 L144.6,132.9 L145.0,132.8 L145.3,132.7 L145.7,132.6 L146.1,132.5 L146.4,132.5 L146.8,132.5 L147.1,132.5 L147.5,132.5 L147.8,132.6 L148.2,132.6 L148.5,132.7 L148.9,132.8 L149.2,132.9 L149.6,133.0 L150.0,133.1 L150.3,133.2 L150.7,133.3 L151.0,133.5 L151.4,133.6 L151.7,133.8 L152.1,134.0 L152.4,134.2 L152.8,134.4 L153.2,134.6 L153.5,134.8 L153.9,135.1 L154.2,135.3 L154.6,135.6 L154.9,135.9 L155.3,136.1 L155.6,136.4 L156.0,136.7 L156.3,137.0 L156.7,137.4 L157.1,137.7 L157.4,138.0 L157.8,138.4 L158.1,138.7 L158.5,139.1 L158.8,139.5 L159.2,139.9 L159.5,140.3 L159.9,140.7 L160.3,141.1 L160.6,141.5 L161.0,141.9 L161.3,142.3 L161.7,142.8 L162.0,143.2 L162.4,143.7 L162.7,144.1 L163.1,144.6 L163.4,145.0 L163.8,145.5 L164.2,146.0 L164.5,146.4 L164.9,146.9 L165.2,147.4 L165.6,147.9 L165.9,148.4 L166.3,148.9 L166.6,149.4 L167.0,149.9 L167.4,150.4 L167.7,150.9 L168.1,151.4 L168.4,151.9 L168.8,152.5 L169.1,153.0 L169.5,153.5 L169.8,154.0 L170.2,154.5 L170.6,155.0 L170.9,155.6 L171.3,156.1 L171.6,156.6 L172.0,157.1 L172.3,157.6 L172.7,158.1 L173.0,158.7 L173.4,159.2 L173.7,159.7 L174.1,160.2 L174.5,160.7 L174.8,161.2 L175.2,161.7 L175.5,162.2 L175.9,162.7 L176.2,163.2 L176.6,163.7 L176.9,164.2 L177.3,164.6 L177.6,165.1 L178.0,165.6 L178.4,166.1 L178.7,166.5 L179.1,167.0 L179.4,167.5 L179.8,167.9 L180.1,168.4 L180.5,168.8 L180.8,169.3 L181.2,169.7 L181.6,170.1 L181.9,170.6 L182.3,171.0 L182.6,171.4 L183.0,171.8 L183.3,172.2 L183.7,172.6 L184.0,173.0 L184.4,173.4 L184.8,173.8 L185.1,174.2 L185.5,174.6 L185.8,174.9 L186.2,175.3 L186.5,175.7 L186.9,176.0 L187.2,176.4 L187.6,176.7 L187.9,177.0 L188.3,177.4 L188.7,177.7 L189.0,178.0 L189.4,178.3 L189.7,178.6 L190.1,178.9 L190.4,179.2 L190.8,179.5 L191.1,179.8 L191.5,180.1 L191.8,180.4 L192.2,180.6 L192.6,180.9 L192.9,181.1 L193.3,181.4 L193.6,181.6 L194.0,181.9 L194.3,182.1 L194.7,182.4 L195.0,182.6 L195.4,182.8 L195.8,183.0 L196.1,183.2 L196.5,183.5 L196.8,183.7 L197.2,183.9 L197.5,184.0 L197.9,184.2 L198.2,184.4 L198.6,184.6 L198.9,184.8 L199.3,184.9 L199.7,185.1 L200.0,185.3 L200.4,185.4 L200.7,185.6 L201.1,185.7 L201.4,185.9 L201.8,186.0 L202.1,186.2 L202.5,186.3 L202.9,186.4 L203.2,186.6 L203.6,186.7 L203.9,186.8 L204.3,186.9 L204.6,187.0 L205.0,187.2 L205.3,187.3 L205.7,187.4 L206.0,187.5 L206.4,187.6 L206.8,187.7 L207.1,187.8 L207.5,187.9 L207.8,187.9 L208.2,188.0 L208.5,188.1 L208.9,188.2 L209.2,188.3 L209.6,188.4 L210.0,188.4 L210.3,188.5 L210.7,188.6 L211.0,188.6 L211.4,188.7 L211.7,188.8 L212.1,188.8 L212.4,188.9 L212.8,188.9 L213.2,189.0 L213.5,189.1 L213.9,189.1 L214.2,189.2 L214.6,189.2 L214.9,189.3 L215.3,189.3 L215.6,189.3 L216.0,189.4 L216.3,189.4 L216.7,189.5 L217.1,189.5 L217.4,189.5 L217.8,189.6 L218.1,189.6 L218.5,189.7 L218.8,189.7 L219.2,189.7 L219.5,189.7 L219.9,189.8 L220.2,189.8 L220.6,189.8 L221.0,189.9 L221.3,189.9 L221.7,189.9 L222.0,189.9 L222.4,190.0 L222.7,190.0 L223.1,190.0 L223.4,190.0 L223.8,190.0 L224.2,190.1 L224.5,190.1 L224.9,190.1 L225.2,190.1 L225.6,190.1 L225.9,190.2 L226.3,190.2 L226.6,190.2 L227.0,190.2 L227.3,190.2 L227.7,190.2 L228.1,190.3 L228.4,190.3 L228.8,190.3 L229.1,190.3 L229.5,190.3 L229.8,190.3 L230.2,190.3 L230.5,190.3 L230.9,190.3 L231.3,190.4 L231.6,190.4 L232.0,190.4 L232.3,190.4 L232.7,190.4 L233.0,190.4 L233.4,190.4 L233.7,190.4 L234.1,190.4 L234.4,190.4 L234.8,190.4 L235.2,190.5 L235.5,190.5 L235.9,190.5 L236.2,190.5 L236.6,190.5 L236.9,190.5 L237.3,190.5 L237.6,190.5 L238.0,190.5 L238.4,190.5 L238.7,190.5 L239.1,190.5 L239.4,190.5 L239.8,190.5 L240.1,190.5 L240.5,190.5 L240.8,190.6 L241.2,190.6 L241.5,190.6 L241.9,190.6 L242.3,190.6 L242.6,190.6 L243.0,190.6 L243.3,190.6 L243.7,190.6 L244.0,190.6 L244.4,190.6 L244.7,190.6 L245.1,190.6 L245.5,190.6 L245.8,190.6 L246.2,190.6 L246.5,190.6 L246.9,190.6 L247.2,190.6 L247.6,190.6 L247.9,190.6 L248.3,190.6 L248.6,190.6 L249.0,190.6 L249.4,190.6 L249.7,190.6 L250.1,190.6 L250.4,190.6 L250.8,190.6 L251.1,190.6 L251.5,190.6 L251.8,190.7 L252.2,190.7 L252.6,190.7 L252.9,190.7 L253.3,190.7 L253.6,190.7 L254.0,190.7 L254.3,190.7 L254.7,190.7 L255.0,190.7 L255.4,190.7 L255.8,190.7" fill="none" stroke="#f0f020" stroke-width="1.45" stroke-linejoin="round"/>
<path d="M71.2,188.5 L71.5,188.5 L71.9,188.4 L72.2,188.4 L72.6,188.3 L72.9,188.3 L73.3,188.3 L73.6,188.2 L74.0,188.2 L74.3,188.1 L74.7,188.1 L75.1,188.0 L75.4,188.0 L75.8,187.9 L76.1,187.8 L76.5,187.8 L76.8,187.7 L77.2,187.7 L77.5,187.6 L77.9,187.5 L78.2,187.4 L78.6,187.4 L79.0,187.3 L79.3,187.2 L79.7,187.1 L80.0,187.0 L80.4,186.9 L80.7,186.8 L81.1,186.7 L81.4,186.6 L81.8,186.5 L82.2,186.4 L82.5,186.3 L82.9,186.1 L83.2,186.0 L83.6,185.8 L83.9,185.7 L84.3,185.5 L84.6,185.4 L85.0,185.2 L85.3,185.0 L85.7,184.8 L86.1,184.6 L86.4,184.4 L86.8,184.2 L87.1,184.0 L87.5,183.7 L87.8,183.5 L88.2,183.2 L88.5,183.0 L88.9,182.7 L89.3,182.4 L89.6,182.1 L90.0,181.8 L90.3,181.5 L90.7,181.2 L91.0,180.8 L91.4,180.5 L91.7,180.1 L92.1,179.8 L92.5,179.4 L92.8,179.1 L93.2,178.7 L93.5,178.4 L93.9,178.1 L94.2,177.7 L94.6,177.4 L94.9,177.1 L95.3,176.8 L95.6,176.6 L96.0,176.4 L96.4,176.1 L96.7,176.0 L97.1,175.8 L97.4,175.7 L97.8,175.6 L98.1,175.7 L98.5,175.8 L98.8,176.0 L99.2,176.2 L99.5,176.5 L99.9,176.8 L100.3,177.1 L100.6,177.4 L101.0,177.8 L101.3,178.1 L101.7,178.4 L102.0,178.7 L102.4,179.0 L102.7,179.2 L103.1,179.5 L103.5,179.7 L103.8,179.8 L104.2,180.0 L104.5,180.1 L104.9,180.2 L105.2,180.3 L105.6,180.3 L105.9,180.3 L106.3,180.4 L106.7,180.4 L107.0,180.3 L107.4,180.3 L107.7,180.2 L108.1,180.2 L108.4,180.1 L108.8,180.0 L109.1,179.9 L109.5,179.8 L109.8,179.6 L110.2,179.5 L110.6,179.3 L110.9,179.2 L111.3,179.0 L111.6,178.8 L112.0,178.6 L112.3,178.4 L112.7,178.2 L113.0,178.0 L113.4,177.8 L113.8,177.6 L114.1,177.3 L114.5,177.1 L114.8,176.8 L115.2,176.6 L115.5,176.3 L115.9,176.0 L116.2,175.7 L116.6,175.4 L116.9,175.1 L117.3,174.8 L117.7,174.5 L118.0,174.1 L118.4,173.8 L118.7,173.5 L119.1,173.1 L119.4,172.8 L119.8,172.4 L120.1,172.0 L120.5,171.6 L120.8,171.2 L121.2,170.9 L121.6,170.5 L121.9,170.0 L122.3,169.6 L122.6,169.2 L123.0,168.8 L123.3,168.4 L123.7,167.9 L124.0,167.5 L124.4,167.0 L124.8,166.6 L125.1,166.1 L125.5,165.7 L125.8,165.2 L126.2,164.8 L126.5,164.3 L126.9,163.8 L127.2,163.4 L127.6,162.9 L128.0,162.4 L128.3,161.9 L128.7,161.5 L129.0,161.0 L129.4,160.5 L129.7,160.0 L130.1,159.6 L130.4,159.1 L130.8,158.6 L131.1,158.1 L131.5,157.7 L131.9,157.2 L132.2,156.7 L132.6,156.3 L132.9,155.8 L133.3,155.4 L133.6,154.9 L134.0,154.5 L134.3,154.0 L134.7,153.6 L135.1,153.2 L135.4,152.8 L135.8,152.4 L136.1,152.0 L136.5,151.6 L136.8,151.2 L137.2,150.8 L137.5,150.5 L137.9,150.1 L138.2,149.8 L138.6,149.5 L139.0,149.1 L139.3,148.8 L139.7,148.6 L140.0,148.3 L140.4,148.0 L140.7,147.8 L141.1,147.5 L141.4,147.3 L141.8,147.1 L142.1,146.9 L142.5,146.7 L142.9,146.5 L143.2,146.4 L143.6,146.3 L143.9,146.1 L144.3,146.0 L144.6,146.0 L145.0,145.9 L145.3,145.8 L145.7,145.8 L146.1,145.8 L146.4,145.8 L146.8,145.8 L147.1,145.8 L147.5,145.9 L147.8,145.9 L148.2,146.0 L148.5,146.0 L148.9,146.1 L149.2,146.2 L149.6,146.3 L150.0,146.4 L150.3,146.5 L150.7,146.7 L151.0,146.8 L151.4,146.9 L151.7,147.1 L152.1,147.2 L152.4,147.4 L152.8,147.6 L153.2,147.8 L153.5,148.0 L153.9,148.2 L154.2,148.4 L154.6,148.6 L154.9,148.8 L155.3,149.0 L155.6,149.3 L156.0,149.5 L156.3,149.8 L156.7,150.0 L157.1,150.3 L157.4,150.6 L157.8,150.8 L158.1,151.1 L158.5,151.4 L158.8,151.7 L159.2,152.0 L159.5,152.3 L159.9,152.6 L160.3,153.0 L160.6,153.3 L161.0,153.6 L161.3,154.0 L161.7,154.3 L162.0,154.6 L162.4,155.0 L162.7,155.3 L163.1,155.7 L163.4,156.1 L163.8,156.4 L164.2,156.8 L164.5,157.2 L164.9,157.5 L165.2,157.9 L165.6,158.3 L165.9,158.7 L166.3,159.1 L166.6,159.4 L167.0,159.8 L167.4,160.2 L167.7,160.6 L168.1,161.0 L168.4,161.4 L168.8,161.8 L169.1,162.2 L169.5,162.6 L169.8,163.0 L170.2,163.4 L170.6,163.8 L170.9,164.2 L171.3,164.5 L171.6,164.9 L172.0,165.3 L172.3,165.7 L172.7,166.1 L173.0,166.5 L173.4,166.9 L173.7,167.3 L174.1,167.7 L174.5,168.1 L174.8,168.4 L175.2,168.8 L175.5,169.2 L175.9,169.6 L176.2,170.0 L176.6,170.3 L176.9,170.7 L177.3,171.1 L177.6,171.4 L178.0,171.8 L178.4,172.1 L178.7,172.5 L179.1,172.9 L179.4,173.2 L179.8,173.5 L180.1,173.9 L180.5,174.2 L180.8,174.6 L181.2,174.9 L181.6,175.2 L181.9,175.5 L182.3,175.9 L182.6,176.2 L183.0,176.5 L183.3,176.8 L183.7,177.1 L184.0,177.4 L184.4,177.7 L184.8,178.0 L185.1,178.3 L185.5,178.6 L185.8,178.8 L186.2,179.1 L186.5,179.4 L186.9,179.6 L187.2,179.9 L187.6,180.2 L187.9,180.4 L188.3,180.7 L188.7,180.9 L189.0,181.2 L189.4,181.4 L189.7,181.6 L190.1,181.8 L190.4,182.1 L190.8,182.3 L191.1,182.5 L191.5,182.7 L191.8,182.9 L192.2,183.1 L192.6,183.3 L192.9,183.5 L193.3,183.7 L193.6,183.9 L194.0,184.1 L194.3,184.3 L194.7,184.4 L195.0,184.6 L195.4,184.8 L195.8,184.9 L196.1,185.1 L196.5,185.3 L196.8,185.4 L197.2,185.6 L197.5,185.7 L197.9,185.8 L198.2,186.0 L198.6,186.1 L198.9,186.2 L199.3,186.4 L199.7,186.5 L200.0,186.6 L200.4,186.7 L200.7,186.9 L201.1,187.0 L201.4,187.1 L201.8,187.2 L202.1,187.3 L202.5,187.4 L202.9,187.5 L203.2,187.6 L203.6,187.7 L203.9,187.8 L204.3,187.9 L204.6,188.0 L205.0,188.0 L205.3,188.1 L205.7,188.2 L206.0,188.3 L206.4,188.4 L206.8,188.4 L207.1,188.5 L207.5,188.6 L207.8,188.6 L208.2,188.7 L208.5,188.8 L208.9,188.8 L209.2,188.9 L209.6,188.9 L210.0,189.0 L210.3,189.1 L210.7,189.1 L211.0,189.2 L211.4,189.2 L211.7,189.2 L212.1,189.3 L212.4,189.3 L212.8,189.4 L213.2,189.4 L213.5,189.5 L213.9,189.5 L214.2,189.5 L214.6,189.6 L214.9,189.6 L215.3,189.7 L215.6,189.7 L216.0,189.7 L216.3,189.7 L216.7,189.8 L217.1,189.8 L217.4,189.8 L217.8,189.9 L218.1,189.9 L218.5,189.9 L218.8,189.9 L219.2,190.0 L219.5,190.0 L219.9,190.0 L220.2,190.0 L220.6,190.1 L221.0,190.1 L221.3,190.1 L221.7,190.1 L222.0,190.1 L222.4,190.1 L222.7,190.2 L223.1,190.2 L223.4,190.2 L223.8,190.2 L224.2,190.2 L224.5,190.2 L224.9,190.3 L225.2,190.3 L225.6,190.3 L225.9,190.3 L226.3,190.3 L226.6,190.3 L227.0,190.3 L227.3,190.3 L227.7,190.4 L228.1,190.4 L228.4,190.4 L228.8,190.4 L229.1,190.4 L229.5,190.4 L229.8,190.4 L230.2,190.4 L230.5,190.4 L230.9,190.4 L231.3,190.4 L231.6,190.5 L232.0,190.5 L232.3,190.5 L232.7,190.5 L233.0,190.5 L233.4,190.5 L233.7,190.5 L234.1,190.5 L234.4,190.5 L234.8,190.5 L235.2,190.5 L235.5,190.5 L235.9,190.5 L236.2,190.5 L236.6,190.5 L236.9,190.5 L237.3,190.6 L237.6,190.6 L238.0,190.6 L238.4,190.6 L238.7,190.6 L239.1,190.6 L239.4,190.6 L239.8,190.6 L240.1,190.6 L240.5,190.6 L240.8,190.6 L241.2,190.6 L241.5,190.6 L241.9,190.6 L242.3,190.6 L242.6,190.6 L243.0,190.6 L243.3,190.6 L243.7,190.6 L244.0,190.6 L244.4,190.6 L244.7,190.6 L245.1,190.6 L245.5,190.6 L245.8,190.6 L246.2,190.6 L246.5,190.6 L246.9,190.6 L247.2,190.6 L247.6,190.6 L247.9,190.7 L248.3,190.7 L248.6,190.7 L249.0,190.7 L249.4,190.7 L249.7,190.7 L250.1,190.7 L250.4,190.7 L250.8,190.7 L251.1,190.7 L251.5,190.7 L251.8,190.7 L252.2,190.7 L252.6,190.7 L252.9,190.7 L253.3,190.7 L253.6,190.7 L254.0,190.7 L254.3,190.7 L254.7,190.7 L255.0,190.7 L255.4,190.7 L255.8,190.7" fill="none" stroke="#909030" stroke-width="1.45" stroke-linejoin="round"/>
<path d="M71.2,187.7 L71.5,187.6 L71.9,187.5 L72.2,187.4 L72.6,187.4 L72.9,187.3 L73.3,187.2 L73.6,187.1 L74.0,187.0 L74.3,186.9 L74.7,186.8 L75.1,186.7 L75.4,186.6 L75.8,186.5 L76.1,186.3 L76.5,186.2 L76.8,186.1 L77.2,186.0 L77.5,185.8 L77.9,185.7 L78.2,185.6 L78.6,185.4 L79.0,185.3 L79.3,185.1 L79.7,184.9 L80.0,184.8 L80.4,184.6 L80.7,184.4 L81.1,184.2 L81.4,184.0 L81.8,183.8 L82.2,183.6 L82.5,183.4 L82.9,183.2 L83.2,183.0 L83.6,182.8 L83.9,182.5 L84.3,182.3 L84.6,182.0 L85.0,181.8 L85.3,181.5 L85.7,181.2 L86.1,180.9 L86.4,180.7 L86.8,180.4 L87.1,180.1 L87.5,179.7 L87.8,179.4 L88.2,179.1 L88.5,178.8 L88.9,178.4 L89.3,178.1 L89.6,177.8 L90.0,177.4 L90.3,177.1 L90.7,176.7 L91.0,176.4 L91.4,176.0 L91.7,175.6 L92.1,175.3 L92.5,175.0 L92.8,174.6 L93.2,174.3 L93.5,174.0 L93.9,173.7 L94.2,173.4 L94.6,173.1 L94.9,172.8 L95.3,172.6 L95.6,172.3 L96.0,172.1 L96.4,171.9 L96.7,171.8 L97.1,171.6 L97.4,171.5 L97.8,171.4 L98.1,171.4 L98.5,171.3 L98.8,171.3 L99.2,171.4 L99.5,171.5 L99.9,171.6 L100.3,171.7 L100.6,171.8 L101.0,172.0 L101.3,172.1 L101.7,172.3 L102.0,172.5 L102.4,172.7 L102.7,172.9 L103.1,173.1 L103.5,173.2 L103.8,173.4 L104.2,173.6 L104.5,173.8 L104.9,173.9 L105.2,174.1 L105.6,174.2 L105.9,174.4 L106.3,174.5 L106.7,174.6 L107.0,174.7 L107.4,174.8 L107.7,174.8 L108.1,174.9 L108.4,174.9 L108.8,175.0 L109.1,175.0 L109.5,175.0 L109.8,175.0 L110.2,174.9 L110.6,174.9 L110.9,174.9 L111.3,174.8 L111.6,174.7 L112.0,174.7 L112.3,174.6 L112.7,174.5 L113.0,174.4 L113.4,174.2 L113.8,174.1 L114.1,174.0 L114.5,173.8 L114.8,173.6 L115.2,173.5 L115.5,173.3 L115.9,173.1 L116.2,172.9 L116.6,172.7 L116.9,172.5 L117.3,172.3 L117.7,172.0 L118.0,171.8 L118.4,171.6 L118.7,171.3 L119.1,171.1 L119.4,170.8 L119.8,170.5 L120.1,170.2 L120.5,170.0 L120.8,169.7 L121.2,169.4 L121.6,169.0 L121.9,168.7 L122.3,168.4 L122.6,168.1 L123.0,167.8 L123.3,167.4 L123.7,167.1 L124.0,166.7 L124.4,166.4 L124.8,166.0 L125.1,165.6 L125.5,165.3 L125.8,164.9 L126.2,164.5 L126.5,164.2 L126.9,163.8 L127.2,163.4 L127.6,163.0 L128.0,162.6 L128.3,162.2 L128.7,161.8 L129.0,161.4 L129.4,161.1 L129.7,160.7 L130.1,160.3 L130.4,159.9 L130.8,159.5 L131.1,159.1 L131.5,158.7 L131.9,158.3 L132.2,158.0 L132.6,157.6 L132.9,157.2 L133.3,156.8 L133.6,156.5 L134.0,156.1 L134.3,155.8 L134.7,155.4 L135.1,155.1 L135.4,154.7 L135.8,154.4 L136.1,154.1 L136.5,153.8 L136.8,153.4 L137.2,153.1 L137.5,152.9 L137.9,152.6 L138.2,152.3 L138.6,152.0 L139.0,151.8 L139.3,151.5 L139.7,151.3 L140.0,151.1 L140.4,150.9 L140.7,150.7 L141.1,150.5 L141.4,150.3 L141.8,150.1 L142.1,150.0 L142.5,149.9 L142.9,149.7 L143.2,149.6 L143.6,149.5 L143.9,149.4 L144.3,149.4 L144.6,149.3 L145.0,149.3 L145.3,149.3 L145.7,149.2 L146.1,149.2 L146.4,149.3 L146.8,149.3 L147.1,149.3 L147.5,149.4 L147.8,149.5 L148.2,149.5 L148.5,149.6 L148.9,149.7 L149.2,149.8 L149.6,149.9 L150.0,150.0 L150.3,150.1 L150.7,150.3 L151.0,150.4 L151.4,150.5 L151.7,150.7 L152.1,150.8 L152.4,151.0 L152.8,151.2 L153.2,151.4 L153.5,151.6 L153.9,151.7 L154.2,151.9 L154.6,152.2 L154.9,152.4 L155.3,152.6 L155.6,152.8 L156.0,153.1 L156.3,153.3 L156.7,153.5 L157.1,153.8 L157.4,154.0 L157.8,154.3 L158.1,154.6 L158.5,154.9 L158.8,155.1 L159.2,155.4 L159.5,155.7 L159.9,156.0 L160.3,156.3 L160.6,156.6 L161.0,156.9 L161.3,157.2 L161.7,157.5 L162.0,157.9 L162.4,158.2 L162.7,158.5 L163.1,158.8 L163.4,159.2 L163.8,159.5 L164.2,159.8 L164.5,160.2 L164.9,160.5 L165.2,160.9 L165.6,161.2 L165.9,161.6 L166.3,161.9 L166.6,162.3 L167.0,162.6 L167.4,163.0 L167.7,163.4 L168.1,163.7 L168.4,164.1 L168.8,164.4 L169.1,164.8 L169.5,165.1 L169.8,165.5 L170.2,165.9 L170.6,166.2 L170.9,166.6 L171.3,167.0 L171.6,167.3 L172.0,167.7 L172.3,168.0 L172.7,168.4 L173.0,168.7 L173.4,169.1 L173.7,169.4 L174.1,169.8 L174.5,170.1 L174.8,170.5 L175.2,170.8 L175.5,171.2 L175.9,171.5 L176.2,171.9 L176.6,172.2 L176.9,172.5 L177.3,172.9 L177.6,173.2 L178.0,173.5 L178.4,173.8 L178.7,174.2 L179.1,174.5 L179.4,174.8 L179.8,175.1 L180.1,175.4 L180.5,175.7 L180.8,176.0 L181.2,176.3 L181.6,176.6 L181.9,176.9 L182.3,177.2 L182.6,177.5 L183.0,177.8 L183.3,178.0 L183.7,178.3 L184.0,178.6 L184.4,178.9 L184.8,179.1 L185.1,179.4 L185.5,179.6 L185.8,179.9 L186.2,180.1 L186.5,180.4 L186.9,180.6 L187.2,180.9 L187.6,181.1 L187.9,181.3 L188.3,181.5 L188.7,181.8 L189.0,182.0 L189.4,182.2 L189.7,182.4 L190.1,182.6 L190.4,182.8 L190.8,183.0 L191.1,183.2 L191.5,183.4 L191.8,183.6 L192.2,183.8 L192.6,183.9 L192.9,184.1 L193.3,184.3 L193.6,184.5 L194.0,184.6 L194.3,184.8 L194.7,184.9 L195.0,185.1 L195.4,185.2 L195.8,185.4 L196.1,185.5 L196.5,185.7 L196.8,185.8 L197.2,185.9 L197.5,186.1 L197.9,186.2 L198.2,186.3 L198.6,186.5 L198.9,186.6 L199.3,186.7 L199.7,186.8 L200.0,186.9 L200.4,187.0 L200.7,187.1 L201.1,187.2 L201.4,187.3 L201.8,187.4 L202.1,187.5 L202.5,187.6 L202.9,187.7 L203.2,187.8 L203.6,187.9 L203.9,188.0 L204.3,188.0 L204.6,188.1 L205.0,188.2 L205.3,188.3 L205.7,188.4 L206.0,188.4 L206.4,188.5 L206.8,188.6 L207.1,188.6 L207.5,188.7 L207.8,188.7 L208.2,188.8 L208.5,188.9 L208.9,188.9 L209.2,189.0 L209.6,189.0 L210.0,189.1 L210.3,189.1 L210.7,189.2 L211.0,189.2 L211.4,189.3 L211.7,189.3 L212.1,189.3 L212.4,189.4 L212.8,189.4 L213.2,189.5 L213.5,189.5 L213.9,189.5 L214.2,189.6 L214.6,189.6 L214.9,189.6 L215.3,189.7 L215.6,189.7 L216.0,189.7 L216.3,189.8 L216.7,189.8 L217.1,189.8 L217.4,189.8 L217.8,189.9 L218.1,189.9 L218.5,189.9 L218.8,189.9 L219.2,190.0 L219.5,190.0 L219.9,190.0 L220.2,190.0 L220.6,190.0 L221.0,190.1 L221.3,190.1 L221.7,190.1 L222.0,190.1 L222.4,190.1 L222.7,190.2 L223.1,190.2 L223.4,190.2 L223.8,190.2 L224.2,190.2 L224.5,190.2 L224.9,190.2 L225.2,190.3 L225.6,190.3 L225.9,190.3 L226.3,190.3 L226.6,190.3 L227.0,190.3 L227.3,190.3 L227.7,190.3 L228.1,190.3 L228.4,190.4 L228.8,190.4 L229.1,190.4 L229.5,190.4 L229.8,190.4 L230.2,190.4 L230.5,190.4 L230.9,190.4 L231.3,190.4 L231.6,190.4 L232.0,190.4 L232.3,190.4 L232.7,190.4 L233.0,190.5 L233.4,190.5 L233.7,190.5 L234.1,190.5 L234.4,190.5 L234.8,190.5 L235.2,190.5 L235.5,190.5 L235.9,190.5 L236.2,190.5 L236.6,190.5 L236.9,190.5 L237.3,190.5 L237.6,190.5 L238.0,190.5 L238.4,190.5 L238.7,190.5 L239.1,190.5 L239.4,190.5 L239.8,190.5 L240.1,190.6 L240.5,190.6 L240.8,190.6 L241.2,190.6 L241.5,190.6 L241.9,190.6 L242.3,190.6 L242.6,190.6 L243.0,190.6 L243.3,190.6 L243.7,190.6 L244.0,190.6 L244.4,190.6 L244.7,190.6 L245.1,190.6 L245.5,190.6 L245.8,190.6 L246.2,190.6 L246.5,190.6 L246.9,190.6 L247.2,190.6 L247.6,190.6 L247.9,190.6 L248.3,190.6 L248.6,190.6 L249.0,190.6 L249.4,190.6 L249.7,190.6 L250.1,190.6 L250.4,190.6 L250.8,190.6 L251.1,190.6 L251.5,190.6 L251.8,190.6 L252.2,190.6 L252.6,190.6 L252.9,190.6 L253.3,190.6 L253.6,190.6 L254.0,190.6 L254.3,190.6 L254.7,190.6 L255.0,190.6 L255.4,190.7 L255.8,190.7" fill="none" stroke="#202080" stroke-width="1.45" stroke-linejoin="round"/>
<path d="M71.2,185.6 L71.5,185.4 L71.9,185.3 L72.2,185.2 L72.6,185.0 L72.9,184.9 L73.3,184.7 L73.6,184.6 L74.0,184.4 L74.3,184.3 L74.7,184.1 L75.1,183.9 L75.4,183.7 L75.8,183.6 L76.1,183.4 L76.5,183.2 L76.8,183.0 L77.2,182.8 L77.5,182.6 L77.9,182.4 L78.2,182.1 L78.6,181.9 L79.0,181.7 L79.3,181.4 L79.7,181.2 L80.0,180.9 L80.4,180.6 L80.7,180.4 L81.1,180.1 L81.4,179.8 L81.8,179.5 L82.2,179.2 L82.5,178.9 L82.9,178.6 L83.2,178.2 L83.6,177.9 L83.9,177.5 L84.3,177.2 L84.6,176.8 L85.0,176.4 L85.3,176.0 L85.7,175.6 L86.1,175.2 L86.4,174.8 L86.8,174.3 L87.1,173.9 L87.5,173.4 L87.8,173.0 L88.2,172.5 L88.5,172.0 L88.9,171.5 L89.3,171.0 L89.6,170.5 L90.0,170.0 L90.3,169.5 L90.7,169.0 L91.0,168.5 L91.4,168.0 L91.7,167.5 L92.1,167.0 L92.5,166.5 L92.8,166.0 L93.2,165.5 L93.5,165.1 L93.9,164.7 L94.2,164.2 L94.6,163.8 L94.9,163.5 L95.3,163.1 L95.6,162.8 L96.0,162.5 L96.4,162.2 L96.7,162.0 L97.1,161.8 L97.4,161.6 L97.8,161.5 L98.1,161.4 L98.5,161.4 L98.8,161.5 L99.2,161.5 L99.5,161.6 L99.9,161.8 L100.3,162.0 L100.6,162.2 L101.0,162.4 L101.3,162.7 L101.7,162.9 L102.0,163.2 L102.4,163.5 L102.7,163.8 L103.1,164.1 L103.5,164.4 L103.8,164.7 L104.2,165.0 L104.5,165.3 L104.9,165.6 L105.2,165.8 L105.6,166.1 L105.9,166.3 L106.3,166.6 L106.7,166.8 L107.0,167.0 L107.4,167.1 L107.7,167.3 L108.1,167.5 L108.4,167.6 L108.8,167.7 L109.1,167.8 L109.5,167.9 L109.8,168.0 L110.2,168.1 L110.6,168.1 L110.9,168.2 L111.3,168.2 L111.6,168.2 L112.0,168.2 L112.3,168.2 L112.7,168.2 L113.0,168.1 L113.4,168.1 L113.8,168.1 L114.1,168.0 L114.5,167.9 L114.8,167.9 L115.2,167.8 L115.5,167.7 L115.9,167.6 L116.2,167.5 L116.6,167.3 L116.9,167.2 L117.3,167.1 L117.7,167.0 L118.0,166.8 L118.4,166.7 L118.7,166.5 L119.1,166.3 L119.4,166.2 L119.8,166.0 L120.1,165.8 L120.5,165.7 L120.8,165.5 L121.2,165.3 L121.6,165.1 L121.9,164.9 L122.3,164.7 L122.6,164.5 L123.0,164.3 L123.3,164.1 L123.7,163.8 L124.0,163.6 L124.4,163.4 L124.8,163.2 L125.1,162.9 L125.5,162.7 L125.8,162.4 L126.2,162.2 L126.5,162.0 L126.9,161.7 L127.2,161.5 L127.6,161.2 L128.0,161.0 L128.3,160.7 L128.7,160.5 L129.0,160.2 L129.4,159.9 L129.7,159.7 L130.1,159.4 L130.4,159.2 L130.8,158.9 L131.1,158.7 L131.5,158.4 L131.9,158.2 L132.2,157.9 L132.6,157.7 L132.9,157.4 L133.3,157.2 L133.6,157.0 L134.0,156.7 L134.3,156.5 L134.7,156.3 L135.1,156.1 L135.4,155.8 L135.8,155.6 L136.1,155.4 L136.5,155.2 L136.8,155.0 L137.2,154.8 L137.5,154.7 L137.9,154.5 L138.2,154.3 L138.6,154.2 L139.0,154.0 L139.3,153.9 L139.7,153.7 L140.0,153.6 L140.4,153.5 L140.7,153.4 L141.1,153.3 L141.4,153.2 L141.8,153.1 L142.1,153.0 L142.5,153.0 L142.9,152.9 L143.2,152.9 L143.6,152.8 L143.9,152.8 L144.3,152.8 L144.6,152.8 L145.0,152.8 L145.3,152.8 L145.7,152.8 L146.1,152.9 L146.4,152.9 L146.8,153.0 L147.1,153.0 L147.5,153.1 L147.8,153.2 L148.2,153.3 L148.5,153.4 L148.9,153.5 L149.2,153.6 L149.6,153.7 L150.0,153.8 L150.3,154.0 L150.7,154.1 L151.0,154.2 L151.4,154.4 L151.7,154.5 L152.1,154.7 L152.4,154.8 L152.8,155.0 L153.2,155.2 L153.5,155.3 L153.9,155.5 L154.2,155.7 L154.6,155.9 L154.9,156.1 L155.3,156.3 L155.6,156.5 L156.0,156.7 L156.3,156.9 L156.7,157.2 L157.1,157.4 L157.4,157.6 L157.8,157.8 L158.1,158.1 L158.5,158.3 L158.8,158.6 L159.2,158.8 L159.5,159.1 L159.9,159.3 L160.3,159.6 L160.6,159.9 L161.0,160.1 L161.3,160.4 L161.7,160.7 L162.0,160.9 L162.4,161.2 L162.7,161.5 L163.1,161.8 L163.4,162.1 L163.8,162.4 L164.2,162.6 L164.5,162.9 L164.9,163.2 L165.2,163.5 L165.6,163.8 L165.9,164.1 L166.3,164.4 L166.6,164.7 L167.0,165.0 L167.4,165.3 L167.7,165.6 L168.1,165.9 L168.4,166.3 L168.8,166.6 L169.1,166.9 L169.5,167.2 L169.8,167.5 L170.2,167.8 L170.6,168.1 L170.9,168.4 L171.3,168.7 L171.6,169.0 L172.0,169.3 L172.3,169.6 L172.7,169.9 L173.0,170.2 L173.4,170.5 L173.7,170.8 L174.1,171.1 L174.5,171.4 L174.8,171.7 L175.2,172.0 L175.5,172.3 L175.9,172.6 L176.2,172.9 L176.6,173.2 L176.9,173.5 L177.3,173.7 L177.6,174.0 L178.0,174.3 L178.4,174.6 L178.7,174.9 L179.1,175.1 L179.4,175.4 L179.8,175.7 L180.1,175.9 L180.5,176.2 L180.8,176.5 L181.2,176.7 L181.6,177.0 L181.9,177.2 L182.3,177.5 L182.6,177.7 L183.0,178.0 L183.3,178.2 L183.7,178.4 L184.0,178.7 L184.4,178.9 L184.8,179.1 L185.1,179.4 L185.5,179.6 L185.8,179.8 L186.2,180.0 L186.5,180.2 L186.9,180.5 L187.2,180.7 L187.6,180.9 L187.9,181.1 L188.3,181.3 L188.7,181.5 L189.0,181.7 L189.4,181.9 L189.7,182.0 L190.1,182.2 L190.4,182.4 L190.8,182.6 L191.1,182.8 L191.5,182.9 L191.8,183.1 L192.2,183.3 L192.6,183.4 L192.9,183.6 L193.3,183.8 L193.6,183.9 L194.0,184.1 L194.3,184.2 L194.7,184.4 L195.0,184.5 L195.4,184.7 L195.8,184.8 L196.1,184.9 L196.5,185.1 L196.8,185.2 L197.2,185.3 L197.5,185.4 L197.9,185.6 L198.2,185.7 L198.6,185.8 L198.9,185.9 L199.3,186.0 L199.7,186.1 L200.0,186.3 L200.4,186.4 L200.7,186.5 L201.1,186.6 L201.4,186.7 L201.8,186.8 L202.1,186.9 L202.5,186.9 L202.9,187.0 L203.2,187.1 L203.6,187.2 L203.9,187.3 L204.3,187.4 L204.6,187.5 L205.0,187.5 L205.3,187.6 L205.7,187.7 L206.0,187.8 L206.4,187.8 L206.8,187.9 L207.1,188.0 L207.5,188.0 L207.8,188.1 L208.2,188.2 L208.5,188.2 L208.9,188.3 L209.2,188.4 L209.6,188.4 L210.0,188.5 L210.3,188.5 L210.7,188.6 L211.0,188.6 L211.4,188.7 L211.7,188.7 L212.1,188.8 L212.4,188.8 L212.8,188.9 L213.2,188.9 L213.5,189.0 L213.9,189.0 L214.2,189.1 L214.6,189.1 L214.9,189.1 L215.3,189.2 L215.6,189.2 L216.0,189.2 L216.3,189.3 L216.7,189.3 L217.1,189.4 L217.4,189.4 L217.8,189.4 L218.1,189.4 L218.5,189.5 L218.8,189.5 L219.2,189.5 L219.5,189.6 L219.9,189.6 L220.2,189.6 L220.6,189.6 L221.0,189.7 L221.3,189.7 L221.7,189.7 L222.0,189.7 L222.4,189.8 L222.7,189.8 L223.1,189.8 L223.4,189.8 L223.8,189.9 L224.2,189.9 L224.5,189.9 L224.9,189.9 L225.2,189.9 L225.6,190.0 L225.9,190.0 L226.3,190.0 L226.6,190.0 L227.0,190.0 L227.3,190.0 L227.7,190.1 L228.1,190.1 L228.4,190.1 L228.8,190.1 L229.1,190.1 L229.5,190.1 L229.8,190.1 L230.2,190.2 L230.5,190.2 L230.9,190.2 L231.3,190.2 L231.6,190.2 L232.0,190.2 L232.3,190.2 L232.7,190.2 L233.0,190.3 L233.4,190.3 L233.7,190.3 L234.1,190.3 L234.4,190.3 L234.8,190.3 L235.2,190.3 L235.5,190.3 L235.9,190.3 L236.2,190.3 L236.6,190.3 L236.9,190.4 L237.3,190.4 L237.6,190.4 L238.0,190.4 L238.4,190.4 L238.7,190.4 L239.1,190.4 L239.4,190.4 L239.8,190.4 L240.1,190.4 L240.5,190.4 L240.8,190.4 L241.2,190.4 L241.5,190.4 L241.9,190.5 L242.3,190.5 L242.6,190.5 L243.0,190.5 L243.3,190.5 L243.7,190.5 L244.0,190.5 L244.4,190.5 L244.7,190.5 L245.1,190.5 L245.5,190.5 L245.8,190.5 L246.2,190.5 L246.5,190.5 L246.9,190.5 L247.2,190.5 L247.6,190.5 L247.9,190.5 L248.3,190.5 L248.6,190.5 L249.0,190.5 L249.4,190.5 L249.7,190.6 L250.1,190.6 L250.4,190.6 L250.8,190.6 L251.1,190.6 L251.5,190.6 L251.8,190.6 L252.2,190.6 L252.6,190.6 L252.9,190.6 L253.3,190.6 L253.6,190.6 L254.0,190.6 L254.3,190.6 L254.7,190.6 L255.0,190.6 L255.4,190.6 L255.8,190.6" fill="none" stroke="#903090" stroke-width="1.45" stroke-linejoin="round"/>
<path d="M71.2,184.4 L71.5,184.3 L71.9,184.1 L72.2,184.0 L72.6,183.8 L72.9,183.6 L73.3,183.4 L73.6,183.2 L74.0,183.0 L74.3,182.8 L74.7,182.6 L75.1,182.4 L75.4,182.2 L75.8,182.0 L76.1,181.7 L76.5,181.5 L76.8,181.2 L77.2,181.0 L77.5,180.7 L77.9,180.5 L78.2,180.2 L78.6,179.9 L79.0,179.6 L79.3,179.3 L79.7,179.0 L80.0,178.7 L80.4,178.3 L80.7,178.0 L81.1,177.7 L81.4,177.3 L81.8,176.9 L82.2,176.5 L82.5,176.2 L82.9,175.8 L83.2,175.3 L83.6,174.9 L83.9,174.5 L84.3,174.0 L84.6,173.6 L85.0,173.1 L85.3,172.6 L85.7,172.1 L86.1,171.6 L86.4,171.1 L86.8,170.5 L87.1,170.0 L87.5,169.4 L87.8,168.9 L88.2,168.3 L88.5,167.7 L88.9,167.1 L89.3,166.5 L89.6,165.9 L90.0,165.3 L90.3,164.7 L90.7,164.0 L91.0,163.4 L91.4,162.8 L91.7,162.2 L92.1,161.6 L92.5,160.9 L92.8,160.4 L93.2,159.8 L93.5,159.2 L93.9,158.7 L94.2,158.1 L94.6,157.7 L94.9,157.2 L95.3,156.8 L95.6,156.4 L96.0,156.0 L96.4,155.7 L96.7,155.4 L97.1,155.1 L97.4,154.9 L97.8,154.7 L98.1,154.6 L98.5,154.6 L98.8,154.6 L99.2,154.7 L99.5,154.8 L99.9,154.9 L100.3,155.1 L100.6,155.4 L101.0,155.7 L101.3,155.9 L101.7,156.3 L102.0,156.6 L102.4,156.9 L102.7,157.3 L103.1,157.6 L103.5,158.0 L103.8,158.4 L104.2,158.7 L104.5,159.0 L104.9,159.4 L105.2,159.7 L105.6,160.0 L105.9,160.3 L106.3,160.6 L106.7,160.8 L107.0,161.1 L107.4,161.3 L107.7,161.6 L108.1,161.8 L108.4,162.0 L108.8,162.1 L109.1,162.3 L109.5,162.5 L109.8,162.6 L110.2,162.7 L110.6,162.8 L110.9,162.9 L111.3,163.0 L111.6,163.1 L112.0,163.2 L112.3,163.2 L112.7,163.3 L113.0,163.3 L113.4,163.4 L113.8,163.4 L114.1,163.4 L114.5,163.5 L114.8,163.5 L115.2,163.5 L115.5,163.5 L115.9,163.5 L116.2,163.5 L116.6,163.4 L116.9,163.4 L117.3,163.4 L117.7,163.4 L118.0,163.3 L118.4,163.3 L118.7,163.3 L119.1,163.2 L119.4,163.2 L119.8,163.2 L120.1,163.1 L120.5,163.1 L120.8,163.0 L121.2,163.0 L121.6,162.9 L121.9,162.9 L122.3,162.9 L122.6,162.8 L123.0,162.8 L123.3,162.7 L123.7,162.7 L124.0,162.6 L124.4,162.6 L124.8,162.6 L125.1,162.5 L125.5,162.5 L125.8,162.4 L126.2,162.4 L126.5,162.3 L126.9,162.3 L127.2,162.2 L127.6,162.2 L128.0,162.1 L128.3,162.1 L128.7,162.0 L129.0,162.0 L129.4,161.9 L129.7,161.9 L130.1,161.8 L130.4,161.8 L130.8,161.7 L131.1,161.7 L131.5,161.6 L131.9,161.6 L132.2,161.6 L132.6,161.5 L132.9,161.5 L133.3,161.4 L133.6,161.4 L134.0,161.4 L134.3,161.3 L134.7,161.3 L135.1,161.3 L135.4,161.3 L135.8,161.2 L136.1,161.2 L136.5,161.2 L136.8,161.2 L137.2,161.2 L137.5,161.2 L137.9,161.2 L138.2,161.2 L138.6,161.2 L139.0,161.2 L139.3,161.2 L139.7,161.2 L140.0,161.2 L140.4,161.2 L140.7,161.3 L141.1,161.3 L141.4,161.3 L141.8,161.4 L142.1,161.4 L142.5,161.5 L142.9,161.5 L143.2,161.6 L143.6,161.6 L143.9,161.7 L144.3,161.7 L144.6,161.8 L145.0,161.9 L145.3,162.0 L145.7,162.1 L146.1,162.2 L146.4,162.3 L146.8,162.4 L147.1,162.5 L147.5,162.6 L147.8,162.7 L148.2,162.8 L148.5,162.9 L148.9,163.0 L149.2,163.1 L149.6,163.3 L150.0,163.4 L150.3,163.5 L150.7,163.7 L151.0,163.8 L151.4,163.9 L151.7,164.1 L152.1,164.2 L152.4,164.4 L152.8,164.5 L153.2,164.7 L153.5,164.8 L153.9,165.0 L154.2,165.1 L154.6,165.3 L154.9,165.4 L155.3,165.6 L155.6,165.8 L156.0,165.9 L156.3,166.1 L156.7,166.3 L157.1,166.5 L157.4,166.6 L157.8,166.8 L158.1,167.0 L158.5,167.2 L158.8,167.4 L159.2,167.5 L159.5,167.7 L159.9,167.9 L160.3,168.1 L160.6,168.3 L161.0,168.5 L161.3,168.7 L161.7,168.9 L162.0,169.1 L162.4,169.3 L162.7,169.5 L163.1,169.7 L163.4,169.9 L163.8,170.1 L164.2,170.3 L164.5,170.5 L164.9,170.7 L165.2,170.9 L165.6,171.1 L165.9,171.3 L166.3,171.5 L166.6,171.7 L167.0,171.9 L167.4,172.1 L167.7,172.3 L168.1,172.5 L168.4,172.7 L168.8,172.9 L169.1,173.1 L169.5,173.3 L169.8,173.5 L170.2,173.7 L170.6,173.9 L170.9,174.1 L171.3,174.3 L171.6,174.5 L172.0,174.7 L172.3,174.9 L172.7,175.1 L173.0,175.3 L173.4,175.5 L173.7,175.7 L174.1,175.9 L174.5,176.1 L174.8,176.3 L175.2,176.5 L175.5,176.7 L175.9,176.9 L176.2,177.1 L176.6,177.3 L176.9,177.4 L177.3,177.6 L177.6,177.8 L178.0,178.0 L178.4,178.2 L178.7,178.4 L179.1,178.6 L179.4,178.7 L179.8,178.9 L180.1,179.1 L180.5,179.3 L180.8,179.4 L181.2,179.6 L181.6,179.8 L181.9,180.0 L182.3,180.1 L182.6,180.3 L183.0,180.5 L183.3,180.6 L183.7,180.8 L184.0,180.9 L184.4,181.1 L184.8,181.3 L185.1,181.4 L185.5,181.6 L185.8,181.7 L186.2,181.9 L186.5,182.0 L186.9,182.2 L187.2,182.3 L187.6,182.4 L187.9,182.6 L188.3,182.7 L188.7,182.9 L189.0,183.0 L189.4,183.1 L189.7,183.3 L190.1,183.4 L190.4,183.5 L190.8,183.7 L191.1,183.8 L191.5,183.9 L191.8,184.0 L192.2,184.1 L192.6,184.3 L192.9,184.4 L193.3,184.5 L193.6,184.6 L194.0,184.7 L194.3,184.8 L194.7,184.9 L195.0,185.1 L195.4,185.2 L195.8,185.3 L196.1,185.4 L196.5,185.5 L196.8,185.6 L197.2,185.7 L197.5,185.8 L197.9,185.9 L198.2,185.9 L198.6,186.0 L198.9,186.1 L199.3,186.2 L199.7,186.3 L200.0,186.4 L200.4,186.5 L200.7,186.6 L201.1,186.6 L201.4,186.7 L201.8,186.8 L202.1,186.9 L202.5,187.0 L202.9,187.0 L203.2,187.1 L203.6,187.2 L203.9,187.2 L204.3,187.3 L204.6,187.4 L205.0,187.4 L205.3,187.5 L205.7,187.6 L206.0,187.6 L206.4,187.7 L206.8,187.8 L207.1,187.8 L207.5,187.9 L207.8,187.9 L208.2,188.0 L208.5,188.1 L208.9,188.1 L209.2,188.2 L209.6,188.2 L210.0,188.3 L210.3,188.3 L210.7,188.4 L211.0,188.4 L211.4,188.5 L211.7,188.5 L212.1,188.6 L212.4,188.6 L212.8,188.7 L213.2,188.7 L213.5,188.7 L213.9,188.8 L214.2,188.8 L214.6,188.9 L214.9,188.9 L215.3,188.9 L215.6,189.0 L216.0,189.0 L216.3,189.0 L216.7,189.1 L217.1,189.1 L217.4,189.2 L217.8,189.2 L218.1,189.2 L218.5,189.3 L218.8,189.3 L219.2,189.3 L219.5,189.3 L219.9,189.4 L220.2,189.4 L220.6,189.4 L221.0,189.5 L221.3,189.5 L221.7,189.5 L222.0,189.5 L222.4,189.6 L222.7,189.6 L223.1,189.6 L223.4,189.6 L223.8,189.7 L224.2,189.7 L224.5,189.7 L224.9,189.7 L225.2,189.8 L225.6,189.8 L225.9,189.8 L226.3,189.8 L226.6,189.8 L227.0,189.9 L227.3,189.9 L227.7,189.9 L228.1,189.9 L228.4,189.9 L228.8,189.9 L229.1,190.0 L229.5,190.0 L229.8,190.0 L230.2,190.0 L230.5,190.0 L230.9,190.0 L231.3,190.1 L231.6,190.1 L232.0,190.1 L232.3,190.1 L232.7,190.1 L233.0,190.1 L233.4,190.1 L233.7,190.2 L234.1,190.2 L234.4,190.2 L234.8,190.2 L235.2,190.2 L235.5,190.2 L235.9,190.2 L236.2,190.2 L236.6,190.2 L236.9,190.3 L237.3,190.3 L237.6,190.3 L238.0,190.3 L238.4,190.3 L238.7,190.3 L239.1,190.3 L239.4,190.3 L239.8,190.3 L240.1,190.3 L240.5,190.3 L240.8,190.4 L241.2,190.4 L241.5,190.4 L241.9,190.4 L242.3,190.4 L242.6,190.4 L243.0,190.4 L243.3,190.4 L243.7,190.4 L244.0,190.4 L244.4,190.4 L244.7,190.4 L245.1,190.4 L245.5,190.4 L245.8,190.5 L246.2,190.5 L246.5,190.5 L246.9,190.5 L247.2,190.5 L247.6,190.5 L247.9,190.5 L248.3,190.5 L248.6,190.5 L249.0,190.5 L249.4,190.5 L249.7,190.5 L250.1,190.5 L250.4,190.5 L250.8,190.5 L251.1,190.5 L251.5,190.5 L251.8,190.5 L252.2,190.5 L252.6,190.5 L252.9,190.5 L253.3,190.5 L253.6,190.6 L254.0,190.6 L254.3,190.6 L254.7,190.6 L255.0,190.6 L255.4,190.6 L255.8,190.6" fill="none" stroke="#903030" stroke-width="1.45" stroke-linejoin="round"/>
<path d="M71.2,184.4 L71.5,184.2 L71.9,184.1 L72.2,183.9 L72.6,183.7 L72.9,183.5 L73.3,183.4 L73.6,183.2 L74.0,183.0 L74.3,182.8 L74.7,182.6 L75.1,182.4 L75.4,182.1 L75.8,181.9 L76.1,181.7 L76.5,181.4 L76.8,181.2 L77.2,180.9 L77.5,180.7 L77.9,180.4 L78.2,180.1 L78.6,179.8 L79.0,179.5 L79.3,179.2 L79.7,178.9 L80.0,178.6 L80.4,178.3 L80.7,177.9 L81.1,177.6 L81.4,177.2 L81.8,176.8 L82.2,176.5 L82.5,176.1 L82.9,175.7 L83.2,175.2 L83.6,174.8 L83.9,174.4 L84.3,173.9 L84.6,173.4 L85.0,173.0 L85.3,172.5 L85.7,172.0 L86.1,171.5 L86.4,170.9 L86.8,170.4 L87.1,169.8 L87.5,169.3 L87.8,168.7 L88.2,168.1 L88.5,167.5 L88.9,166.9 L89.3,166.3 L89.6,165.7 L90.0,165.0 L90.3,164.4 L90.7,163.8 L91.0,163.1 L91.4,162.5 L91.7,161.9 L92.1,161.3 L92.5,160.7 L92.8,160.1 L93.2,159.5 L93.5,158.9 L93.9,158.4 L94.2,157.8 L94.6,157.3 L94.9,156.9 L95.3,156.4 L95.6,156.1 L96.0,155.7 L96.4,155.4 L96.7,155.1 L97.1,154.9 L97.4,154.7 L97.8,154.5 L98.1,154.4 L98.5,154.4 L98.8,154.5 L99.2,154.6 L99.5,154.7 L99.9,154.9 L100.3,155.1 L100.6,155.4 L101.0,155.7 L101.3,156.1 L101.7,156.4 L102.0,156.8 L102.4,157.2 L102.7,157.6 L103.1,158.0 L103.5,158.4 L103.8,158.8 L104.2,159.2 L104.5,159.6 L104.9,160.0 L105.2,160.4 L105.6,160.7 L105.9,161.1 L106.3,161.4 L106.7,161.7 L107.0,162.0 L107.4,162.3 L107.7,162.6 L108.1,162.8 L108.4,163.1 L108.8,163.3 L109.1,163.5 L109.5,163.7 L109.8,163.9 L110.2,164.0 L110.6,164.2 L110.9,164.4 L111.3,164.5 L111.6,164.6 L112.0,164.7 L112.3,164.8 L112.7,164.9 L113.0,165.0 L113.4,165.1 L113.8,165.2 L114.1,165.3 L114.5,165.3 L114.8,165.4 L115.2,165.4 L115.5,165.5 L115.9,165.5 L116.2,165.6 L116.6,165.6 L116.9,165.6 L117.3,165.6 L117.7,165.7 L118.0,165.7 L118.4,165.7 L118.7,165.7 L119.1,165.7 L119.4,165.7 L119.8,165.7 L120.1,165.7 L120.5,165.8 L120.8,165.8 L121.2,165.8 L121.6,165.8 L121.9,165.8 L122.3,165.8 L122.6,165.8 L123.0,165.8 L123.3,165.8 L123.7,165.8 L124.0,165.8 L124.4,165.8 L124.8,165.8 L125.1,165.8 L125.5,165.8 L125.8,165.8 L126.2,165.8 L126.5,165.8 L126.9,165.9 L127.2,165.9 L127.6,165.9 L128.0,165.9 L128.3,165.9 L128.7,165.9 L129.0,165.9 L129.4,165.9 L129.7,165.9 L130.1,165.9 L130.4,165.9 L130.8,165.9 L131.1,165.9 L131.5,165.9 L131.9,165.9 L132.2,165.9 L132.6,165.9 L132.9,165.9 L133.3,165.9 L133.6,165.9 L134.0,165.9 L134.3,166.0 L134.7,166.0 L135.1,166.0 L135.4,166.0 L135.8,166.0 L136.1,166.1 L136.5,166.1 L136.8,166.1 L137.2,166.1 L137.5,166.2 L137.9,166.2 L138.2,166.2 L138.6,166.3 L139.0,166.3 L139.3,166.3 L139.7,166.4 L140.0,166.4 L140.4,166.5 L140.7,166.5 L141.1,166.6 L141.4,166.6 L141.8,166.7 L142.1,166.8 L142.5,166.8 L142.9,166.9 L143.2,166.9 L143.6,167.0 L143.9,167.1 L144.3,167.2 L144.6,167.2 L145.0,167.3 L145.3,167.4 L145.7,167.5 L146.1,167.6 L146.4,167.7 L146.8,167.8 L147.1,167.9 L147.5,168.0 L147.8,168.1 L148.2,168.2 L148.5,168.3 L148.9,168.4 L149.2,168.5 L149.6,168.6 L150.0,168.7 L150.3,168.9 L150.7,169.0 L151.0,169.1 L151.4,169.2 L151.7,169.3 L152.1,169.5 L152.4,169.6 L152.8,169.7 L153.2,169.8 L153.5,170.0 L153.9,170.1 L154.2,170.2 L154.6,170.4 L154.9,170.5 L155.3,170.6 L155.6,170.8 L156.0,170.9 L156.3,171.1 L156.7,171.2 L157.1,171.3 L157.4,171.5 L157.8,171.6 L158.1,171.8 L158.5,171.9 L158.8,172.1 L159.2,172.2 L159.5,172.4 L159.9,172.5 L160.3,172.7 L160.6,172.8 L161.0,173.0 L161.3,173.1 L161.7,173.3 L162.0,173.4 L162.4,173.6 L162.7,173.8 L163.1,173.9 L163.4,174.1 L163.8,174.2 L164.2,174.4 L164.5,174.5 L164.9,174.7 L165.2,174.9 L165.6,175.0 L165.9,175.2 L166.3,175.3 L166.6,175.5 L167.0,175.7 L167.4,175.8 L167.7,176.0 L168.1,176.1 L168.4,176.3 L168.8,176.4 L169.1,176.6 L169.5,176.8 L169.8,176.9 L170.2,177.1 L170.6,177.2 L170.9,177.4 L171.3,177.5 L171.6,177.7 L172.0,177.9 L172.3,178.0 L172.7,178.2 L173.0,178.3 L173.4,178.5 L173.7,178.6 L174.1,178.8 L174.5,178.9 L174.8,179.1 L175.2,179.2 L175.5,179.4 L175.9,179.5 L176.2,179.7 L176.6,179.8 L176.9,180.0 L177.3,180.1 L177.6,180.3 L178.0,180.4 L178.4,180.5 L178.7,180.7 L179.1,180.8 L179.4,181.0 L179.8,181.1 L180.1,181.2 L180.5,181.4 L180.8,181.5 L181.2,181.6 L181.6,181.8 L181.9,181.9 L182.3,182.0 L182.6,182.2 L183.0,182.3 L183.3,182.4 L183.7,182.6 L184.0,182.7 L184.4,182.8 L184.8,182.9 L185.1,183.0 L185.5,183.2 L185.8,183.3 L186.2,183.4 L186.5,183.5 L186.9,183.6 L187.2,183.7 L187.6,183.9 L187.9,184.0 L188.3,184.1 L188.7,184.2 L189.0,184.3 L189.4,184.4 L189.7,184.5 L190.1,184.6 L190.4,184.7 L190.8,184.8 L191.1,184.9 L191.5,185.0 L191.8,185.1 L192.2,185.2 L192.6,185.3 L192.9,185.4 L193.3,185.5 L193.6,185.6 L194.0,185.7 L194.3,185.8 L194.7,185.8 L195.0,185.9 L195.4,186.0 L195.8,186.1 L196.1,186.2 L196.5,186.3 L196.8,186.3 L197.2,186.4 L197.5,186.5 L197.9,186.6 L198.2,186.6 L198.6,186.7 L198.9,186.8 L199.3,186.9 L199.7,186.9 L200.0,187.0 L200.4,187.1 L200.7,187.1 L201.1,187.2 L201.4,187.3 L201.8,187.3 L202.1,187.4 L202.5,187.5 L202.9,187.5 L203.2,187.6 L203.6,187.6 L203.9,187.7 L204.3,187.8 L204.6,187.8 L205.0,187.9 L205.3,187.9 L205.7,188.0 L206.0,188.0 L206.4,188.1 L206.8,188.1 L207.1,188.2 L207.5,188.2 L207.8,188.3 L208.2,188.3 L208.5,188.4 L208.9,188.4 L209.2,188.5 L209.6,188.5 L210.0,188.6 L210.3,188.6 L210.7,188.7 L211.0,188.7 L211.4,188.7 L211.7,188.8 L212.1,188.8 L212.4,188.9 L212.8,188.9 L213.2,188.9 L213.5,189.0 L213.9,189.0 L214.2,189.0 L214.6,189.1 L214.9,189.1 L215.3,189.1 L215.6,189.2 L216.0,189.2 L216.3,189.2 L216.7,189.3 L217.1,189.3 L217.4,189.3 L217.8,189.3 L218.1,189.4 L218.5,189.4 L218.8,189.4 L219.2,189.5 L219.5,189.5 L219.9,189.5 L220.2,189.5 L220.6,189.6 L221.0,189.6 L221.3,189.6 L221.7,189.6 L222.0,189.7 L222.4,189.7 L222.7,189.7 L223.1,189.7 L223.4,189.7 L223.8,189.8 L224.2,189.8 L224.5,189.8 L224.9,189.8 L225.2,189.8 L225.6,189.9 L225.9,189.9 L226.3,189.9 L226.6,189.9 L227.0,189.9 L227.3,189.9 L227.7,190.0 L228.1,190.0 L228.4,190.0 L228.8,190.0 L229.1,190.0 L229.5,190.0 L229.8,190.1 L230.2,190.1 L230.5,190.1 L230.9,190.1 L231.3,190.1 L231.6,190.1 L232.0,190.1 L232.3,190.2 L232.7,190.2 L233.0,190.2 L233.4,190.2 L233.7,190.2 L234.1,190.2 L234.4,190.2 L234.8,190.2 L235.2,190.2 L235.5,190.3 L235.9,190.3 L236.2,190.3 L236.6,190.3 L236.9,190.3 L237.3,190.3 L237.6,190.3 L238.0,190.3 L238.4,190.3 L238.7,190.3 L239.1,190.3 L239.4,190.4 L239.8,190.4 L240.1,190.4 L240.5,190.4 L240.8,190.4 L241.2,190.4 L241.5,190.4 L241.9,190.4 L242.3,190.4 L242.6,190.4 L243.0,190.4 L243.3,190.4 L243.7,190.4 L244.0,190.4 L244.4,190.4 L244.7,190.5 L245.1,190.5 L245.5,190.5 L245.8,190.5 L246.2,190.5 L246.5,190.5 L246.9,190.5 L247.2,190.5 L247.6,190.5 L247.9,190.5 L248.3,190.5 L248.6,190.5 L249.0,190.5 L249.4,190.5 L249.7,190.5 L250.1,190.5 L250.4,190.5 L250.8,190.5 L251.1,190.5 L251.5,190.5 L251.8,190.5 L252.2,190.5 L252.6,190.5 L252.9,190.6 L253.3,190.6 L253.6,190.6 L254.0,190.6 L254.3,190.6 L254.7,190.6 L255.0,190.6 L255.4,190.6 L255.8,190.6" fill="none" stroke="#009090" stroke-width="1.45" stroke-linejoin="round"/>
<path d="M71.2,183.3 L71.5,183.1 L71.9,182.9 L72.2,182.7 L72.6,182.5 L72.9,182.3 L73.3,182.1 L73.6,181.9 L74.0,181.6 L74.3,181.4 L74.7,181.2 L75.1,180.9 L75.4,180.7 L75.8,180.4 L76.1,180.1 L76.5,179.8 L76.8,179.6 L77.2,179.3 L77.5,179.0 L77.9,178.6 L78.2,178.3 L78.6,178.0 L79.0,177.6 L79.3,177.3 L79.7,176.9 L80.0,176.5 L80.4,176.1 L80.7,175.7 L81.1,175.3 L81.4,174.9 L81.8,174.5 L82.2,174.0 L82.5,173.6 L82.9,173.1 L83.2,172.6 L83.6,172.1 L83.9,171.6 L84.3,171.0 L84.6,170.5 L85.0,169.9 L85.3,169.3 L85.7,168.7 L86.1,168.1 L86.4,167.5 L86.8,166.8 L87.1,166.2 L87.5,165.5 L87.8,164.8 L88.2,164.1 L88.5,163.4 L88.9,162.7 L89.3,162.0 L89.6,161.2 L90.0,160.5 L90.3,159.7 L90.7,159.0 L91.0,158.3 L91.4,157.5 L91.7,156.8 L92.1,156.0 L92.5,155.3 L92.8,154.6 L93.2,153.9 L93.5,153.3 L93.9,152.6 L94.2,152.0 L94.6,151.4 L94.9,150.9 L95.3,150.4 L95.6,149.9 L96.0,149.5 L96.4,149.2 L96.7,148.9 L97.1,148.6 L97.4,148.4 L97.8,148.3 L98.1,148.2 L98.5,148.2 L98.8,148.3 L99.2,148.5 L99.5,148.7 L99.9,149.0 L100.3,149.3 L100.6,149.7 L101.0,150.2 L101.3,150.6 L101.7,151.1 L102.0,151.6 L102.4,152.2 L102.7,152.7 L103.1,153.2 L103.5,153.8 L103.8,154.3 L104.2,154.9 L104.5,155.4 L104.9,155.9 L105.2,156.4 L105.6,156.9 L105.9,157.4 L106.3,157.8 L106.7,158.3 L107.0,158.7 L107.4,159.1 L107.7,159.5 L108.1,159.8 L108.4,160.2 L108.8,160.5 L109.1,160.8 L109.5,161.1 L109.8,161.4 L110.2,161.7 L110.6,161.9 L110.9,162.2 L111.3,162.4 L111.6,162.6 L112.0,162.8 L112.3,163.0 L112.7,163.2 L113.0,163.3 L113.4,163.5 L113.8,163.7 L114.1,163.8 L114.5,163.9 L114.8,164.1 L115.2,164.2 L115.5,164.3 L115.9,164.4 L116.2,164.5 L116.6,164.6 L116.9,164.7 L117.3,164.8 L117.7,164.9 L118.0,165.0 L118.4,165.0 L118.7,165.1 L119.1,165.2 L119.4,165.3 L119.8,165.4 L120.1,165.4 L120.5,165.5 L120.8,165.6 L121.2,165.6 L121.6,165.7 L121.9,165.8 L122.3,165.8 L122.6,165.9 L123.0,166.0 L123.3,166.1 L123.7,166.1 L124.0,166.2 L124.4,166.3 L124.8,166.3 L125.1,166.4 L125.5,166.5 L125.8,166.6 L126.2,166.6 L126.5,166.7 L126.9,166.8 L127.2,166.8 L127.6,166.9 L128.0,167.0 L128.3,167.0 L128.7,167.1 L129.0,167.2 L129.4,167.2 L129.7,167.3 L130.1,167.4 L130.4,167.4 L130.8,167.5 L131.1,167.6 L131.5,167.6 L131.9,167.7 L132.2,167.8 L132.6,167.8 L132.9,167.9 L133.3,168.0 L133.6,168.1 L134.0,168.1 L134.3,168.2 L134.7,168.3 L135.1,168.3 L135.4,168.4 L135.8,168.5 L136.1,168.6 L136.5,168.6 L136.8,168.7 L137.2,168.8 L137.5,168.9 L137.9,168.9 L138.2,169.0 L138.6,169.1 L139.0,169.2 L139.3,169.3 L139.7,169.4 L140.0,169.4 L140.4,169.5 L140.7,169.6 L141.1,169.7 L141.4,169.8 L141.8,169.9 L142.1,170.0 L142.5,170.1 L142.9,170.2 L143.2,170.3 L143.6,170.4 L143.9,170.5 L144.3,170.6 L144.6,170.7 L145.0,170.8 L145.3,170.9 L145.7,171.0 L146.1,171.1 L146.4,171.2 L146.8,171.3 L147.1,171.4 L147.5,171.5 L147.8,171.6 L148.2,171.7 L148.5,171.8 L148.9,171.9 L149.2,172.0 L149.6,172.1 L150.0,172.3 L150.3,172.4 L150.7,172.5 L151.0,172.6 L151.4,172.7 L151.7,172.8 L152.1,172.9 L152.4,173.1 L152.8,173.2 L153.2,173.3 L153.5,173.4 L153.9,173.5 L154.2,173.7 L154.6,173.8 L154.9,173.9 L155.3,174.0 L155.6,174.2 L156.0,174.3 L156.3,174.4 L156.7,174.5 L157.1,174.6 L157.4,174.8 L157.8,174.9 L158.1,175.0 L158.5,175.1 L158.8,175.3 L159.2,175.4 L159.5,175.5 L159.9,175.7 L160.3,175.8 L160.6,175.9 L161.0,176.0 L161.3,176.2 L161.7,176.3 L162.0,176.4 L162.4,176.5 L162.7,176.7 L163.1,176.8 L163.4,176.9 L163.8,177.1 L164.2,177.2 L164.5,177.3 L164.9,177.4 L165.2,177.6 L165.6,177.7 L165.9,177.8 L166.3,177.9 L166.6,178.1 L167.0,178.2 L167.4,178.3 L167.7,178.4 L168.1,178.6 L168.4,178.7 L168.8,178.8 L169.1,178.9 L169.5,179.1 L169.8,179.2 L170.2,179.3 L170.6,179.4 L170.9,179.6 L171.3,179.7 L171.6,179.8 L172.0,179.9 L172.3,180.1 L172.7,180.2 L173.0,180.3 L173.4,180.4 L173.7,180.5 L174.1,180.7 L174.5,180.8 L174.8,180.9 L175.2,181.0 L175.5,181.1 L175.9,181.2 L176.2,181.4 L176.6,181.5 L176.9,181.6 L177.3,181.7 L177.6,181.8 L178.0,181.9 L178.4,182.0 L178.7,182.1 L179.1,182.2 L179.4,182.4 L179.8,182.5 L180.1,182.6 L180.5,182.7 L180.8,182.8 L181.2,182.9 L181.6,183.0 L181.9,183.1 L182.3,183.2 L182.6,183.3 L183.0,183.4 L183.3,183.5 L183.7,183.6 L184.0,183.7 L184.4,183.8 L184.8,183.9 L185.1,184.0 L185.5,184.1 L185.8,184.2 L186.2,184.3 L186.5,184.4 L186.9,184.5 L187.2,184.6 L187.6,184.6 L187.9,184.7 L188.3,184.8 L188.7,184.9 L189.0,185.0 L189.4,185.1 L189.7,185.2 L190.1,185.2 L190.4,185.3 L190.8,185.4 L191.1,185.5 L191.5,185.6 L191.8,185.7 L192.2,185.7 L192.6,185.8 L192.9,185.9 L193.3,186.0 L193.6,186.0 L194.0,186.1 L194.3,186.2 L194.7,186.3 L195.0,186.3 L195.4,186.4 L195.8,186.5 L196.1,186.5 L196.5,186.6 L196.8,186.7 L197.2,186.7 L197.5,186.8 L197.9,186.9 L198.2,186.9 L198.6,187.0 L198.9,187.1 L199.3,187.1 L199.7,187.2 L200.0,187.2 L200.4,187.3 L200.7,187.4 L201.1,187.4 L201.4,187.5 L201.8,187.5 L202.1,187.6 L202.5,187.6 L202.9,187.7 L203.2,187.8 L203.6,187.8 L203.9,187.9 L204.3,187.9 L204.6,188.0 L205.0,188.0 L205.3,188.1 L205.7,188.1 L206.0,188.2 L206.4,188.2 L206.8,188.2 L207.1,188.3 L207.5,188.3 L207.8,188.4 L208.2,188.4 L208.5,188.5 L208.9,188.5 L209.2,188.5 L209.6,188.6 L210.0,188.6 L210.3,188.7 L210.7,188.7 L211.0,188.7 L211.4,188.8 L211.7,188.8 L212.1,188.9 L212.4,188.9 L212.8,188.9 L213.2,189.0 L213.5,189.0 L213.9,189.0 L214.2,189.1 L214.6,189.1 L214.9,189.1 L215.3,189.1 L215.6,189.2 L216.0,189.2 L216.3,189.2 L216.7,189.3 L217.1,189.3 L217.4,189.3 L217.8,189.4 L218.1,189.4 L218.5,189.4 L218.8,189.4 L219.2,189.5 L219.5,189.5 L219.9,189.5 L220.2,189.5 L220.6,189.6 L221.0,189.6 L221.3,189.6 L221.7,189.6 L222.0,189.6 L222.4,189.7 L222.7,189.7 L223.1,189.7 L223.4,189.7 L223.8,189.7 L224.2,189.8 L224.5,189.8 L224.9,189.8 L225.2,189.8 L225.6,189.8 L225.9,189.9 L226.3,189.9 L226.6,189.9 L227.0,189.9 L227.3,189.9 L227.7,189.9 L228.1,190.0 L228.4,190.0 L228.8,190.0 L229.1,190.0 L229.5,190.0 L229.8,190.0 L230.2,190.1 L230.5,190.1 L230.9,190.1 L231.3,190.1 L231.6,190.1 L232.0,190.1 L232.3,190.1 L232.7,190.1 L233.0,190.2 L233.4,190.2 L233.7,190.2 L234.1,190.2 L234.4,190.2 L234.8,190.2 L235.2,190.2 L235.5,190.2 L235.9,190.2 L236.2,190.2 L236.6,190.3 L236.9,190.3 L237.3,190.3 L237.6,190.3 L238.0,190.3 L238.4,190.3 L238.7,190.3 L239.1,190.3 L239.4,190.3 L239.8,190.3 L240.1,190.3 L240.5,190.4 L240.8,190.4 L241.2,190.4 L241.5,190.4 L241.9,190.4 L242.3,190.4 L242.6,190.4 L243.0,190.4 L243.3,190.4 L243.7,190.4 L244.0,190.4 L244.4,190.4 L244.7,190.4 L245.1,190.4 L245.5,190.4 L245.8,190.4 L246.2,190.5 L246.5,190.5 L246.9,190.5 L247.2,190.5 L247.6,190.5 L247.9,190.5 L248.3,190.5 L248.6,190.5 L249.0,190.5 L249.4,190.5 L249.7,190.5 L250.1,190.5 L250.4,190.5 L250.8,190.5 L251.1,190.5 L251.5,190.5 L251.8,190.5 L252.2,190.5 L252.6,190.5 L252.9,190.5 L253.3,190.5 L253.6,190.5 L254.0,190.5 L254.3,190.5 L254.7,190.5 L255.0,190.5 L255.4,190.6 L255.8,190.6" fill="none" stroke="#ff9930" stroke-width="1.45" stroke-linejoin="round"/>
<path d="M71.2,183.2 L71.5,183.0 L71.9,182.9 L72.2,182.7 L72.6,182.4 L72.9,182.2 L73.3,182.0 L73.6,181.8 L74.0,181.6 L74.3,181.3 L74.7,181.1 L75.1,180.8 L75.4,180.6 L75.8,180.3 L76.1,180.0 L76.5,179.8 L76.8,179.5 L77.2,179.2 L77.5,178.9 L77.9,178.5 L78.2,178.2 L78.6,177.9 L79.0,177.5 L79.3,177.2 L79.7,176.8 L80.0,176.4 L80.4,176.0 L80.7,175.6 L81.1,175.2 L81.4,174.8 L81.8,174.3 L82.2,173.9 L82.5,173.4 L82.9,172.9 L83.2,172.4 L83.6,171.9 L83.9,171.4 L84.3,170.9 L84.6,170.3 L85.0,169.7 L85.3,169.1 L85.7,168.5 L86.1,167.9 L86.4,167.3 L86.8,166.6 L87.1,166.0 L87.5,165.3 L87.8,164.6 L88.2,163.9 L88.5,163.2 L88.9,162.5 L89.3,161.7 L89.6,161.0 L90.0,160.3 L90.3,159.5 L90.7,158.7 L91.0,158.0 L91.4,157.2 L91.7,156.5 L92.1,155.8 L92.5,155.0 L92.8,154.3 L93.2,153.6 L93.5,153.0 L93.9,152.3 L94.2,151.7 L94.6,151.1 L94.9,150.6 L95.3,150.1 L95.6,149.6 L96.0,149.2 L96.4,148.9 L96.7,148.6 L97.1,148.3 L97.4,148.1 L97.8,148.0 L98.1,147.9 L98.5,147.9 L98.8,148.0 L99.2,148.2 L99.5,148.4 L99.9,148.7 L100.3,149.1 L100.6,149.5 L101.0,149.9 L101.3,150.4 L101.7,150.9 L102.0,151.4 L102.4,152.0 L102.7,152.5 L103.1,153.1 L103.5,153.6 L103.8,154.2 L104.2,154.7 L104.5,155.3 L104.9,155.8 L105.2,156.3 L105.6,156.8 L105.9,157.3 L106.3,157.8 L106.7,158.2 L107.0,158.7 L107.4,159.1 L107.7,159.5 L108.1,159.8 L108.4,160.2 L108.8,160.6 L109.1,160.9 L109.5,161.2 L109.8,161.5 L110.2,161.8 L110.6,162.0 L110.9,162.3 L111.3,162.5 L111.6,162.8 L112.0,163.0 L112.3,163.2 L112.7,163.4 L113.0,163.5 L113.4,163.7 L113.8,163.9 L114.1,164.0 L114.5,164.2 L114.8,164.3 L115.2,164.5 L115.5,164.6 L115.9,164.7 L116.2,164.9 L116.6,165.0 L116.9,165.1 L117.3,165.2 L117.7,165.3 L118.0,165.4 L118.4,165.5 L118.7,165.6 L119.1,165.7 L119.4,165.8 L119.8,165.9 L120.1,166.0 L120.5,166.1 L120.8,166.2 L121.2,166.2 L121.6,166.3 L121.9,166.4 L122.3,166.5 L122.6,166.6 L123.0,166.7 L123.3,166.8 L123.7,166.9 L124.0,167.0 L124.4,167.1 L124.8,167.2 L125.1,167.3 L125.5,167.4 L125.8,167.5 L126.2,167.5 L126.5,167.6 L126.9,167.7 L127.2,167.8 L127.6,167.9 L128.0,168.0 L128.3,168.1 L128.7,168.2 L129.0,168.3 L129.4,168.4 L129.7,168.5 L130.1,168.5 L130.4,168.6 L130.8,168.7 L131.1,168.8 L131.5,168.9 L131.9,169.0 L132.2,169.1 L132.6,169.2 L132.9,169.3 L133.3,169.4 L133.6,169.5 L134.0,169.5 L134.3,169.6 L134.7,169.7 L135.1,169.8 L135.4,169.9 L135.8,170.0 L136.1,170.1 L136.5,170.2 L136.8,170.3 L137.2,170.4 L137.5,170.5 L137.9,170.6 L138.2,170.7 L138.6,170.8 L139.0,170.9 L139.3,171.0 L139.7,171.1 L140.0,171.2 L140.4,171.3 L140.7,171.4 L141.1,171.5 L141.4,171.6 L141.8,171.7 L142.1,171.8 L142.5,171.9 L142.9,172.0 L143.2,172.1 L143.6,172.2 L143.9,172.3 L144.3,172.4 L144.6,172.5 L145.0,172.6 L145.3,172.7 L145.7,172.8 L146.1,172.9 L146.4,173.1 L146.8,173.2 L147.1,173.3 L147.5,173.4 L147.8,173.5 L148.2,173.6 L148.5,173.7 L148.9,173.8 L149.2,173.9 L149.6,174.0 L150.0,174.1 L150.3,174.2 L150.7,174.4 L151.0,174.5 L151.4,174.6 L151.7,174.7 L152.1,174.8 L152.4,174.9 L152.8,175.0 L153.2,175.1 L153.5,175.3 L153.9,175.4 L154.2,175.5 L154.6,175.6 L154.9,175.7 L155.3,175.8 L155.6,175.9 L156.0,176.0 L156.3,176.2 L156.7,176.3 L157.1,176.4 L157.4,176.5 L157.8,176.6 L158.1,176.7 L158.5,176.8 L158.8,177.0 L159.2,177.1 L159.5,177.2 L159.9,177.3 L160.3,177.4 L160.6,177.5 L161.0,177.6 L161.3,177.8 L161.7,177.9 L162.0,178.0 L162.4,178.1 L162.7,178.2 L163.1,178.3 L163.4,178.4 L163.8,178.5 L164.2,178.7 L164.5,178.8 L164.9,178.9 L165.2,179.0 L165.6,179.1 L165.9,179.2 L166.3,179.3 L166.6,179.4 L167.0,179.5 L167.4,179.6 L167.7,179.8 L168.1,179.9 L168.4,180.0 L168.8,180.1 L169.1,180.2 L169.5,180.3 L169.8,180.4 L170.2,180.5 L170.6,180.6 L170.9,180.7 L171.3,180.8 L171.6,180.9 L172.0,181.0 L172.3,181.1 L172.7,181.2 L173.0,181.3 L173.4,181.5 L173.7,181.6 L174.1,181.7 L174.5,181.8 L174.8,181.9 L175.2,182.0 L175.5,182.1 L175.9,182.2 L176.2,182.3 L176.6,182.4 L176.9,182.5 L177.3,182.6 L177.6,182.6 L178.0,182.7 L178.4,182.8 L178.7,182.9 L179.1,183.0 L179.4,183.1 L179.8,183.2 L180.1,183.3 L180.5,183.4 L180.8,183.5 L181.2,183.6 L181.6,183.7 L181.9,183.8 L182.3,183.8 L182.6,183.9 L183.0,184.0 L183.3,184.1 L183.7,184.2 L184.0,184.3 L184.4,184.4 L184.8,184.5 L185.1,184.5 L185.5,184.6 L185.8,184.7 L186.2,184.8 L186.5,184.9 L186.9,184.9 L187.2,185.0 L187.6,185.1 L187.9,185.2 L188.3,185.3 L188.7,185.3 L189.0,185.4 L189.4,185.5 L189.7,185.6 L190.1,185.6 L190.4,185.7 L190.8,185.8 L191.1,185.9 L191.5,185.9 L191.8,186.0 L192.2,186.1 L192.6,186.1 L192.9,186.2 L193.3,186.3 L193.6,186.3 L194.0,186.4 L194.3,186.5 L194.7,186.5 L195.0,186.6 L195.4,186.7 L195.8,186.7 L196.1,186.8 L196.5,186.8 L196.8,186.9 L197.2,187.0 L197.5,187.0 L197.9,187.1 L198.2,187.1 L198.6,187.2 L198.9,187.3 L199.3,187.3 L199.7,187.4 L200.0,187.4 L200.4,187.5 L200.7,187.5 L201.1,187.6 L201.4,187.6 L201.8,187.7 L202.1,187.7 L202.5,187.8 L202.9,187.8 L203.2,187.9 L203.6,187.9 L203.9,188.0 L204.3,188.0 L204.6,188.1 L205.0,188.1 L205.3,188.2 L205.7,188.2 L206.0,188.3 L206.4,188.3 L206.8,188.3 L207.1,188.4 L207.5,188.4 L207.8,188.5 L208.2,188.5 L208.5,188.5 L208.9,188.6 L209.2,188.6 L209.6,188.7 L210.0,188.7 L210.3,188.7 L210.7,188.8 L211.0,188.8 L211.4,188.8 L211.7,188.9 L212.1,188.9 L212.4,188.9 L212.8,189.0 L213.2,189.0 L213.5,189.0 L213.9,189.1 L214.2,189.1 L214.6,189.1 L214.9,189.2 L215.3,189.2 L215.6,189.2 L216.0,189.3 L216.3,189.3 L216.7,189.3 L217.1,189.3 L217.4,189.4 L217.8,189.4 L218.1,189.4 L218.5,189.4 L218.8,189.5 L219.2,189.5 L219.5,189.5 L219.9,189.5 L220.2,189.6 L220.6,189.6 L221.0,189.6 L221.3,189.6 L221.7,189.6 L222.0,189.7 L222.4,189.7 L222.7,189.7 L223.1,189.7 L223.4,189.8 L223.8,189.8 L224.2,189.8 L224.5,189.8 L224.9,189.8 L225.2,189.8 L225.6,189.9 L225.9,189.9 L226.3,189.9 L226.6,189.9 L227.0,189.9 L227.3,189.9 L227.7,190.0 L228.1,190.0 L228.4,190.0 L228.8,190.0 L229.1,190.0 L229.5,190.0 L229.8,190.0 L230.2,190.1 L230.5,190.1 L230.9,190.1 L231.3,190.1 L231.6,190.1 L232.0,190.1 L232.3,190.1 L232.7,190.1 L233.0,190.2 L233.4,190.2 L233.7,190.2 L234.1,190.2 L234.4,190.2 L234.8,190.2 L235.2,190.2 L235.5,190.2 L235.9,190.2 L236.2,190.3 L236.6,190.3 L236.9,190.3 L237.3,190.3 L237.6,190.3 L238.0,190.3 L238.4,190.3 L238.7,190.3 L239.1,190.3 L239.4,190.3 L239.8,190.3 L240.1,190.3 L240.5,190.4 L240.8,190.4 L241.2,190.4 L241.5,190.4 L241.9,190.4 L242.3,190.4 L242.6,190.4 L243.0,190.4 L243.3,190.4 L243.7,190.4 L244.0,190.4 L244.4,190.4 L244.7,190.4 L245.1,190.4 L245.5,190.4 L245.8,190.4 L246.2,190.5 L246.5,190.5 L246.9,190.5 L247.2,190.5 L247.6,190.5 L247.9,190.5 L248.3,190.5 L248.6,190.5 L249.0,190.5 L249.4,190.5 L249.7,190.5 L250.1,190.5 L250.4,190.5 L250.8,190.5 L251.1,190.5 L251.5,190.5 L251.8,190.5 L252.2,190.5 L252.6,190.5 L252.9,190.5 L253.3,190.5 L253.6,190.5 L254.0,190.5 L254.3,190.5 L254.7,190.5 L255.0,190.5 L255.4,190.6 L255.8,190.6" fill="none" stroke="#9933ff" stroke-width="1.45" stroke-linejoin="round"/>
<path d="M71.2,181.9 L71.5,181.7 L71.9,181.5 L72.2,181.2 L72.6,181.0 L72.9,180.8 L73.3,180.5 L73.6,180.2 L74.0,180.0 L74.3,179.7 L74.7,179.4 L75.1,179.1 L75.4,178.8 L75.8,178.5 L76.1,178.2 L76.5,177.9 L76.8,177.5 L77.2,177.2 L77.5,176.8 L77.9,176.4 L78.2,176.0 L78.6,175.6 L79.0,175.2 L79.3,174.8 L79.7,174.4 L80.0,173.9 L80.4,173.5 L80.7,173.0 L81.1,172.5 L81.4,172.0 L81.8,171.5 L82.2,171.0 L82.5,170.4 L82.9,169.8 L83.2,169.3 L83.6,168.6 L83.9,168.0 L84.3,167.4 L84.6,166.7 L85.0,166.1 L85.3,165.4 L85.7,164.7 L86.1,163.9 L86.4,163.2 L86.8,162.4 L87.1,161.6 L87.5,160.8 L87.8,160.0 L88.2,159.2 L88.5,158.4 L88.9,157.5 L89.3,156.6 L89.6,155.8 L90.0,154.9 L90.3,154.0 L90.7,153.1 L91.0,152.2 L91.4,151.3 L91.7,150.4 L92.1,149.6 L92.5,148.7 L92.8,147.9 L93.2,147.1 L93.5,146.3 L93.9,145.5 L94.2,144.8 L94.6,144.1 L94.9,143.5 L95.3,142.9 L95.6,142.4 L96.0,141.9 L96.4,141.5 L96.7,141.1 L97.1,140.8 L97.4,140.6 L97.8,140.5 L98.1,140.4 L98.5,140.5 L98.8,140.6 L99.2,140.8 L99.5,141.1 L99.9,141.5 L100.3,141.9 L100.6,142.4 L101.0,142.9 L101.3,143.5 L101.7,144.1 L102.0,144.8 L102.4,145.4 L102.7,146.1 L103.1,146.8 L103.5,147.5 L103.8,148.1 L104.2,148.8 L104.5,149.5 L104.9,150.1 L105.2,150.7 L105.6,151.4 L105.9,152.0 L106.3,152.5 L106.7,153.1 L107.0,153.6 L107.4,154.1 L107.7,154.6 L108.1,155.1 L108.4,155.5 L108.8,155.9 L109.1,156.3 L109.5,156.7 L109.8,157.1 L110.2,157.4 L110.6,157.8 L110.9,158.1 L111.3,158.4 L111.6,158.6 L112.0,158.9 L112.3,159.2 L112.7,159.4 L113.0,159.6 L113.4,159.8 L113.8,160.0 L114.1,160.2 L114.5,160.4 L114.8,160.6 L115.2,160.8 L115.5,160.9 L115.9,161.1 L116.2,161.2 L116.6,161.4 L116.9,161.5 L117.3,161.6 L117.7,161.8 L118.0,161.9 L118.4,162.0 L118.7,162.1 L119.1,162.2 L119.4,162.4 L119.8,162.5 L120.1,162.6 L120.5,162.7 L120.8,162.8 L121.2,162.9 L121.6,163.0 L121.9,163.1 L122.3,163.2 L122.6,163.3 L123.0,163.4 L123.3,163.5 L123.7,163.6 L124.0,163.7 L124.4,163.8 L124.8,163.9 L125.1,164.0 L125.5,164.1 L125.8,164.2 L126.2,164.3 L126.5,164.4 L126.9,164.5 L127.2,164.6 L127.6,164.7 L128.0,164.8 L128.3,164.9 L128.7,165.0 L129.0,165.1 L129.4,165.2 L129.7,165.3 L130.1,165.4 L130.4,165.5 L130.8,165.6 L131.1,165.7 L131.5,165.8 L131.9,165.9 L132.2,166.0 L132.6,166.1 L132.9,166.2 L133.3,166.3 L133.6,166.4 L134.0,166.5 L134.3,166.6 L134.7,166.7 L135.1,166.8 L135.4,166.9 L135.8,167.0 L136.1,167.1 L136.5,167.2 L136.8,167.3 L137.2,167.4 L137.5,167.5 L137.9,167.6 L138.2,167.7 L138.6,167.8 L139.0,167.9 L139.3,168.0 L139.7,168.2 L140.0,168.3 L140.4,168.4 L140.7,168.5 L141.1,168.6 L141.4,168.7 L141.8,168.8 L142.1,168.9 L142.5,169.0 L142.9,169.2 L143.2,169.3 L143.6,169.4 L143.9,169.5 L144.3,169.6 L144.6,169.7 L145.0,169.8 L145.3,170.0 L145.7,170.1 L146.1,170.2 L146.4,170.3 L146.8,170.4 L147.1,170.6 L147.5,170.7 L147.8,170.8 L148.2,170.9 L148.5,171.0 L148.9,171.2 L149.2,171.3 L149.6,171.4 L150.0,171.5 L150.3,171.7 L150.7,171.8 L151.0,171.9 L151.4,172.0 L151.7,172.2 L152.1,172.3 L152.4,172.4 L152.8,172.6 L153.2,172.7 L153.5,172.8 L153.9,172.9 L154.2,173.1 L154.6,173.2 L154.9,173.3 L155.3,173.5 L155.6,173.6 L156.0,173.7 L156.3,173.9 L156.7,174.0 L157.1,174.1 L157.4,174.2 L157.8,174.4 L158.1,174.5 L158.5,174.6 L158.8,174.8 L159.2,174.9 L159.5,175.0 L159.9,175.2 L160.3,175.3 L160.6,175.4 L161.0,175.6 L161.3,175.7 L161.7,175.8 L162.0,176.0 L162.4,176.1 L162.7,176.2 L163.1,176.3 L163.4,176.5 L163.8,176.6 L164.2,176.7 L164.5,176.9 L164.9,177.0 L165.2,177.1 L165.6,177.3 L165.9,177.4 L166.3,177.5 L166.6,177.6 L167.0,177.8 L167.4,177.9 L167.7,178.0 L168.1,178.2 L168.4,178.3 L168.8,178.4 L169.1,178.5 L169.5,178.7 L169.8,178.8 L170.2,178.9 L170.6,179.0 L170.9,179.2 L171.3,179.3 L171.6,179.4 L172.0,179.5 L172.3,179.7 L172.7,179.8 L173.0,179.9 L173.4,180.0 L173.7,180.1 L174.1,180.3 L174.5,180.4 L174.8,180.5 L175.2,180.6 L175.5,180.7 L175.9,180.8 L176.2,181.0 L176.6,181.1 L176.9,181.2 L177.3,181.3 L177.6,181.4 L178.0,181.5 L178.4,181.6 L178.7,181.7 L179.1,181.9 L179.4,182.0 L179.8,182.1 L180.1,182.2 L180.5,182.3 L180.8,182.4 L181.2,182.5 L181.6,182.6 L181.9,182.7 L182.3,182.8 L182.6,182.9 L183.0,183.0 L183.3,183.1 L183.7,183.2 L184.0,183.3 L184.4,183.4 L184.8,183.5 L185.1,183.6 L185.5,183.7 L185.8,183.8 L186.2,183.9 L186.5,184.0 L186.9,184.1 L187.2,184.2 L187.6,184.3 L187.9,184.4 L188.3,184.5 L188.7,184.5 L189.0,184.6 L189.4,184.7 L189.7,184.8 L190.1,184.9 L190.4,185.0 L190.8,185.1 L191.1,185.2 L191.5,185.2 L191.8,185.3 L192.2,185.4 L192.6,185.5 L192.9,185.6 L193.3,185.6 L193.6,185.7 L194.0,185.8 L194.3,185.9 L194.7,185.9 L195.0,186.0 L195.4,186.1 L195.8,186.2 L196.1,186.2 L196.5,186.3 L196.8,186.4 L197.2,186.4 L197.5,186.5 L197.9,186.6 L198.2,186.6 L198.6,186.7 L198.9,186.8 L199.3,186.8 L199.7,186.9 L200.0,187.0 L200.4,187.0 L200.7,187.1 L201.1,187.2 L201.4,187.2 L201.8,187.3 L202.1,187.3 L202.5,187.4 L202.9,187.4 L203.2,187.5 L203.6,187.6 L203.9,187.6 L204.3,187.7 L204.6,187.7 L205.0,187.8 L205.3,187.8 L205.7,187.9 L206.0,187.9 L206.4,188.0 L206.8,188.0 L207.1,188.1 L207.5,188.1 L207.8,188.2 L208.2,188.2 L208.5,188.2 L208.9,188.3 L209.2,188.3 L209.6,188.4 L210.0,188.4 L210.3,188.5 L210.7,188.5 L211.0,188.5 L211.4,188.6 L211.7,188.6 L212.1,188.7 L212.4,188.7 L212.8,188.7 L213.2,188.8 L213.5,188.8 L213.9,188.8 L214.2,188.9 L214.6,188.9 L214.9,189.0 L215.3,189.0 L215.6,189.0 L216.0,189.1 L216.3,189.1 L216.7,189.1 L217.1,189.1 L217.4,189.2 L217.8,189.2 L218.1,189.2 L218.5,189.3 L218.8,189.3 L219.2,189.3 L219.5,189.3 L219.9,189.4 L220.2,189.4 L220.6,189.4 L221.0,189.4 L221.3,189.5 L221.7,189.5 L222.0,189.5 L222.4,189.5 L222.7,189.6 L223.1,189.6 L223.4,189.6 L223.8,189.6 L224.2,189.7 L224.5,189.7 L224.9,189.7 L225.2,189.7 L225.6,189.7 L225.9,189.8 L226.3,189.8 L226.6,189.8 L227.0,189.8 L227.3,189.8 L227.7,189.9 L228.1,189.9 L228.4,189.9 L228.8,189.9 L229.1,189.9 L229.5,189.9 L229.8,189.9 L230.2,190.0 L230.5,190.0 L230.9,190.0 L231.3,190.0 L231.6,190.0 L232.0,190.0 L232.3,190.1 L232.7,190.1 L233.0,190.1 L233.4,190.1 L233.7,190.1 L234.1,190.1 L234.4,190.1 L234.8,190.1 L235.2,190.2 L235.5,190.2 L235.9,190.2 L236.2,190.2 L236.6,190.2 L236.9,190.2 L237.3,190.2 L237.6,190.2 L238.0,190.2 L238.4,190.2 L238.7,190.3 L239.1,190.3 L239.4,190.3 L239.8,190.3 L240.1,190.3 L240.5,190.3 L240.8,190.3 L241.2,190.3 L241.5,190.3 L241.9,190.3 L242.3,190.3 L242.6,190.3 L243.0,190.3 L243.3,190.4 L243.7,190.4 L244.0,190.4 L244.4,190.4 L244.7,190.4 L245.1,190.4 L245.5,190.4 L245.8,190.4 L246.2,190.4 L246.5,190.4 L246.9,190.4 L247.2,190.4 L247.6,190.4 L247.9,190.4 L248.3,190.4 L248.6,190.4 L249.0,190.4 L249.4,190.5 L249.7,190.5 L250.1,190.5 L250.4,190.5 L250.8,190.5 L251.1,190.5 L251.5,190.5 L251.8,190.5 L252.2,190.5 L252.6,190.5 L252.9,190.5 L253.3,190.5 L253.6,190.5 L254.0,190.5 L254.3,190.5 L254.7,190.5 L255.0,190.5 L255.4,190.5 L255.8,190.5" fill="none" stroke="#ff3399" stroke-width="1.45" stroke-linejoin="round"/>
<path d="M71.2,182.6 L71.5,182.4 L71.9,182.2 L72.2,182.0 L72.6,181.8 L72.9,181.5 L73.3,181.3 L73.6,181.1 L74.0,180.8 L74.3,180.6 L74.7,180.3 L75.1,180.0 L75.4,179.8 L75.8,179.5 L76.1,179.2 L76.5,178.9 L76.8,178.6 L77.2,178.2 L77.5,177.9 L77.9,177.6 L78.2,177.2 L78.6,176.8 L79.0,176.5 L79.3,176.1 L79.7,175.7 L80.0,175.3 L80.4,174.8 L80.7,174.4 L81.1,174.0 L81.4,173.5 L81.8,173.0 L82.2,172.5 L82.5,172.0 L82.9,171.5 L83.2,170.9 L83.6,170.4 L83.9,169.8 L84.3,169.2 L84.6,168.6 L85.0,168.0 L85.3,167.4 L85.7,166.7 L86.1,166.0 L86.4,165.4 L86.8,164.7 L87.1,163.9 L87.5,163.2 L87.8,162.4 L88.2,161.7 L88.5,160.9 L88.9,160.1 L89.3,159.3 L89.6,158.5 L90.0,157.7 L90.3,156.9 L90.7,156.0 L91.0,155.2 L91.4,154.4 L91.7,153.6 L92.1,152.8 L92.5,152.0 L92.8,151.2 L93.2,150.5 L93.5,149.8 L93.9,149.1 L94.2,148.4 L94.6,147.8 L94.9,147.2 L95.3,146.7 L95.6,146.2 L96.0,145.7 L96.4,145.4 L96.7,145.1 L97.1,144.8 L97.4,144.6 L97.8,144.5 L98.1,144.4 L98.5,144.5 L98.8,144.6 L99.2,144.8 L99.5,145.1 L99.9,145.4 L100.3,145.8 L100.6,146.3 L101.0,146.8 L101.3,147.4 L101.7,147.9 L102.0,148.6 L102.4,149.2 L102.7,149.8 L103.1,150.5 L103.5,151.1 L103.8,151.7 L104.2,152.4 L104.5,153.0 L104.9,153.6 L105.2,154.2 L105.6,154.8 L105.9,155.4 L106.3,155.9 L106.7,156.4 L107.0,156.9 L107.4,157.4 L107.7,157.9 L108.1,158.3 L108.4,158.8 L108.8,159.2 L109.1,159.5 L109.5,159.9 L109.8,160.3 L110.2,160.6 L110.6,160.9 L110.9,161.2 L111.3,161.5 L111.6,161.8 L112.0,162.1 L112.3,162.3 L112.7,162.5 L113.0,162.8 L113.4,163.0 L113.8,163.2 L114.1,163.4 L114.5,163.6 L114.8,163.8 L115.2,163.9 L115.5,164.1 L115.9,164.3 L116.2,164.4 L116.6,164.6 L116.9,164.7 L117.3,164.9 L117.7,165.0 L118.0,165.1 L118.4,165.3 L118.7,165.4 L119.1,165.5 L119.4,165.6 L119.8,165.8 L120.1,165.9 L120.5,166.0 L120.8,166.1 L121.2,166.2 L121.6,166.4 L121.9,166.5 L122.3,166.6 L122.6,166.7 L123.0,166.8 L123.3,167.0 L123.7,167.1 L124.0,167.2 L124.4,167.3 L124.8,167.5 L125.1,167.6 L125.5,167.7 L125.8,167.8 L126.2,167.9 L126.5,168.1 L126.9,168.2 L127.2,168.3 L127.6,168.4 L128.0,168.5 L128.3,168.6 L128.7,168.8 L129.0,168.9 L129.4,169.0 L129.7,169.1 L130.1,169.2 L130.4,169.3 L130.8,169.4 L131.1,169.6 L131.5,169.7 L131.9,169.8 L132.2,169.9 L132.6,170.0 L132.9,170.1 L133.3,170.2 L133.6,170.4 L134.0,170.5 L134.3,170.6 L134.7,170.7 L135.1,170.8 L135.4,170.9 L135.8,171.0 L136.1,171.2 L136.5,171.3 L136.8,171.4 L137.2,171.5 L137.5,171.6 L137.9,171.7 L138.2,171.8 L138.6,172.0 L139.0,172.1 L139.3,172.2 L139.7,172.3 L140.0,172.4 L140.4,172.5 L140.7,172.7 L141.1,172.8 L141.4,172.9 L141.8,173.0 L142.1,173.1 L142.5,173.2 L142.9,173.3 L143.2,173.4 L143.6,173.6 L143.9,173.7 L144.3,173.8 L144.6,173.9 L145.0,174.0 L145.3,174.1 L145.7,174.2 L146.1,174.3 L146.4,174.4 L146.8,174.6 L147.1,174.7 L147.5,174.8 L147.8,174.9 L148.2,175.0 L148.5,175.1 L148.9,175.2 L149.2,175.3 L149.6,175.4 L150.0,175.5 L150.3,175.7 L150.7,175.8 L151.0,175.9 L151.4,176.0 L151.7,176.1 L152.1,176.2 L152.4,176.3 L152.8,176.4 L153.2,176.5 L153.5,176.6 L153.9,176.7 L154.2,176.8 L154.6,177.0 L154.9,177.1 L155.3,177.2 L155.6,177.3 L156.0,177.4 L156.3,177.5 L156.7,177.6 L157.1,177.7 L157.4,177.8 L157.8,177.9 L158.1,178.0 L158.5,178.1 L158.8,178.2 L159.2,178.3 L159.5,178.4 L159.9,178.5 L160.3,178.6 L160.6,178.7 L161.0,178.8 L161.3,179.0 L161.7,179.1 L162.0,179.2 L162.4,179.3 L162.7,179.4 L163.1,179.5 L163.4,179.6 L163.8,179.7 L164.2,179.8 L164.5,179.9 L164.9,180.0 L165.2,180.1 L165.6,180.2 L165.9,180.3 L166.3,180.4 L166.6,180.5 L167.0,180.6 L167.4,180.6 L167.7,180.7 L168.1,180.8 L168.4,180.9 L168.8,181.0 L169.1,181.1 L169.5,181.2 L169.8,181.3 L170.2,181.4 L170.6,181.5 L170.9,181.6 L171.3,181.7 L171.6,181.8 L172.0,181.9 L172.3,182.0 L172.7,182.1 L173.0,182.1 L173.4,182.2 L173.7,182.3 L174.1,182.4 L174.5,182.5 L174.8,182.6 L175.2,182.7 L175.5,182.8 L175.9,182.8 L176.2,182.9 L176.6,183.0 L176.9,183.1 L177.3,183.2 L177.6,183.3 L178.0,183.4 L178.4,183.4 L178.7,183.5 L179.1,183.6 L179.4,183.7 L179.8,183.8 L180.1,183.8 L180.5,183.9 L180.8,184.0 L181.2,184.1 L181.6,184.2 L181.9,184.2 L182.3,184.3 L182.6,184.4 L183.0,184.5 L183.3,184.6 L183.7,184.6 L184.0,184.7 L184.4,184.8 L184.8,184.9 L185.1,184.9 L185.5,185.0 L185.8,185.1 L186.2,185.1 L186.5,185.2 L186.9,185.3 L187.2,185.4 L187.6,185.4 L187.9,185.5 L188.3,185.6 L188.7,185.6 L189.0,185.7 L189.4,185.8 L189.7,185.8 L190.1,185.9 L190.4,186.0 L190.8,186.0 L191.1,186.1 L191.5,186.2 L191.8,186.2 L192.2,186.3 L192.6,186.4 L192.9,186.4 L193.3,186.5 L193.6,186.5 L194.0,186.6 L194.3,186.7 L194.7,186.7 L195.0,186.8 L195.4,186.8 L195.8,186.9 L196.1,186.9 L196.5,187.0 L196.8,187.1 L197.2,187.1 L197.5,187.2 L197.9,187.2 L198.2,187.3 L198.6,187.3 L198.9,187.4 L199.3,187.4 L199.7,187.5 L200.0,187.5 L200.4,187.6 L200.7,187.6 L201.1,187.7 L201.4,187.7 L201.8,187.8 L202.1,187.8 L202.5,187.9 L202.9,187.9 L203.2,188.0 L203.6,188.0 L203.9,188.1 L204.3,188.1 L204.6,188.1 L205.0,188.2 L205.3,188.2 L205.7,188.3 L206.0,188.3 L206.4,188.4 L206.8,188.4 L207.1,188.4 L207.5,188.5 L207.8,188.5 L208.2,188.5 L208.5,188.6 L208.9,188.6 L209.2,188.7 L209.6,188.7 L210.0,188.7 L210.3,188.8 L210.7,188.8 L211.0,188.8 L211.4,188.9 L211.7,188.9 L212.1,188.9 L212.4,189.0 L212.8,189.0 L213.2,189.0 L213.5,189.1 L213.9,189.1 L214.2,189.1 L214.6,189.1 L214.9,189.2 L215.3,189.2 L215.6,189.2 L216.0,189.3 L216.3,189.3 L216.7,189.3 L217.1,189.3 L217.4,189.4 L217.8,189.4 L218.1,189.4 L218.5,189.4 L218.8,189.5 L219.2,189.5 L219.5,189.5 L219.9,189.5 L220.2,189.6 L220.6,189.6 L221.0,189.6 L221.3,189.6 L221.7,189.6 L222.0,189.7 L222.4,189.7 L222.7,189.7 L223.1,189.7 L223.4,189.7 L223.8,189.8 L224.2,189.8 L224.5,189.8 L224.9,189.8 L225.2,189.8 L225.6,189.9 L225.9,189.9 L226.3,189.9 L226.6,189.9 L227.0,189.9 L227.3,189.9 L227.7,190.0 L228.1,190.0 L228.4,190.0 L228.8,190.0 L229.1,190.0 L229.5,190.0 L229.8,190.0 L230.2,190.1 L230.5,190.1 L230.9,190.1 L231.3,190.1 L231.6,190.1 L232.0,190.1 L232.3,190.1 L232.7,190.1 L233.0,190.2 L233.4,190.2 L233.7,190.2 L234.1,190.2 L234.4,190.2 L234.8,190.2 L235.2,190.2 L235.5,190.2 L235.9,190.2 L236.2,190.2 L236.6,190.3 L236.9,190.3 L237.3,190.3 L237.6,190.3 L238.0,190.3 L238.4,190.3 L238.7,190.3 L239.1,190.3 L239.4,190.3 L239.8,190.3 L240.1,190.3 L240.5,190.3 L240.8,190.4 L241.2,190.4 L241.5,190.4 L241.9,190.4 L242.3,190.4 L242.6,190.4 L243.0,190.4 L243.3,190.4 L243.7,190.4 L244.0,190.4 L244.4,190.4 L244.7,190.4 L245.1,190.4 L245.5,190.4 L245.8,190.4 L246.2,190.4 L246.5,190.4 L246.9,190.5 L247.2,190.5 L247.6,190.5 L247.9,190.5 L248.3,190.5 L248.6,190.5 L249.0,190.5 L249.4,190.5 L249.7,190.5 L250.1,190.5 L250.4,190.5 L250.8,190.5 L251.1,190.5 L251.5,190.5 L251.8,190.5 L252.2,190.5 L252.6,190.5 L252.9,190.5 L253.3,190.5 L253.6,190.5 L254.0,190.5 L254.3,190.5 L254.7,190.5 L255.0,190.5 L255.4,190.5 L255.8,190.5" fill="none" stroke="#c8c8c8" stroke-width="1.45" stroke-linejoin="round"/>
<path d="M71.2,182.6 L71.5,182.4 L71.9,182.2 L72.2,182.0 L72.6,181.7 L72.9,181.5 L73.3,181.3 L73.6,181.0 L74.0,180.8 L74.3,180.5 L74.7,180.3 L75.1,180.0 L75.4,179.7 L75.8,179.4 L76.1,179.1 L76.5,178.8 L76.8,178.5 L77.2,178.2 L77.5,177.9 L77.9,177.5 L78.2,177.2 L78.6,176.8 L79.0,176.4 L79.3,176.0 L79.7,175.6 L80.0,175.2 L80.4,174.8 L80.7,174.4 L81.1,173.9 L81.4,173.4 L81.8,172.9 L82.2,172.5 L82.5,171.9 L82.9,171.4 L83.2,170.9 L83.6,170.3 L83.9,169.7 L84.3,169.1 L84.6,168.5 L85.0,167.9 L85.3,167.3 L85.7,166.6 L86.1,165.9 L86.4,165.2 L86.8,164.5 L87.1,163.8 L87.5,163.1 L87.8,162.3 L88.2,161.5 L88.5,160.8 L88.9,160.0 L89.3,159.2 L89.6,158.3 L90.0,157.5 L90.3,156.7 L90.7,155.9 L91.0,155.0 L91.4,154.2 L91.7,153.4 L92.1,152.6 L92.5,151.8 L92.8,151.0 L93.2,150.3 L93.5,149.5 L93.9,148.8 L94.2,148.2 L94.6,147.5 L94.9,147.0 L95.3,146.4 L95.6,145.9 L96.0,145.5 L96.4,145.1 L96.7,144.8 L97.1,144.6 L97.4,144.4 L97.8,144.3 L98.1,144.2 L98.5,144.3 L98.8,144.4 L99.2,144.6 L99.5,144.9 L99.9,145.3 L100.3,145.7 L100.6,146.2 L101.0,146.7 L101.3,147.3 L101.7,147.9 L102.0,148.5 L102.4,149.2 L102.7,149.8 L103.1,150.5 L103.5,151.2 L103.8,151.8 L104.2,152.5 L104.5,153.1 L104.9,153.8 L105.2,154.4 L105.6,155.0 L105.9,155.6 L106.3,156.2 L106.7,156.7 L107.0,157.2 L107.4,157.7 L107.7,158.2 L108.1,158.7 L108.4,159.1 L108.8,159.5 L109.1,159.9 L109.5,160.3 L109.8,160.7 L110.2,161.0 L110.6,161.4 L110.9,161.7 L111.3,162.0 L111.6,162.3 L112.0,162.6 L112.3,162.8 L112.7,163.1 L113.0,163.3 L113.4,163.6 L113.8,163.8 L114.1,164.0 L114.5,164.2 L114.8,164.4 L115.2,164.6 L115.5,164.7 L115.9,164.9 L116.2,165.1 L116.6,165.2 L116.9,165.4 L117.3,165.5 L117.7,165.7 L118.0,165.8 L118.4,166.0 L118.7,166.1 L119.1,166.3 L119.4,166.4 L119.8,166.5 L120.1,166.6 L120.5,166.8 L120.8,166.9 L121.2,167.0 L121.6,167.2 L121.9,167.3 L122.3,167.4 L122.6,167.5 L123.0,167.7 L123.3,167.8 L123.7,167.9 L124.0,168.0 L124.4,168.2 L124.8,168.3 L125.1,168.4 L125.5,168.6 L125.8,168.7 L126.2,168.8 L126.5,168.9 L126.9,169.1 L127.2,169.2 L127.6,169.3 L128.0,169.4 L128.3,169.6 L128.7,169.7 L129.0,169.8 L129.4,169.9 L129.7,170.0 L130.1,170.2 L130.4,170.3 L130.8,170.4 L131.1,170.5 L131.5,170.6 L131.9,170.7 L132.2,170.9 L132.6,171.0 L132.9,171.1 L133.3,171.2 L133.6,171.3 L134.0,171.5 L134.3,171.6 L134.7,171.7 L135.1,171.8 L135.4,171.9 L135.8,172.0 L136.1,172.2 L136.5,172.3 L136.8,172.4 L137.2,172.5 L137.5,172.6 L137.9,172.8 L138.2,172.9 L138.6,173.0 L139.0,173.1 L139.3,173.2 L139.7,173.3 L140.0,173.5 L140.4,173.6 L140.7,173.7 L141.1,173.8 L141.4,173.9 L141.8,174.0 L142.1,174.1 L142.5,174.2 L142.9,174.4 L143.2,174.5 L143.6,174.6 L143.9,174.7 L144.3,174.8 L144.6,174.9 L145.0,175.0 L145.3,175.1 L145.7,175.2 L146.1,175.4 L146.4,175.5 L146.8,175.6 L147.1,175.7 L147.5,175.8 L147.8,175.9 L148.2,176.0 L148.5,176.1 L148.9,176.2 L149.2,176.3 L149.6,176.4 L150.0,176.5 L150.3,176.6 L150.7,176.7 L151.0,176.8 L151.4,176.9 L151.7,177.0 L152.1,177.1 L152.4,177.3 L152.8,177.4 L153.2,177.5 L153.5,177.6 L153.9,177.7 L154.2,177.8 L154.6,177.9 L154.9,178.0 L155.3,178.1 L155.6,178.2 L156.0,178.3 L156.3,178.4 L156.7,178.5 L157.1,178.6 L157.4,178.7 L157.8,178.8 L158.1,178.9 L158.5,179.0 L158.8,179.1 L159.2,179.2 L159.5,179.3 L159.9,179.4 L160.3,179.5 L160.6,179.6 L161.0,179.7 L161.3,179.8 L161.7,179.8 L162.0,179.9 L162.4,180.0 L162.7,180.1 L163.1,180.2 L163.4,180.3 L163.8,180.4 L164.2,180.5 L164.5,180.6 L164.9,180.7 L165.2,180.8 L165.6,180.9 L165.9,181.0 L166.3,181.1 L166.6,181.1 L167.0,181.2 L167.4,181.3 L167.7,181.4 L168.1,181.5 L168.4,181.6 L168.8,181.7 L169.1,181.8 L169.5,181.9 L169.8,181.9 L170.2,182.0 L170.6,182.1 L170.9,182.2 L171.3,182.3 L171.6,182.4 L172.0,182.4 L172.3,182.5 L172.7,182.6 L173.0,182.7 L173.4,182.8 L173.7,182.9 L174.1,182.9 L174.5,183.0 L174.8,183.1 L175.2,183.2 L175.5,183.3 L175.9,183.3 L176.2,183.4 L176.6,183.5 L176.9,183.6 L177.3,183.7 L177.6,183.7 L178.0,183.8 L178.4,183.9 L178.7,184.0 L179.1,184.0 L179.4,184.1 L179.8,184.2 L180.1,184.3 L180.5,184.3 L180.8,184.4 L181.2,184.5 L181.6,184.6 L181.9,184.6 L182.3,184.7 L182.6,184.8 L183.0,184.8 L183.3,184.9 L183.7,185.0 L184.0,185.1 L184.4,185.1 L184.8,185.2 L185.1,185.3 L185.5,185.3 L185.8,185.4 L186.2,185.5 L186.5,185.5 L186.9,185.6 L187.2,185.7 L187.6,185.7 L187.9,185.8 L188.3,185.9 L188.7,185.9 L189.0,186.0 L189.4,186.0 L189.7,186.1 L190.1,186.2 L190.4,186.2 L190.8,186.3 L191.1,186.3 L191.5,186.4 L191.8,186.5 L192.2,186.5 L192.6,186.6 L192.9,186.6 L193.3,186.7 L193.6,186.8 L194.0,186.8 L194.3,186.9 L194.7,186.9 L195.0,187.0 L195.4,187.0 L195.8,187.1 L196.1,187.1 L196.5,187.2 L196.8,187.2 L197.2,187.3 L197.5,187.3 L197.9,187.4 L198.2,187.4 L198.6,187.5 L198.9,187.5 L199.3,187.6 L199.7,187.6 L200.0,187.7 L200.4,187.7 L200.7,187.8 L201.1,187.8 L201.4,187.9 L201.8,187.9 L202.1,188.0 L202.5,188.0 L202.9,188.0 L203.2,188.1 L203.6,188.1 L203.9,188.2 L204.3,188.2 L204.6,188.3 L205.0,188.3 L205.3,188.3 L205.7,188.4 L206.0,188.4 L206.4,188.5 L206.8,188.5 L207.1,188.5 L207.5,188.6 L207.8,188.6 L208.2,188.6 L208.5,188.7 L208.9,188.7 L209.2,188.7 L209.6,188.8 L210.0,188.8 L210.3,188.8 L210.7,188.9 L211.0,188.9 L211.4,188.9 L211.7,189.0 L212.1,189.0 L212.4,189.0 L212.8,189.1 L213.2,189.1 L213.5,189.1 L213.9,189.2 L214.2,189.2 L214.6,189.2 L214.9,189.2 L215.3,189.3 L215.6,189.3 L216.0,189.3 L216.3,189.3 L216.7,189.4 L217.1,189.4 L217.4,189.4 L217.8,189.4 L218.1,189.5 L218.5,189.5 L218.8,189.5 L219.2,189.5 L219.5,189.6 L219.9,189.6 L220.2,189.6 L220.6,189.6 L221.0,189.6 L221.3,189.7 L221.7,189.7 L222.0,189.7 L222.4,189.7 L222.7,189.7 L223.1,189.8 L223.4,189.8 L223.8,189.8 L224.2,189.8 L224.5,189.8 L224.9,189.8 L225.2,189.9 L225.6,189.9 L225.9,189.9 L226.3,189.9 L226.6,189.9 L227.0,189.9 L227.3,190.0 L227.7,190.0 L228.1,190.0 L228.4,190.0 L228.8,190.0 L229.1,190.0 L229.5,190.0 L229.8,190.1 L230.2,190.1 L230.5,190.1 L230.9,190.1 L231.3,190.1 L231.6,190.1 L232.0,190.1 L232.3,190.1 L232.7,190.2 L233.0,190.2 L233.4,190.2 L233.7,190.2 L234.1,190.2 L234.4,190.2 L234.8,190.2 L235.2,190.2 L235.5,190.2 L235.9,190.2 L236.2,190.3 L236.6,190.3 L236.9,190.3 L237.3,190.3 L237.6,190.3 L238.0,190.3 L238.4,190.3 L238.7,190.3 L239.1,190.3 L239.4,190.3 L239.8,190.3 L240.1,190.3 L240.5,190.4 L240.8,190.4 L241.2,190.4 L241.5,190.4 L241.9,190.4 L242.3,190.4 L242.6,190.4 L243.0,190.4 L243.3,190.4 L243.7,190.4 L244.0,190.4 L244.4,190.4 L244.7,190.4 L245.1,190.4 L245.5,190.4 L245.8,190.4 L246.2,190.4 L246.5,190.4 L246.9,190.5 L247.2,190.5 L247.6,190.5 L247.9,190.5 L248.3,190.5 L248.6,190.5 L249.0,190.5 L249.4,190.5 L249.7,190.5 L250.1,190.5 L250.4,190.5 L250.8,190.5 L251.1,190.5 L251.5,190.5 L251.8,190.5 L252.2,190.5 L252.6,190.5 L252.9,190.5 L253.3,190.5 L253.6,190.5 L254.0,190.5 L254.3,190.5 L254.7,190.5 L255.0,190.5 L255.4,190.5 L255.8,190.5" fill="none" stroke="#606060" stroke-width="1.45" stroke-linejoin="round"/>
<line x1="221" y1="30.60" x2="238.5" y2="30.60" stroke="#1a1a1a" stroke-width="1.6"/>
<text x="0" y="0" transform="translate(240.8,33.70) scale(0.9,1)" font-family="Liberation Sans, sans-serif" font-size="8.3" fill="#333" letter-spacing="0.1">3 mM</text>
<line x1="221" y1="39.86" x2="238.5" y2="39.86" stroke="#ff3030" stroke-width="1.6"/>
<text x="0" y="0" transform="translate(240.8,42.96) scale(0.9,1)" font-family="Liberation Sans, sans-serif" font-size="8.3" fill="#333" letter-spacing="0.1">6 mM</text>
<line x1="221" y1="49.12" x2="238.5" y2="49.12" stroke="#00e000" stroke-width="1.6"/>
<text x="0" y="0" transform="translate(240.8,52.22) scale(0.9,1)" font-family="Liberation Sans, sans-serif" font-size="8.3" fill="#333" letter-spacing="0.1">9 mM</text>
<line x1="221" y1="58.38" x2="238.5" y2="58.38" stroke="#3030ff" stroke-width="1.6"/>
<text x="0" y="0" transform="translate(240.8,61.48) scale(0.9,1)" font-family="Liberation Sans, sans-serif" font-size="8.3" fill="#333" letter-spacing="0.1">12 mM</text>
<line x1="221" y1="67.64" x2="238.5" y2="67.64" stroke="#00f0f0" stroke-width="1.6"/>
<text x="0" y="0" transform="translate(240.8,70.74) scale(0.9,1)" font-family="Liberation Sans, sans-serif" font-size="8.3" fill="#333" letter-spacing="0.1">15 mM</text>
<line x1="221" y1="76.90" x2="238.5" y2="76.90" stroke="#ff30ff" stroke-width="1.6"/>
<text x="0" y="0" transform="translate(240.8,80.00) scale(0.9,1)" font-family="Liberation Sans, sans-serif" font-size="8.3" fill="#333" letter-spacing="0.1">18 mM</text>
<line x1="221" y1="86.16" x2="238.5" y2="86.16" stroke="#f0f020" stroke-width="1.6"/>
<text x="0" y="0" transform="translate(240.8,89.26) scale(0.9,1)" font-family="Liberation Sans, sans-serif" font-size="8.3" fill="#333" letter-spacing="0.1">21 mM</text>
<line x1="221" y1="95.42" x2="238.5" y2="95.42" stroke="#909030" stroke-width="1.6"/>
<text x="0" y="0" transform="translate(240.8,98.52) scale(0.9,1)" font-family="Liberation Sans, sans-serif" font-size="8.3" fill="#333" letter-spacing="0.1">24 mM</text>
<line x1="221" y1="104.68" x2="238.5" y2="104.68" stroke="#202080" stroke-width="1.6"/>
<text x="0" y="0" transform="translate(240.8,107.78) scale(0.9,1)" font-family="Liberation Sans, sans-serif" font-size="8.3" fill="#333" letter-spacing="0.1">27 mM</text>
<line x1="221" y1="113.94" x2="238.5" y2="113.94" stroke="#903090" stroke-width="1.6"/>
<text x="0" y="0" transform="translate(240.8,117.04) scale(0.9,1)" font-family="Liberation Sans, sans-serif" font-size="8.3" fill="#333" letter-spacing="0.1">30 mM</text>
<line x1="221" y1="123.20" x2="238.5" y2="123.20" stroke="#903030" stroke-width="1.6"/>
<text x="0" y="0" transform="translate(240.8,126.30) scale(0.9,1)" font-family="Liberation Sans, sans-serif" font-size="8.3" fill="#333" letter-spacing="0.1">33 mM</text>
<line x1="221" y1="132.46" x2="238.5" y2="132.46" stroke="#009090" stroke-width="1.6"/>
<text x="0" y="0" transform="translate(240.8,135.56) scale(0.9,1)" font-family="Liberation Sans, sans-serif" font-size="8.3" fill="#333" letter-spacing="0.1">36 mM</text>
<line x1="221" y1="141.72" x2="238.5" y2="141.72" stroke="#ff9930" stroke-width="1.6"/>
<text x="0" y="0" transform="translate(240.8,144.82) scale(0.9,1)" font-family="Liberation Sans, sans-serif" font-size="8.3" fill="#333" letter-spacing="0.1">39 mM</text>
<line x1="221" y1="150.98" x2="238.5" y2="150.98" stroke="#9933ff" stroke-width="1.6"/>
<text x="0" y="0" transform="translate(240.8,154.08) scale(0.9,1)" font-family="Liberation Sans, sans-serif" font-size="8.3" fill="#333" letter-spacing="0.1">42 mM</text>
<line x1="221" y1="160.24" x2="238.5" y2="160.24" stroke="#ff3399" stroke-width="1.6"/>
<text x="0" y="0" transform="translate(240.8,163.34) scale(0.9,1)" font-family="Liberation Sans, sans-serif" font-size="8.3" fill="#333" letter-spacing="0.1">45 mM</text>
<line x1="221" y1="169.50" x2="238.5" y2="169.50" stroke="#c8c8c8" stroke-width="1.6"/>
<text x="0" y="0" transform="translate(240.8,172.60) scale(0.9,1)" font-family="Liberation Sans, sans-serif" font-size="8.3" fill="#333" letter-spacing="0.1">48 mM</text>
<line x1="221" y1="178.76" x2="238.5" y2="178.76" stroke="#606060" stroke-width="1.6"/>
<text x="0" y="0" transform="translate(240.8,181.86) scale(0.9,1)" font-family="Liberation Sans, sans-serif" font-size="8.3" fill="#333" letter-spacing="0.1">51 mM</text>
<text x="4.5" y="24.8" font-family="Liberation Serif, serif" font-weight="bold" font-size="17.5" fill="#111">(A)</text>
<rect x="100" y="230.6" width="120" height="14" fill="#fff"/>
<rect x="333.2" y="11" width="213.00000000000006" height="195.3" fill="none" stroke="#111" stroke-width="1.6"/>
<line x1="328.7" y1="191.20" x2="333.2" y2="191.20" stroke="#111" stroke-width="1.4"/>
<line x1="328.7" y1="161.17" x2="333.2" y2="161.17" stroke="#111" stroke-width="1.4"/>
<line x1="328.7" y1="131.13" x2="333.2" y2="131.13" stroke="#111" stroke-width="1.4"/>
<line x1="328.7" y1="101.10" x2="333.2" y2="101.10" stroke="#111" stroke-width="1.4"/>
<line x1="328.7" y1="71.07" x2="333.2" y2="71.07" stroke="#111" stroke-width="1.4"/>
<line x1="328.7" y1="41.03" x2="333.2" y2="41.03" stroke="#111" stroke-width="1.4"/>
<line x1="328.7" y1="11.00" x2="333.2" y2="11.00" stroke="#111" stroke-width="1.4"/>
<line x1="330.7" y1="206.22" x2="333.2" y2="206.22" stroke="#111" stroke-width="1.4"/>
<line x1="330.7" y1="176.18" x2="333.2" y2="176.18" stroke="#111" stroke-width="1.4"/>
<line x1="330.7" y1="146.15" x2="333.2" y2="146.15" stroke="#111" stroke-width="1.4"/>
<line x1="330.7" y1="116.12" x2="333.2" y2="116.12" stroke="#111" stroke-width="1.4"/>
<line x1="330.7" y1="86.08" x2="333.2" y2="86.08" stroke="#111" stroke-width="1.4"/>
<line x1="330.7" y1="56.05" x2="333.2" y2="56.05" stroke="#111" stroke-width="1.4"/>
<line x1="330.7" y1="26.02" x2="333.2" y2="26.02" stroke="#111" stroke-width="1.4"/>
<text x="325.2" y="194.80" font-family="Liberation Sans, sans-serif" font-size="10" fill="#222" text-anchor="end">0</text>
<text x="325.2" y="164.77" font-family="Liberation Sans, sans-serif" font-size="10" fill="#222" text-anchor="end">20000</text>
<text x="325.2" y="134.73" font-family="Liberation Sans, sans-serif" font-size="10" fill="#222" text-anchor="end">40000</text>
<text x="325.2" y="104.70" font-family="Liberation Sans, sans-serif" font-size="10" fill="#222" text-anchor="end">60000</text>
<text x="325.2" y="74.67" font-family="Liberation Sans, sans-serif" font-size="10" fill="#222" text-anchor="end">80000</text>
<text x="325.2" y="44.63" font-family="Liberation Sans, sans-serif" font-size="10" fill="#222" text-anchor="end">100000</text>
<text x="325.2" y="14.60" font-family="Liberation Sans, sans-serif" font-size="10" fill="#222" text-anchor="end">120000</text>
<line x1="345.00" y1="206.3" x2="345.00" y2="211.3" stroke="#111" stroke-width="1.4"/>
<line x1="356.61" y1="206.3" x2="356.61" y2="211.3" stroke="#111" stroke-width="1.4"/>
<line x1="368.22" y1="206.3" x2="368.22" y2="211.3" stroke="#111" stroke-width="1.4"/>
<line x1="379.83" y1="206.3" x2="379.83" y2="211.3" stroke="#111" stroke-width="1.4"/>
<line x1="391.44" y1="206.3" x2="391.44" y2="211.3" stroke="#111" stroke-width="1.4"/>
<line x1="403.05" y1="206.3" x2="403.05" y2="211.3" stroke="#111" stroke-width="1.4"/>
<line x1="414.66" y1="206.3" x2="414.66" y2="211.3" stroke="#111" stroke-width="1.4"/>
<line x1="426.27" y1="206.3" x2="426.27" y2="211.3" stroke="#111" stroke-width="1.4"/>
<line x1="437.88" y1="206.3" x2="437.88" y2="211.3" stroke="#111" stroke-width="1.4"/>
<line x1="449.49" y1="206.3" x2="449.49" y2="211.3" stroke="#111" stroke-width="1.4"/>
<line x1="461.10" y1="206.3" x2="461.10" y2="211.3" stroke="#111" stroke-width="1.4"/>
<line x1="472.71" y1="206.3" x2="472.71" y2="211.3" stroke="#111" stroke-width="1.4"/>
<line x1="484.32" y1="206.3" x2="484.32" y2="211.3" stroke="#111" stroke-width="1.4"/>
<line x1="495.93" y1="206.3" x2="495.93" y2="211.3" stroke="#111" stroke-width="1.4"/>
<line x1="507.54" y1="206.3" x2="507.54" y2="211.3" stroke="#111" stroke-width="1.4"/>
<line x1="519.15" y1="206.3" x2="519.15" y2="211.3" stroke="#111" stroke-width="1.4"/>
<line x1="530.76" y1="206.3" x2="530.76" y2="211.3" stroke="#111" stroke-width="1.4"/>
<line x1="542.37" y1="206.3" x2="542.37" y2="211.3" stroke="#111" stroke-width="1.4"/>
<text x="0" y="0" transform="translate(349.30,216.3) rotate(-55)" font-family="Liberation Sans, sans-serif" font-size="9.6" fill="#222" class="b" text-anchor="end">3</text>
<text x="0" y="0" transform="translate(360.91,216.3) rotate(-55)" font-family="Liberation Sans, sans-serif" font-size="9.6" fill="#222" class="b" text-anchor="end">6</text>
<text x="0" y="0" transform="translate(372.52,216.3) rotate(-55)" font-family="Liberation Sans, sans-serif" font-size="9.6" fill="#222" class="b" text-anchor="end">9</text>
<text x="0" y="0" transform="translate(384.13,216.3) rotate(-55)" font-family="Liberation Sans, sans-serif" font-size="9.6" fill="#222" class="b" text-anchor="end">12</text>
<text x="0" y="0" transform="translate(395.74,216.3) rotate(-55)" font-family="Liberation Sans, sans-serif" font-size="9.6" fill="#222" class="b" text-anchor="end">15</text>
<text x="0" y="0" transform="translate(407.35,216.3) rotate(-55)" font-family="Liberation Sans, sans-serif" font-size="9.6" fill="#222" class="b" text-anchor="end">18</text>
<text x="0" y="0" transform="translate(418.96,216.3) rotate(-55)" font-family="Liberation Sans, sans-serif" font-size="9.6" fill="#222" class="b" text-anchor="end">21</text>
<text x="0" y="0" transform="translate(430.57,216.3) rotate(-55)" font-family="Liberation Sans, sans-serif" font-size="9.6" fill="#222" class="b" text-anchor="end">24</text>
<text x="0" y="0" transform="translate(442.18,216.3) rotate(-55)" font-family="Liberation Sans, sans-serif" font-size="9.6" fill="#222" class="b" text-anchor="end">27</text>
<text x="0" y="0" transform="translate(453.79,216.3) rotate(-55)" font-family="Liberation Sans, sans-serif" font-size="9.6" fill="#222" class="b" text-anchor="end">30</text>
<text x="0" y="0" transform="translate(465.40,216.3) rotate(-55)" font-family="Liberation Sans, sans-serif" font-size="9.6" fill="#222" class="b" text-anchor="end">33</text>
<text x="0" y="0" transform="translate(477.01,216.3) rotate(-55)" font-family="Liberation Sans, sans-serif" font-size="9.6" fill="#222" class="b" text-anchor="end">36</text>
<text x="0" y="0" transform="translate(488.62,216.3) rotate(-55)" font-family="Liberation Sans, sans-serif" font-size="9.6" fill="#222" class="b" text-anchor="end">39</text>
<text x="0" y="0" transform="translate(500.23,216.3) rotate(-55)" font-family="Liberation Sans, sans-serif" font-size="9.6" fill="#222" class="b" text-anchor="end">42</text>
<text x="0" y="0" transform="translate(511.84,216.3) rotate(-55)" font-family="Liberation Sans, sans-serif" font-size="9.6" fill="#222" class="b" text-anchor="end">45</text>
<text x="0" y="0" transform="translate(523.45,216.3) rotate(-55)" font-family="Liberation Sans, sans-serif" font-size="9.6" fill="#222" class="b" text-anchor="end">48</text>
<text x="0" y="0" transform="translate(535.06,216.3) rotate(-55)" font-family="Liberation Sans, sans-serif" font-size="9.6" fill="#222" class="b" text-anchor="end">51</text>
<text x="0" y="0" transform="translate(295,105) rotate(-90)" font-family="Liberation Sans, sans-serif" font-size="10" fill="#222" text-anchor="middle">Fluorescence Intensity</text>
<text x="434" y="236" font-family="Liberation Serif, serif" font-weight="bold" font-size="10.25" fill="#111" text-anchor="middle">Concentration (mM)</text>
<path d="M345.0,179.4 L356.6,182.0 L368.2,180.3 L379.8,177.2 L391.4,180.5 L403.1,178.5 L414.7,176.2 L426.3,175.4 L437.9,171.1 L449.5,161.2 L461.1,154.4 L472.7,154.2 L484.3,148.0 L495.9,147.7 L507.5,140.2 L519.1,144.2 L530.8,144.0" fill="none" stroke="#111" stroke-width="1.4" stroke-linejoin="round"/>
<path d="M345.0,150.3 L356.6,79.7 L368.2,38.2 L379.8,87.0 L391.4,125.7 L403.1,123.1 L414.7,132.3 L426.3,145.6 L437.9,149.1 L449.5,152.8 L461.1,162.2 L472.7,167.6 L484.3,171.1 L495.9,173.0 L507.5,170.3 L519.1,174.4 L530.8,175.4" fill="none" stroke="#ff2020" stroke-width="1.4" stroke-linejoin="round"/>
<rect x="342.70" y="177.10" width="4.6" height="4.6" fill="#111"/>
<circle cx="345.00" cy="150.30" r="2.7" fill="#ff2020"/>
<rect x="354.31" y="179.70" width="4.6" height="4.6" fill="#111"/>
<circle cx="356.61" cy="79.70" r="2.7" fill="#ff2020"/>
<rect x="365.92" y="178.00" width="4.6" height="4.6" fill="#111"/>
<circle cx="368.22" cy="38.20" r="2.7" fill="#ff2020"/>
<rect x="377.53" y="174.90" width="4.6" height="4.6" fill="#111"/>
<circle cx="379.83" cy="87.00" r="2.7" fill="#ff2020"/>
<rect x="389.14" y="178.20" width="4.6" height="4.6" fill="#111"/>
<circle cx="391.44" cy="125.70" r="2.7" fill="#ff2020"/>
<rect x="400.75" y="176.20" width="4.6" height="4.6" fill="#111"/>
<circle cx="403.05" cy="123.10" r="2.7" fill="#ff2020"/>
<rect x="412.36" y="173.90" width="4.6" height="4.6" fill="#111"/>
<circle cx="414.66" cy="132.30" r="2.7" fill="#ff2020"/>
<rect x="423.97" y="173.10" width="4.6" height="4.6" fill="#111"/>
<circle cx="426.27" cy="145.60" r="2.7" fill="#ff2020"/>
<rect x="435.58" y="168.80" width="4.6" height="4.6" fill="#111"/>
<circle cx="437.88" cy="149.10" r="2.7" fill="#ff2020"/>
<rect x="447.19" y="158.90" width="4.6" height="4.6" fill="#111"/>
<circle cx="449.49" cy="152.80" r="2.7" fill="#ff2020"/>
<rect x="458.80" y="152.10" width="4.6" height="4.6" fill="#111"/>
<circle cx="461.10" cy="162.20" r="2.7" fill="#ff2020"/>
<rect x="470.41" y="151.90" width="4.6" height="4.6" fill="#111"/>
<circle cx="472.71" cy="167.60" r="2.7" fill="#ff2020"/>
<rect x="482.02" y="145.70" width="4.6" height="4.6" fill="#111"/>
<circle cx="484.32" cy="171.10" r="2.7" fill="#ff2020"/>
<rect x="493.63" y="145.40" width="4.6" height="4.6" fill="#111"/>
<circle cx="495.93" cy="173.00" r="2.7" fill="#ff2020"/>
<rect x="505.24" y="137.90" width="4.6" height="4.6" fill="#111"/>
<circle cx="507.54" cy="170.30" r="2.7" fill="#ff2020"/>
<rect x="516.85" y="141.90" width="4.6" height="4.6" fill="#111"/>
<circle cx="519.15" cy="174.40" r="2.7" fill="#ff2020"/>
<rect x="528.46" y="141.70" width="4.6" height="4.6" fill="#111"/>
<circle cx="530.76" cy="175.40" r="2.7" fill="#ff2020"/>
<line x1="448" y1="24.4" x2="471.6" y2="24.4" stroke="#111" stroke-width="1.4"/><rect x="457.3" y="22.1" width="4.6" height="4.6" fill="#111"/>
<line x1="448" y1="36.4" x2="471.6" y2="36.4" stroke="#ff2020" stroke-width="1.4"/><circle cx="459.6" cy="36.4" r="2.7" fill="#ff2020"/>
<text x="474.4" y="28" font-family="Liberation Sans, sans-serif" font-size="10" fill="#222">Em-427 nm</text>
<text x="474.4" y="40" font-family="Liberation Sans, sans-serif" font-size="10" fill="#222">Em-497 nm</text>
<text x="278.5" y="25.2" font-family="Liberation Serif, serif" font-weight="bold" font-size="18" fill="#111">(B)</text>
<rect x="71.6" y="250.5" width="203.00000000000003" height="186.5" fill="none" stroke="#111" stroke-width="1.6"/>
<line x1="67.1" y1="427.40" x2="71.6" y2="427.40" stroke="#111" stroke-width="1.4"/>
<line x1="67.1" y1="408.69" x2="71.6" y2="408.69" stroke="#111" stroke-width="1.4"/>
<line x1="67.1" y1="389.98" x2="71.6" y2="389.98" stroke="#111" stroke-width="1.4"/>
<line x1="67.1" y1="371.27" x2="71.6" y2="371.27" stroke="#111" stroke-width="1.4"/>
<line x1="67.1" y1="352.56" x2="71.6" y2="352.56" stroke="#111" stroke-width="1.4"/>
<line x1="67.1" y1="333.85" x2="71.6" y2="333.85" stroke="#111" stroke-width="1.4"/>
<line x1="67.1" y1="315.14" x2="71.6" y2="315.14" stroke="#111" stroke-width="1.4"/>
<line x1="67.1" y1="296.43" x2="71.6" y2="296.43" stroke="#111" stroke-width="1.4"/>
<line x1="67.1" y1="277.72" x2="71.6" y2="277.72" stroke="#111" stroke-width="1.4"/>
<line x1="67.1" y1="259.01" x2="71.6" y2="259.01" stroke="#111" stroke-width="1.4"/>
<line x1="69.1" y1="436.75" x2="71.6" y2="436.75" stroke="#111" stroke-width="1.4"/>
<line x1="69.1" y1="418.04" x2="71.6" y2="418.04" stroke="#111" stroke-width="1.4"/>
<line x1="69.1" y1="399.33" x2="71.6" y2="399.33" stroke="#111" stroke-width="1.4"/>
<line x1="69.1" y1="380.62" x2="71.6" y2="380.62" stroke="#111" stroke-width="1.4"/>
<line x1="69.1" y1="361.91" x2="71.6" y2="361.91" stroke="#111" stroke-width="1.4"/>
<line x1="69.1" y1="343.20" x2="71.6" y2="343.20" stroke="#111" stroke-width="1.4"/>
<line x1="69.1" y1="324.50" x2="71.6" y2="324.50" stroke="#111" stroke-width="1.4"/>
<line x1="69.1" y1="305.78" x2="71.6" y2="305.78" stroke="#111" stroke-width="1.4"/>
<line x1="69.1" y1="287.07" x2="71.6" y2="287.07" stroke="#111" stroke-width="1.4"/>
<line x1="69.1" y1="268.37" x2="71.6" y2="268.37" stroke="#111" stroke-width="1.4"/>
<line x1="69.1" y1="249.65" x2="71.6" y2="249.65" stroke="#111" stroke-width="1.4"/>
<text x="65.6" y="431.00" font-family="Liberation Sans, sans-serif" font-size="9.8" fill="#222" text-anchor="end">0</text>
<text x="65.6" y="412.29" font-family="Liberation Sans, sans-serif" font-size="9.8" fill="#222" text-anchor="end">10000</text>
<text x="65.6" y="393.58" font-family="Liberation Sans, sans-serif" font-size="9.8" fill="#222" text-anchor="end">20000</text>
<text x="65.6" y="374.87" font-family="Liberation Sans, sans-serif" font-size="9.8" fill="#222" text-anchor="end">30000</text>
<text x="65.6" y="356.16" font-family="Liberation Sans, sans-serif" font-size="9.8" fill="#222" text-anchor="end">40000</text>
<text x="65.6" y="337.45" font-family="Liberation Sans, sans-serif" font-size="9.8" fill="#222" text-anchor="end">50000</text>
<text x="65.6" y="318.74" font-family="Liberation Sans, sans-serif" font-size="9.8" fill="#222" text-anchor="end">60000</text>
<text x="65.6" y="300.03" font-family="Liberation Sans, sans-serif" font-size="9.8" fill="#222" text-anchor="end">70000</text>
<text x="65.6" y="281.32" font-family="Liberation Sans, sans-serif" font-size="9.8" fill="#222" text-anchor="end">80000</text>
<text x="65.6" y="262.61" font-family="Liberation Sans, sans-serif" font-size="9.8" fill="#222" text-anchor="end">90000</text>
<line x1="71.60" y1="437" x2="71.60" y2="441.5" stroke="#111" stroke-width="1.4"/>
<line x1="102.83" y1="437" x2="102.83" y2="441.5" stroke="#111" stroke-width="1.4"/>
<line x1="134.06" y1="437" x2="134.06" y2="441.5" stroke="#111" stroke-width="1.4"/>
<line x1="165.29" y1="437" x2="165.29" y2="441.5" stroke="#111" stroke-width="1.4"/>
<line x1="196.52" y1="437" x2="196.52" y2="441.5" stroke="#111" stroke-width="1.4"/>
<line x1="227.75" y1="437" x2="227.75" y2="441.5" stroke="#111" stroke-width="1.4"/>
<line x1="258.98" y1="437" x2="258.98" y2="441.5" stroke="#111" stroke-width="1.4"/>
<line x1="87.22" y1="437" x2="87.22" y2="439.5" stroke="#111" stroke-width="1.4"/>
<line x1="118.44" y1="437" x2="118.44" y2="439.5" stroke="#111" stroke-width="1.4"/>
<line x1="149.68" y1="437" x2="149.68" y2="439.5" stroke="#111" stroke-width="1.4"/>
<line x1="180.91" y1="437" x2="180.91" y2="439.5" stroke="#111" stroke-width="1.4"/>
<line x1="212.13" y1="437" x2="212.13" y2="439.5" stroke="#111" stroke-width="1.4"/>
<line x1="243.37" y1="437" x2="243.37" y2="439.5" stroke="#111" stroke-width="1.4"/>
<line x1="274.60" y1="437" x2="274.60" y2="439.5" stroke="#111" stroke-width="1.4"/>
<text x="71.60" y="451.50" font-family="Liberation Sans, sans-serif" font-size="10" fill="#222" text-anchor="middle">350</text>
<text x="102.83" y="451.50" font-family="Liberation Sans, sans-serif" font-size="10" fill="#222" text-anchor="middle">400</text>
<text x="134.06" y="451.50" font-family="Liberation Sans, sans-serif" font-size="10" fill="#222" text-anchor="middle">450</text>
<text x="165.29" y="451.50" font-family="Liberation Sans, sans-serif" font-size="10" fill="#222" text-anchor="middle">500</text>
<text x="196.52" y="451.50" font-family="Liberation Sans, sans-serif" font-size="10" fill="#222" text-anchor="middle">550</text>
<text x="227.75" y="451.50" font-family="Liberation Sans, sans-serif" font-size="10" fill="#222" text-anchor="middle">600</text>
<text x="258.98" y="451.50" font-family="Liberation Sans, sans-serif" font-size="10" fill="#222" text-anchor="middle">650</text>
<text x="0" y="0" transform="translate(32,332) rotate(-90)" font-family="Liberation Sans, sans-serif" font-size="9.6" fill="#222" text-anchor="middle">Fluorescence Intensity</text>
<text x="166" y="461.3" font-family="Liberation Sans, sans-serif" font-size="10" fill="#222" text-anchor="middle">Wavelength (nm)</text>
<path d="M96.6,423.7 L96.9,423.8 L97.2,423.8 L97.5,423.9 L97.8,424.0 L98.1,424.1 L98.5,424.2 L98.8,424.3 L99.1,424.4 L99.4,424.6 L99.7,424.7 L100.0,424.8 L100.3,425.0 L100.6,425.1 L101.0,425.2 L101.3,425.3 L101.6,425.4 L101.9,425.5 L102.2,425.6 L102.5,425.6 L102.8,425.7 L103.1,425.7 L103.5,425.8 L103.8,425.8 L104.1,425.8 L104.4,425.8 L104.7,425.8 L105.0,425.8 L105.3,425.8 L105.6,425.8 L106.0,425.7 L106.3,425.7 L106.6,425.7 L106.9,425.6 L107.2,425.6 L107.5,425.5 L107.8,425.5 L108.1,425.4 L108.5,425.3 L108.8,425.2 L109.1,425.1 L109.4,425.0 L109.7,424.9 L110.0,424.8 L110.3,424.7 L110.6,424.5 L110.9,424.3 L111.3,424.2 L111.6,424.0 L111.9,423.8 L112.2,423.5 L112.5,423.3 L112.8,423.0 L113.1,422.8 L113.4,422.5 L113.8,422.2 L114.1,421.9 L114.4,421.5 L114.7,421.2 L115.0,420.9 L115.3,420.5 L115.6,420.2 L115.9,419.9 L116.3,419.5 L116.6,419.2 L116.9,418.9 L117.2,418.7 L117.5,418.4 L117.8,418.2 L118.1,418.0 L118.4,417.8 L118.8,417.7 L119.1,417.6 L119.4,417.5 L119.7,417.5 L120.0,417.5 L120.3,417.6 L120.6,417.7 L120.9,417.9 L121.3,418.1 L121.6,418.4 L121.9,418.7 L122.2,419.0 L122.5,419.3 L122.8,419.7 L123.1,420.1 L123.4,420.4 L123.8,420.8 L124.1,421.2 L124.4,421.5 L124.7,421.9 L125.0,422.2 L125.3,422.5 L125.6,422.8 L125.9,423.1 L126.3,423.3 L126.6,423.6 L126.9,423.8 L127.2,424.0 L127.5,424.1 L127.8,424.3 L128.1,424.4 L128.4,424.5 L128.8,424.6 L129.1,424.6 L129.4,424.7 L129.7,424.8 L130.0,424.8 L130.3,424.8 L130.6,424.9 L130.9,424.9 L131.2,424.9 L131.6,424.9 L131.9,424.9 L132.2,424.9 L132.5,424.9 L132.8,425.0 L133.1,425.0 L133.4,425.0 L133.7,425.0 L134.1,425.0 L134.4,425.0 L134.7,425.0 L135.0,425.0 L135.3,425.0 L135.6,425.0 L135.9,425.0 L136.2,425.0 L136.6,425.0 L136.9,425.0 L137.2,425.0 L137.5,425.0 L137.8,425.0 L138.1,425.0 L138.4,425.0 L138.7,425.0 L139.1,425.0 L139.4,425.0 L139.7,425.0 L140.0,425.0 L140.3,425.0 L140.6,425.0 L140.9,425.0 L141.2,425.0 L141.6,425.0 L141.9,425.0 L142.2,425.0 L142.5,425.0 L142.8,425.0 L143.1,425.0 L143.4,425.0 L143.7,425.0 L144.1,425.0 L144.4,425.0 L144.7,425.0 L145.0,425.0 L145.3,425.0 L145.6,425.0 L145.9,425.0 L146.2,425.0 L146.6,425.0 L146.9,425.0 L147.2,425.0 L147.5,425.0 L147.8,425.0 L148.1,425.0 L148.4,425.0 L148.7,425.0 L149.1,425.0 L149.4,425.0 L149.7,425.0 L150.0,425.0 L150.3,425.0 L150.6,425.0 L150.9,425.0 L151.2,425.0 L151.5,425.0 L151.9,425.0 L152.2,425.0 L152.5,425.0 L152.8,425.0 L153.1,425.0 L153.4,425.0 L153.7,425.0 L154.0,425.0 L154.4,425.0 L154.7,425.0 L155.0,425.0 L155.3,425.0 L155.6,425.0 L155.9,425.0 L156.2,425.0 L156.5,425.0 L156.9,425.0 L157.2,425.0 L157.5,425.0 L157.8,425.0 L158.1,425.0 L158.4,425.0 L158.7,425.0 L159.0,425.0 L159.4,425.0 L159.7,425.0 L160.0,425.0 L160.3,425.0 L160.6,425.0 L160.9,425.0 L161.2,425.0 L161.5,425.0 L161.9,425.0 L162.2,425.0 L162.5,425.0 L162.8,425.0 L163.1,425.0 L163.4,425.0 L163.7,425.0 L164.0,425.0 L164.4,425.0 L164.7,425.0 L165.0,425.0 L165.3,425.0 L165.6,425.0 L165.9,425.0 L166.2,425.0 L166.5,425.0 L166.9,425.0 L167.2,425.0 L167.5,425.0 L167.8,425.0 L168.1,425.0 L168.4,425.0 L168.7,425.0 L169.0,425.0 L169.3,425.0 L169.7,425.0 L170.0,425.0 L170.3,425.0 L170.6,425.0 L170.9,425.0 L171.2,425.0 L171.5,425.0 L171.8,425.0 L172.2,425.0 L172.5,425.0 L172.8,425.0 L173.1,425.0 L173.4,425.0 L173.7,425.0 L174.0,425.0 L174.3,425.0 L174.7,425.0 L175.0,425.0 L175.3,425.0 L175.6,425.0 L175.9,425.0 L176.2,425.0 L176.5,425.0 L176.8,425.0 L177.2,425.0 L177.5,425.0 L177.8,425.0 L178.1,425.0 L178.4,425.0 L178.7,425.0 L179.0,425.0 L179.3,425.0 L179.7,425.0 L180.0,425.0 L180.3,425.0 L180.6,425.0 L180.9,425.0 L181.2,425.0 L181.5,425.0 L181.8,425.0 L182.2,425.0 L182.5,425.0 L182.8,425.0 L183.1,425.0 L183.4,425.0 L183.7,425.0 L184.0,425.0 L184.3,425.0 L184.7,425.0 L185.0,425.0 L185.3,425.0 L185.6,425.0 L185.9,425.0 L186.2,425.0 L186.5,425.0 L186.8,425.0 L187.2,425.0 L187.5,425.0 L187.8,425.0 L188.1,425.0 L188.4,425.0 L188.7,425.0 L189.0,425.0 L189.3,425.0 L189.6,425.0 L190.0,425.0 L190.3,425.0 L190.6,425.0 L190.9,425.0 L191.2,425.0 L191.5,425.0 L191.8,425.0 L192.1,425.0 L192.5,425.0 L192.8,425.0 L193.1,425.0 L193.4,425.0 L193.7,425.0 L194.0,425.0 L194.3,425.0 L194.6,425.0 L195.0,425.0 L195.3,425.0 L195.6,425.0 L195.9,425.0 L196.2,425.0 L196.5,425.0 L196.8,425.0 L197.1,425.0 L197.5,425.0 L197.8,425.0 L198.1,425.0 L198.4,425.0 L198.7,425.0 L199.0,425.0 L199.3,425.0 L199.6,425.0 L200.0,425.0 L200.3,425.0 L200.6,425.0 L200.9,425.0 L201.2,425.0 L201.5,425.0 L201.8,425.0 L202.1,425.0 L202.5,425.0 L202.8,425.0 L203.1,425.0 L203.4,425.0 L203.7,425.0 L204.0,425.0 L204.3,425.0 L204.6,425.0 L205.0,425.0 L205.3,425.0 L205.6,425.0 L205.9,425.0 L206.2,425.0 L206.5,425.0 L206.8,425.0 L207.1,425.0 L207.5,425.0 L207.8,425.0 L208.1,425.0 L208.4,425.0 L208.7,425.0 L209.0,425.0 L209.3,425.0 L209.6,425.0 L209.9,425.0 L210.3,425.0 L210.6,425.0 L210.9,425.0 L211.2,425.0 L211.5,425.0 L211.8,425.0 L212.1,425.0 L212.4,425.0 L212.8,425.0 L213.1,425.0 L213.4,425.0 L213.7,425.0 L214.0,425.0 L214.3,425.0 L214.6,425.0 L214.9,425.0 L215.3,425.0 L215.6,425.0 L215.9,425.0 L216.2,425.0 L216.5,425.0 L216.8,425.0 L217.1,425.0 L217.4,425.0 L217.8,425.0 L218.1,425.0 L218.4,427.1 L218.7,427.1 L219.0,427.1 L219.3,427.1 L219.6,427.1 L219.9,427.1 L220.3,427.1 L220.6,427.1 L220.9,427.1 L221.2,427.1 L221.5,427.1 L221.8,427.1 L222.1,427.1 L222.4,427.1 L222.8,427.1 L223.1,427.1 L223.4,427.1 L223.7,427.1 L224.0,427.1 L224.3,427.1 L224.6,427.1 L224.9,427.1 L225.3,427.1 L225.6,427.1 L225.9,427.1 L226.2,427.1 L226.5,427.1 L226.8,427.1 L227.1,427.1 L227.4,427.1 L227.8,427.1 L228.1,427.1 L228.4,427.1 L228.7,427.1 L229.0,427.1 L229.3,427.1 L229.6,427.1 L229.9,427.1 L230.2,427.1 L230.6,427.1 L230.9,427.1 L231.2,427.1 L231.5,427.1 L231.8,427.1 L232.1,427.1 L232.4,427.1 L232.7,427.1 L233.1,427.1 L233.4,427.1 L233.7,427.1 L234.0,427.1 L234.3,427.1 L234.6,427.1 L234.9,427.1 L235.2,427.1 L235.6,427.1 L235.9,427.1 L236.2,427.1 L236.5,427.1 L236.8,427.1 L237.1,427.1 L237.4,427.1 L237.7,427.1 L238.1,427.1 L238.4,427.1 L238.7,427.1 L239.0,427.1 L239.3,427.1 L239.6,427.1 L239.9,427.1 L240.2,427.1 L240.6,427.1 L240.9,427.1 L241.2,427.1 L241.5,427.1 L241.8,427.1 L242.1,427.1 L242.4,427.1 L242.7,427.1 L243.1,427.1 L243.4,427.1 L243.7,427.1 L244.0,427.1 L244.3,427.1 L244.6,427.1 L244.9,427.1 L245.2,427.1 L245.6,427.1 L245.9,427.1 L246.2,427.1 L246.5,427.1 L246.8,427.1 L247.1,427.1 L247.4,427.1 L247.7,427.1 L248.0,427.1 L248.4,427.1 L248.7,427.1 L249.0,427.1 L249.3,427.1 L249.6,427.1 L249.9,427.1 L250.2,427.1 L250.5,427.1 L250.9,427.1 L251.2,427.1 L251.5,427.1 L251.8,427.1 L252.1,427.1 L252.4,427.1 L252.7,427.1 L253.0,427.1 L253.4,427.1 L253.7,427.1 L254.0,427.1 L254.3,427.1 L254.6,427.1 L254.9,427.1 L255.2,427.1 L255.5,427.1 L255.9,427.1 L256.2,427.1 L256.5,427.1 L256.8,427.1 L257.1,427.1 L257.4,427.1 L257.7,427.1 L258.0,427.1 L258.4,427.1 L258.7,427.1 L259.0,427.1" fill="none" stroke="#ff33ff" stroke-width="1.4" stroke-linejoin="round"/>
<path d="M96.6,423.7 L96.9,423.8 L97.2,423.8 L97.5,423.9 L97.8,424.0 L98.1,424.1 L98.5,424.2 L98.8,424.3 L99.1,424.4 L99.4,424.5 L99.7,424.7 L100.0,424.8 L100.3,424.9 L100.6,425.0 L101.0,425.2 L101.3,425.3 L101.6,425.4 L101.9,425.4 L102.2,425.5 L102.5,425.6 L102.8,425.6 L103.1,425.7 L103.5,425.7 L103.8,425.7 L104.1,425.7 L104.4,425.7 L104.7,425.7 L105.0,425.7 L105.3,425.7 L105.6,425.7 L106.0,425.6 L106.3,425.6 L106.6,425.6 L106.9,425.5 L107.2,425.4 L107.5,425.4 L107.8,425.3 L108.1,425.2 L108.5,425.1 L108.8,425.1 L109.1,424.9 L109.4,424.8 L109.7,424.7 L110.0,424.6 L110.3,424.4 L110.6,424.2 L110.9,424.1 L111.3,423.9 L111.6,423.7 L111.9,423.4 L112.2,423.2 L112.5,422.9 L112.8,422.7 L113.1,422.4 L113.4,422.1 L113.8,421.7 L114.1,421.4 L114.4,421.1 L114.7,420.7 L115.0,420.3 L115.3,420.0 L115.6,419.6 L115.9,419.3 L116.3,418.9 L116.6,418.6 L116.9,418.2 L117.2,417.9 L117.5,417.6 L117.8,417.4 L118.1,417.1 L118.4,416.9 L118.8,416.8 L119.1,416.6 L119.4,416.5 L119.7,416.5 L120.0,416.4 L120.3,416.5 L120.6,416.5 L120.9,416.7 L121.3,416.8 L121.6,417.0 L121.9,417.3 L122.2,417.5 L122.5,417.8 L122.8,418.1 L123.1,418.4 L123.4,418.7 L123.8,419.0 L124.1,419.3 L124.4,419.6 L124.7,419.9 L125.0,420.2 L125.3,420.4 L125.6,420.6 L125.9,420.8 L126.3,420.9 L126.6,421.1 L126.9,421.2 L127.2,421.3 L127.5,421.3 L127.8,421.4 L128.1,421.4 L128.4,421.4 L128.8,421.4 L129.1,421.3 L129.4,421.3 L129.7,421.2 L130.0,421.2 L130.3,421.1 L130.6,421.0 L130.9,420.9 L131.2,420.8 L131.6,420.6 L131.9,420.5 L132.2,420.4 L132.5,420.3 L132.8,420.1 L133.1,420.0 L133.4,419.8 L133.7,419.7 L134.1,419.5 L134.4,419.4 L134.7,419.2 L135.0,419.0 L135.3,418.9 L135.6,418.7 L135.9,418.5 L136.2,418.4 L136.6,418.2 L136.9,418.0 L137.2,417.8 L137.5,417.7 L137.8,417.5 L138.1,417.3 L138.4,417.1 L138.7,416.9 L139.1,416.7 L139.4,416.5 L139.7,416.3 L140.0,416.1 L140.3,415.9 L140.6,415.7 L140.9,415.5 L141.2,415.3 L141.6,415.1 L141.9,414.9 L142.2,414.7 L142.5,414.5 L142.8,414.3 L143.1,414.0 L143.4,413.8 L143.7,413.6 L144.1,413.4 L144.4,413.2 L144.7,413.0 L145.0,412.8 L145.3,412.5 L145.6,412.3 L145.9,412.1 L146.2,411.9 L146.6,411.7 L146.9,411.5 L147.2,411.3 L147.5,411.1 L147.8,410.9 L148.1,410.6 L148.4,410.4 L148.7,410.2 L149.1,410.0 L149.4,409.8 L149.7,409.6 L150.0,409.4 L150.3,409.3 L150.6,409.1 L150.9,408.9 L151.2,408.7 L151.5,408.5 L151.9,408.3 L152.2,408.2 L152.5,408.0 L152.8,407.8 L153.1,407.7 L153.4,407.5 L153.7,407.4 L154.0,407.2 L154.4,407.1 L154.7,406.9 L155.0,406.8 L155.3,406.7 L155.6,406.5 L155.9,406.4 L156.2,406.3 L156.5,406.2 L156.9,406.1 L157.2,406.0 L157.5,405.9 L157.8,405.8 L158.1,405.7 L158.4,405.6 L158.7,405.6 L159.0,405.5 L159.4,405.4 L159.7,405.4 L160.0,405.3 L160.3,405.3 L160.6,405.3 L160.9,405.2 L161.2,405.2 L161.5,405.2 L161.9,405.2 L162.2,405.2 L162.5,405.2 L162.8,405.2 L163.1,405.2 L163.4,405.2 L163.7,405.2 L164.0,405.3 L164.4,405.3 L164.7,405.3 L165.0,405.3 L165.3,405.4 L165.6,405.4 L165.9,405.4 L166.2,405.5 L166.5,405.5 L166.9,405.6 L167.2,405.6 L167.5,405.7 L167.8,405.7 L168.1,405.8 L168.4,405.9 L168.7,405.9 L169.0,406.0 L169.3,406.1 L169.7,406.2 L170.0,406.2 L170.3,406.3 L170.6,406.4 L170.9,406.5 L171.2,406.6 L171.5,406.7 L171.8,406.8 L172.2,406.9 L172.5,407.0 L172.8,407.1 L173.1,407.2 L173.4,407.3 L173.7,407.4 L174.0,407.5 L174.3,407.6 L174.7,407.7 L175.0,407.9 L175.3,408.0 L175.6,408.1 L175.9,408.2 L176.2,408.4 L176.5,408.5 L176.8,408.6 L177.2,408.8 L177.5,408.9 L177.8,409.0 L178.1,409.2 L178.4,409.3 L178.7,409.5 L179.0,409.6 L179.3,409.7 L179.7,409.9 L180.0,410.0 L180.3,410.2 L180.6,410.3 L180.9,410.5 L181.2,410.6 L181.5,410.8 L181.8,410.9 L182.2,411.1 L182.5,411.2 L182.8,411.4 L183.1,411.6 L183.4,411.7 L183.7,411.9 L184.0,412.0 L184.3,412.2 L184.7,412.3 L185.0,412.5 L185.3,412.7 L185.6,412.8 L185.9,413.0 L186.2,413.1 L186.5,413.3 L186.8,413.4 L187.2,413.6 L187.5,413.8 L187.8,413.9 L188.1,414.1 L188.4,414.2 L188.7,414.4 L189.0,414.5 L189.3,414.7 L189.6,414.9 L190.0,415.0 L190.3,415.2 L190.6,415.3 L190.9,415.5 L191.2,415.6 L191.5,415.8 L191.8,415.9 L192.1,416.1 L192.5,416.2 L192.8,416.4 L193.1,416.5 L193.4,416.6 L193.7,416.8 L194.0,416.9 L194.3,417.1 L194.6,417.2 L195.0,417.4 L195.3,417.5 L195.6,417.6 L195.9,417.8 L196.2,417.9 L196.5,418.0 L196.8,418.2 L197.1,418.3 L197.5,418.4 L197.8,418.5 L198.1,418.7 L198.4,418.8 L198.7,418.9 L199.0,419.0 L199.3,419.2 L199.6,419.3 L200.0,419.4 L200.3,419.5 L200.6,419.6 L200.9,419.7 L201.2,419.9 L201.5,420.0 L201.8,420.1 L202.1,420.2 L202.5,420.3 L202.8,420.4 L203.1,420.5 L203.4,420.6 L203.7,420.7 L204.0,420.8 L204.3,420.9 L204.6,421.0 L205.0,421.1 L205.3,421.2 L205.6,421.3 L205.9,421.3 L206.2,421.4 L206.5,421.5 L206.8,421.6 L207.1,421.7 L207.5,421.8 L207.8,421.8 L208.1,421.9 L208.4,422.0 L208.7,422.1 L209.0,422.1 L209.3,422.2 L209.6,422.3 L209.9,422.4 L210.3,422.4 L210.6,422.5 L210.9,422.6 L211.2,422.6 L211.5,422.7 L211.8,422.8 L212.1,422.8 L212.4,422.9 L212.8,422.9 L213.1,423.0 L213.4,423.0 L213.7,423.1 L214.0,423.1 L214.3,423.2 L214.6,423.2 L214.9,423.3 L215.3,423.3 L215.6,423.4 L215.9,423.4 L216.2,423.5 L216.5,423.5 L216.8,423.6 L217.1,423.6 L217.4,423.7 L217.8,423.7 L218.1,423.7 L218.4,425.9 L218.7,426.0 L219.0,426.0 L219.3,426.0 L219.6,426.1 L219.9,426.1 L220.3,426.1 L220.6,426.2 L220.9,426.2 L221.2,426.2 L221.5,426.3 L221.8,426.3 L222.1,426.3 L222.4,426.3 L222.8,426.4 L223.1,426.4 L223.4,426.4 L223.7,426.4 L224.0,426.5 L224.3,426.5 L224.6,426.5 L224.9,426.5 L225.3,426.5 L225.6,426.6 L225.9,426.6 L226.2,426.6 L226.5,426.6 L226.8,426.6 L227.1,426.7 L227.4,426.7 L227.8,426.7 L228.1,426.7 L228.4,426.7 L228.7,426.7 L229.0,426.7 L229.3,426.8 L229.6,426.8 L229.9,426.8 L230.2,426.8 L230.6,426.8 L230.9,426.8 L231.2,426.8 L231.5,426.8 L231.8,426.9 L232.1,426.9 L232.4,426.9 L232.7,426.9 L233.1,426.9 L233.4,426.9 L233.7,426.9 L234.0,426.9 L234.3,426.9 L234.6,426.9 L234.9,426.9 L235.2,426.9 L235.6,427.0 L235.9,427.0 L236.2,427.0 L236.5,427.0 L236.8,427.0 L237.1,427.0 L237.4,427.0 L237.7,427.0 L238.1,427.0 L238.4,427.0 L238.7,427.0 L239.0,427.0 L239.3,427.0 L239.6,427.0 L239.9,427.0 L240.2,427.0 L240.6,427.0 L240.9,427.0 L241.2,427.0 L241.5,427.0 L241.8,427.0 L242.1,427.1 L242.4,427.1 L242.7,427.1 L243.1,427.1 L243.4,427.1 L243.7,427.1 L244.0,427.1 L244.3,427.1 L244.6,427.1 L244.9,427.1 L245.2,427.1 L245.6,427.1 L245.9,427.1 L246.2,427.1 L246.5,427.1 L246.8,427.1 L247.1,427.1 L247.4,427.1 L247.7,427.1 L248.0,427.1 L248.4,427.1 L248.7,427.1 L249.0,427.1 L249.3,427.1 L249.6,427.1 L249.9,427.1 L250.2,427.1 L250.5,427.1 L250.9,427.1 L251.2,427.1 L251.5,427.1 L251.8,427.1 L252.1,427.1 L252.4,427.1 L252.7,427.1 L253.0,427.1 L253.4,427.1 L253.7,427.1 L254.0,427.1 L254.3,427.1 L254.6,427.1 L254.9,427.1 L255.2,427.1 L255.5,427.1 L255.9,427.1 L256.2,427.1 L256.5,427.1 L256.8,427.1 L257.1,427.1 L257.4,427.1 L257.7,427.1 L258.0,427.1 L258.4,427.1 L258.7,427.1 L259.0,427.1" fill="none" stroke="#333333" stroke-width="1.4" stroke-linejoin="round"/>
<path d="M96.6,423.7 L96.9,423.8 L97.2,423.8 L97.5,423.9 L97.8,424.0 L98.1,424.1 L98.5,424.2 L98.8,424.3 L99.1,424.4 L99.4,424.6 L99.7,424.7 L100.0,424.8 L100.3,424.9 L100.6,425.1 L101.0,425.2 L101.3,425.3 L101.6,425.4 L101.9,425.5 L102.2,425.5 L102.5,425.6 L102.8,425.6 L103.1,425.7 L103.5,425.7 L103.8,425.7 L104.1,425.7 L104.4,425.7 L104.7,425.7 L105.0,425.7 L105.3,425.7 L105.6,425.7 L106.0,425.7 L106.3,425.6 L106.6,425.6 L106.9,425.5 L107.2,425.5 L107.5,425.4 L107.8,425.3 L108.1,425.2 L108.5,425.1 L108.8,425.0 L109.1,424.9 L109.4,424.8 L109.7,424.7 L110.0,424.5 L110.3,424.4 L110.6,424.2 L110.9,424.0 L111.3,423.8 L111.6,423.6 L111.9,423.3 L112.2,423.0 L112.5,422.8 L112.8,422.5 L113.1,422.1 L113.4,421.8 L113.8,421.4 L114.1,421.1 L114.4,420.7 L114.7,420.3 L115.0,419.9 L115.3,419.5 L115.6,419.1 L115.9,418.7 L116.3,418.3 L116.6,417.9 L116.9,417.6 L117.2,417.2 L117.5,416.9 L117.8,416.6 L118.1,416.3 L118.4,416.0 L118.8,415.8 L119.1,415.6 L119.4,415.5 L119.7,415.4 L120.0,415.3 L120.3,415.2 L120.6,415.1 L120.9,415.1 L121.3,415.0 L121.6,415.0 L121.9,415.0 L122.2,415.0 L122.5,415.0 L122.8,415.0 L123.1,415.0 L123.4,415.0 L123.8,415.0 L124.1,415.0 L124.4,415.0 L124.7,415.0 L125.0,415.1 L125.3,415.1 L125.6,415.1 L125.9,415.1 L126.3,415.1 L126.6,415.0 L126.9,415.0 L127.2,415.0 L127.5,414.9 L127.8,414.9 L128.1,414.8 L128.4,414.7 L128.8,414.6 L129.1,414.5 L129.4,414.3 L129.7,414.2 L130.0,414.0 L130.3,413.8 L130.6,413.6 L130.9,413.3 L131.2,413.1 L131.6,412.8 L131.9,412.5 L132.2,412.2 L132.5,411.8 L132.8,411.5 L133.1,411.1 L133.4,410.7 L133.7,410.2 L134.1,409.8 L134.4,409.3 L134.7,408.8 L135.0,408.3 L135.3,407.8 L135.6,407.2 L135.9,406.6 L136.2,406.1 L136.6,405.4 L136.9,404.8 L137.2,404.1 L137.5,403.5 L137.8,402.8 L138.1,402.1 L138.4,401.3 L138.7,400.6 L139.1,399.8 L139.4,399.1 L139.7,398.3 L140.0,397.5 L140.3,396.6 L140.6,395.8 L140.9,394.9 L141.2,394.1 L141.6,393.2 L141.9,392.3 L142.2,391.4 L142.5,390.4 L142.8,389.5 L143.1,388.6 L143.4,387.6 L143.7,386.6 L144.1,385.7 L144.4,384.7 L144.7,383.7 L145.0,382.7 L145.3,381.7 L145.6,380.7 L145.9,379.6 L146.2,378.6 L146.6,377.6 L146.9,376.6 L147.2,375.6 L147.5,374.5 L147.8,373.5 L148.1,372.5 L148.4,371.4 L148.7,370.4 L149.1,369.4 L149.4,368.4 L149.7,367.4 L150.0,366.4 L150.3,365.4 L150.6,364.4 L150.9,363.4 L151.2,362.4 L151.5,361.5 L151.9,360.5 L152.2,359.6 L152.5,358.7 L152.8,357.8 L153.1,356.9 L153.4,356.0 L153.7,355.2 L154.0,354.3 L154.4,353.5 L154.7,352.7 L155.0,352.0 L155.3,351.2 L155.6,350.5 L155.9,349.8 L156.2,349.1 L156.5,348.4 L156.9,347.8 L157.2,347.2 L157.5,346.7 L157.8,346.1 L158.1,345.6 L158.4,345.1 L158.7,344.7 L159.0,344.3 L159.4,343.9 L159.7,343.5 L160.0,343.2 L160.3,342.9 L160.6,342.6 L160.9,342.4 L161.2,342.2 L161.5,342.1 L161.9,342.0 L162.2,341.9 L162.5,341.8 L162.8,341.8 L163.1,341.8 L163.4,341.8 L163.7,341.9 L164.0,342.0 L164.4,342.1 L164.7,342.2 L165.0,342.3 L165.3,342.5 L165.6,342.6 L165.9,342.8 L166.2,343.0 L166.5,343.3 L166.9,343.5 L167.2,343.8 L167.5,344.1 L167.8,344.4 L168.1,344.7 L168.4,345.1 L168.7,345.4 L169.0,345.8 L169.3,346.2 L169.7,346.6 L170.0,347.1 L170.3,347.5 L170.6,348.0 L170.9,348.4 L171.2,348.9 L171.5,349.5 L171.8,350.0 L172.2,350.5 L172.5,351.1 L172.8,351.6 L173.1,352.2 L173.4,352.8 L173.7,353.4 L174.0,354.0 L174.3,354.7 L174.7,355.3 L175.0,355.9 L175.3,356.6 L175.6,357.3 L175.9,358.0 L176.2,358.6 L176.5,359.3 L176.8,360.0 L177.2,360.7 L177.5,361.5 L177.8,362.2 L178.1,362.9 L178.4,363.6 L178.7,364.4 L179.0,365.1 L179.3,365.9 L179.7,366.6 L180.0,367.4 L180.3,368.1 L180.6,368.9 L180.9,369.7 L181.2,370.4 L181.5,371.2 L181.8,371.9 L182.2,372.7 L182.5,373.5 L182.8,374.2 L183.1,375.0 L183.4,375.8 L183.7,376.5 L184.0,377.3 L184.3,378.0 L184.7,378.8 L185.0,379.5 L185.3,380.3 L185.6,381.0 L185.9,381.7 L186.2,382.5 L186.5,383.2 L186.8,383.9 L187.2,384.7 L187.5,385.4 L187.8,386.1 L188.1,386.8 L188.4,387.5 L188.7,388.2 L189.0,388.8 L189.3,389.5 L189.6,390.2 L190.0,390.8 L190.3,391.5 L190.6,392.1 L190.9,392.8 L191.2,393.4 L191.5,394.0 L191.8,394.7 L192.1,395.3 L192.5,395.9 L192.8,396.5 L193.1,397.0 L193.4,397.6 L193.7,398.2 L194.0,398.7 L194.3,399.3 L194.6,399.8 L195.0,400.4 L195.3,400.9 L195.6,401.4 L195.9,401.9 L196.2,402.4 L196.5,402.9 L196.8,403.4 L197.1,403.8 L197.5,404.3 L197.8,404.8 L198.1,405.2 L198.4,405.6 L198.7,406.1 L199.0,406.5 L199.3,406.9 L199.6,407.3 L200.0,407.7 L200.3,408.1 L200.6,408.5 L200.9,408.8 L201.2,409.2 L201.5,409.6 L201.8,409.9 L202.1,410.3 L202.5,410.6 L202.8,410.9 L203.1,411.2 L203.4,411.5 L203.7,411.9 L204.0,412.2 L204.3,412.4 L204.6,412.7 L205.0,413.0 L205.3,413.3 L205.6,413.5 L205.9,413.8 L206.2,414.1 L206.5,414.3 L206.8,414.5 L207.1,414.8 L207.5,415.0 L207.8,415.2 L208.1,415.4 L208.4,415.7 L208.7,415.9 L209.0,416.1 L209.3,416.3 L209.6,416.5 L209.9,416.6 L210.3,416.8 L210.6,417.0 L210.9,417.2 L211.2,417.3 L211.5,417.5 L211.8,417.7 L212.1,417.8 L212.4,418.0 L212.8,418.1 L213.1,418.3 L213.4,418.4 L213.7,418.6 L214.0,418.7 L214.3,418.8 L214.6,418.9 L214.9,419.1 L215.3,419.2 L215.6,419.3 L215.9,419.4 L216.2,419.5 L216.5,419.7 L216.8,419.8 L217.1,419.9 L217.4,420.0 L217.8,420.1 L218.1,420.2 L218.4,422.4 L218.7,422.5 L219.0,422.6 L219.3,422.7 L219.6,422.8 L219.9,422.9 L220.3,422.9 L220.6,423.0 L220.9,423.1 L221.2,423.2 L221.5,423.2 L221.8,423.3 L222.1,423.4 L222.4,423.5 L222.8,423.5 L223.1,423.6 L223.4,423.7 L223.7,423.7 L224.0,423.8 L224.3,423.8 L224.6,423.9 L224.9,424.0 L225.3,424.0 L225.6,424.1 L225.9,424.1 L226.2,424.2 L226.5,424.2 L226.8,424.3 L227.1,424.3 L227.4,424.4 L227.8,424.4 L228.1,424.5 L228.4,424.5 L228.7,424.6 L229.0,424.6 L229.3,424.7 L229.6,424.7 L229.9,424.8 L230.2,424.8 L230.6,424.8 L230.9,424.9 L231.2,424.9 L231.5,425.0 L231.8,425.0 L232.1,425.0 L232.4,425.1 L232.7,425.1 L233.1,425.2 L233.4,425.2 L233.7,425.2 L234.0,425.3 L234.3,425.3 L234.6,425.3 L234.9,425.4 L235.2,425.4 L235.6,425.4 L235.9,425.5 L236.2,425.5 L236.5,425.5 L236.8,425.5 L237.1,425.6 L237.4,425.6 L237.7,425.6 L238.1,425.7 L238.4,425.7 L238.7,425.7 L239.0,425.7 L239.3,425.8 L239.6,425.8 L239.9,425.8 L240.2,425.8 L240.6,425.9 L240.9,425.9 L241.2,425.9 L241.5,425.9 L241.8,426.0 L242.1,426.0 L242.4,426.0 L242.7,426.0 L243.1,426.0 L243.4,426.1 L243.7,426.1 L244.0,426.1 L244.3,426.1 L244.6,426.1 L244.9,426.2 L245.2,426.2 L245.6,426.2 L245.9,426.2 L246.2,426.2 L246.5,426.3 L246.8,426.3 L247.1,426.3 L247.4,426.3 L247.7,426.3 L248.0,426.3 L248.4,426.4 L248.7,426.4 L249.0,426.4 L249.3,426.4 L249.6,426.4 L249.9,426.4 L250.2,426.4 L250.5,426.5 L250.9,426.5 L251.2,426.5 L251.5,426.5 L251.8,426.5 L252.1,426.5 L252.4,426.5 L252.7,426.5 L253.0,426.6 L253.4,426.6 L253.7,426.6 L254.0,426.6 L254.3,426.6 L254.6,426.6 L254.9,426.6 L255.2,426.6 L255.5,426.6 L255.9,426.7 L256.2,426.7 L256.5,426.7 L256.8,426.7 L257.1,426.7 L257.4,426.7 L257.7,426.7 L258.0,426.7 L258.4,426.7 L258.7,426.7 L259.0,426.8" fill="none" stroke="#ff3333" stroke-width="1.4" stroke-linejoin="round"/>
<path d="M96.6,423.7 L96.9,423.8 L97.2,423.8 L97.5,423.9 L97.8,424.0 L98.1,424.1 L98.5,424.2 L98.8,424.3 L99.1,424.4 L99.4,424.6 L99.7,424.7 L100.0,424.8 L100.3,424.9 L100.6,425.1 L101.0,425.2 L101.3,425.3 L101.6,425.4 L101.9,425.4 L102.2,425.5 L102.5,425.6 L102.8,425.6 L103.1,425.7 L103.5,425.7 L103.8,425.7 L104.1,425.7 L104.4,425.7 L104.7,425.7 L105.0,425.7 L105.3,425.7 L105.6,425.7 L106.0,425.6 L106.3,425.6 L106.6,425.5 L106.9,425.5 L107.2,425.4 L107.5,425.3 L107.8,425.2 L108.1,425.1 L108.5,425.0 L108.8,424.9 L109.1,424.8 L109.4,424.7 L109.7,424.5 L110.0,424.3 L110.3,424.1 L110.6,423.9 L110.9,423.7 L111.3,423.5 L111.6,423.2 L111.9,422.9 L112.2,422.6 L112.5,422.3 L112.8,421.9 L113.1,421.5 L113.4,421.2 L113.8,420.7 L114.1,420.3 L114.4,419.9 L114.7,419.4 L115.0,418.9 L115.3,418.5 L115.6,418.0 L115.9,417.5 L116.3,417.0 L116.6,416.6 L116.9,416.1 L117.2,415.7 L117.5,415.3 L117.8,414.9 L118.1,414.6 L118.4,414.3 L118.8,414.0 L119.1,413.8 L119.4,413.6 L119.7,413.4 L120.0,413.3 L120.3,413.2 L120.6,413.1 L120.9,413.0 L121.3,413.0 L121.6,412.9 L121.9,412.8 L122.2,412.8 L122.5,412.8 L122.8,412.7 L123.1,412.7 L123.4,412.7 L123.8,412.7 L124.1,412.6 L124.4,412.6 L124.7,412.6 L125.0,412.6 L125.3,412.5 L125.6,412.5 L125.9,412.4 L126.3,412.4 L126.6,412.3 L126.9,412.2 L127.2,412.1 L127.5,412.0 L127.8,411.8 L128.1,411.7 L128.4,411.5 L128.8,411.3 L129.1,411.1 L129.4,410.9 L129.7,410.6 L130.0,410.3 L130.3,410.0 L130.6,409.7 L130.9,409.3 L131.2,408.9 L131.6,408.5 L131.9,408.0 L132.2,407.6 L132.5,407.0 L132.8,406.5 L133.1,406.0 L133.4,405.4 L133.7,404.8 L134.1,404.1 L134.4,403.4 L134.7,402.7 L135.0,402.0 L135.3,401.2 L135.6,400.5 L135.9,399.7 L136.2,398.8 L136.6,397.9 L136.9,397.1 L137.2,396.1 L137.5,395.2 L137.8,394.2 L138.1,393.2 L138.4,392.2 L138.7,391.2 L139.1,390.1 L139.4,389.0 L139.7,387.9 L140.0,386.8 L140.3,385.6 L140.6,384.5 L140.9,383.3 L141.2,382.1 L141.6,380.8 L141.9,379.6 L142.2,378.3 L142.5,377.0 L142.8,375.7 L143.1,374.4 L143.4,373.1 L143.7,371.8 L144.1,370.4 L144.4,369.0 L144.7,367.7 L145.0,366.3 L145.3,364.9 L145.6,363.5 L145.9,362.1 L146.2,360.6 L146.6,359.2 L146.9,357.8 L147.2,356.4 L147.5,354.9 L147.8,353.5 L148.1,352.1 L148.4,350.7 L148.7,349.2 L149.1,347.8 L149.4,346.4 L149.7,345.0 L150.0,343.6 L150.3,342.2 L150.6,340.9 L150.9,339.5 L151.2,338.2 L151.5,336.8 L151.9,335.5 L152.2,334.2 L152.5,333.0 L152.8,331.7 L153.1,330.5 L153.4,329.3 L153.7,328.1 L154.0,326.9 L154.4,325.8 L154.7,324.7 L155.0,323.6 L155.3,322.6 L155.6,321.6 L155.9,320.6 L156.2,319.7 L156.5,318.8 L156.9,317.9 L157.2,317.1 L157.5,316.3 L157.8,315.5 L158.1,314.8 L158.4,314.1 L158.7,313.5 L159.0,312.9 L159.4,312.4 L159.7,311.9 L160.0,311.5 L160.3,311.1 L160.6,310.7 L160.9,310.4 L161.2,310.1 L161.5,309.9 L161.9,309.7 L162.2,309.6 L162.5,309.6 L162.8,309.5 L163.1,309.5 L163.4,309.6 L163.7,309.7 L164.0,309.8 L164.4,309.9 L164.7,310.0 L165.0,310.2 L165.3,310.4 L165.6,310.7 L165.9,310.9 L166.2,311.2 L166.5,311.6 L166.9,311.9 L167.2,312.3 L167.5,312.7 L167.8,313.1 L168.1,313.6 L168.4,314.1 L168.7,314.6 L169.0,315.1 L169.3,315.6 L169.7,316.2 L170.0,316.8 L170.3,317.4 L170.6,318.1 L170.9,318.8 L171.2,319.4 L171.5,320.1 L171.8,320.9 L172.2,321.6 L172.5,322.4 L172.8,323.2 L173.1,324.0 L173.4,324.8 L173.7,325.6 L174.0,326.5 L174.3,327.4 L174.7,328.3 L175.0,329.2 L175.3,330.1 L175.6,331.0 L175.9,331.9 L176.2,332.9 L176.5,333.9 L176.8,334.8 L177.2,335.8 L177.5,336.8 L177.8,337.8 L178.1,338.8 L178.4,339.8 L178.7,340.9 L179.0,341.9 L179.3,342.9 L179.7,344.0 L180.0,345.0 L180.3,346.1 L180.6,347.1 L180.9,348.2 L181.2,349.2 L181.5,350.3 L181.8,351.4 L182.2,352.4 L182.5,353.5 L182.8,354.5 L183.1,355.6 L183.4,356.7 L183.7,357.7 L184.0,358.8 L184.3,359.8 L184.7,360.9 L185.0,361.9 L185.3,362.9 L185.6,364.0 L185.9,365.0 L186.2,366.0 L186.5,367.0 L186.8,368.0 L187.2,369.0 L187.5,370.0 L187.8,371.0 L188.1,371.9 L188.4,372.9 L188.7,373.9 L189.0,374.8 L189.3,375.8 L189.6,376.7 L190.0,377.6 L190.3,378.5 L190.6,379.4 L190.9,380.3 L191.2,381.2 L191.5,382.0 L191.8,382.9 L192.1,383.7 L192.5,384.6 L192.8,385.4 L193.1,386.2 L193.4,387.0 L193.7,387.8 L194.0,388.6 L194.3,389.3 L194.6,390.1 L195.0,390.8 L195.3,391.5 L195.6,392.3 L195.9,393.0 L196.2,393.6 L196.5,394.3 L196.8,395.0 L197.1,395.6 L197.5,396.3 L197.8,396.9 L198.1,397.5 L198.4,398.1 L198.7,398.7 L199.0,399.3 L199.3,399.9 L199.6,400.5 L200.0,401.0 L200.3,401.5 L200.6,402.1 L200.9,402.6 L201.2,403.1 L201.5,403.6 L201.8,404.1 L202.1,404.5 L202.5,405.0 L202.8,405.5 L203.1,405.9 L203.4,406.3 L203.7,406.8 L204.0,407.2 L204.3,407.6 L204.6,408.0 L205.0,408.4 L205.3,408.7 L205.6,409.1 L205.9,409.5 L206.2,409.8 L206.5,410.2 L206.8,410.5 L207.1,410.8 L207.5,411.1 L207.8,411.4 L208.1,411.7 L208.4,412.0 L208.7,412.3 L209.0,412.6 L209.3,412.9 L209.6,413.2 L209.9,413.4 L210.3,413.7 L210.6,413.9 L210.9,414.2 L211.2,414.4 L211.5,414.6 L211.8,414.8 L212.1,415.1 L212.4,415.3 L212.8,415.5 L213.1,415.7 L213.4,415.9 L213.7,416.1 L214.0,416.3 L214.3,416.4 L214.6,416.6 L214.9,416.8 L215.3,417.0 L215.6,417.1 L215.9,417.3 L216.2,417.4 L216.5,417.6 L216.8,417.7 L217.1,417.9 L217.4,418.0 L217.8,418.2 L218.1,418.3 L218.4,420.6 L218.7,420.7 L219.0,420.8 L219.3,421.0 L219.6,421.1 L219.9,421.2 L220.3,421.3 L220.6,421.4 L220.9,421.5 L221.2,421.6 L221.5,421.7 L221.8,421.8 L222.1,421.9 L222.4,422.0 L222.8,422.1 L223.1,422.2 L223.4,422.3 L223.7,422.4 L224.0,422.5 L224.3,422.6 L224.6,422.7 L224.9,422.7 L225.3,422.8 L225.6,422.9 L225.9,423.0 L226.2,423.1 L226.5,423.1 L226.8,423.2 L227.1,423.3 L227.4,423.3 L227.8,423.4 L228.1,423.5 L228.4,423.5 L228.7,423.6 L229.0,423.7 L229.3,423.7 L229.6,423.8 L229.9,423.9 L230.2,423.9 L230.6,424.0 L230.9,424.0 L231.2,424.1 L231.5,424.1 L231.8,424.2 L232.1,424.2 L232.4,424.3 L232.7,424.3 L233.1,424.4 L233.4,424.4 L233.7,424.5 L234.0,424.5 L234.3,424.6 L234.6,424.6 L234.9,424.7 L235.2,424.7 L235.6,424.8 L235.9,424.8 L236.2,424.8 L236.5,424.9 L236.8,424.9 L237.1,425.0 L237.4,425.0 L237.7,425.0 L238.1,425.1 L238.4,425.1 L238.7,425.2 L239.0,425.2 L239.3,425.2 L239.6,425.3 L239.9,425.3 L240.2,425.3 L240.6,425.4 L240.9,425.4 L241.2,425.4 L241.5,425.5 L241.8,425.5 L242.1,425.5 L242.4,425.6 L242.7,425.6 L243.1,425.6 L243.4,425.7 L243.7,425.7 L244.0,425.7 L244.3,425.7 L244.6,425.8 L244.9,425.8 L245.2,425.8 L245.6,425.8 L245.9,425.9 L246.2,425.9 L246.5,425.9 L246.8,425.9 L247.1,426.0 L247.4,426.0 L247.7,426.0 L248.0,426.0 L248.4,426.1 L248.7,426.1 L249.0,426.1 L249.3,426.1 L249.6,426.1 L249.9,426.2 L250.2,426.2 L250.5,426.2 L250.9,426.2 L251.2,426.2 L251.5,426.3 L251.8,426.3 L252.1,426.3 L252.4,426.3 L252.7,426.3 L253.0,426.3 L253.4,426.4 L253.7,426.4 L254.0,426.4 L254.3,426.4 L254.6,426.4 L254.9,426.4 L255.2,426.5 L255.5,426.5 L255.9,426.5 L256.2,426.5 L256.5,426.5 L256.8,426.5 L257.1,426.5 L257.4,426.5 L257.7,426.6 L258.0,426.6 L258.4,426.6 L258.7,426.6 L259.0,426.6" fill="none" stroke="#009999" stroke-width="1.4" stroke-linejoin="round"/>
<path d="M96.6,423.7 L96.9,423.8 L97.2,423.8 L97.5,423.9 L97.8,424.0 L98.1,424.1 L98.5,424.2 L98.8,424.3 L99.1,424.4 L99.4,424.6 L99.7,424.7 L100.0,424.8 L100.3,424.9 L100.6,425.1 L101.0,425.2 L101.3,425.3 L101.6,425.4 L101.9,425.4 L102.2,425.5 L102.5,425.6 L102.8,425.6 L103.1,425.7 L103.5,425.7 L103.8,425.7 L104.1,425.7 L104.4,425.7 L104.7,425.7 L105.0,425.7 L105.3,425.7 L105.6,425.7 L106.0,425.6 L106.3,425.6 L106.6,425.5 L106.9,425.5 L107.2,425.4 L107.5,425.3 L107.8,425.2 L108.1,425.1 L108.5,425.0 L108.8,424.9 L109.1,424.8 L109.4,424.7 L109.7,424.5 L110.0,424.3 L110.3,424.2 L110.6,424.0 L110.9,423.7 L111.3,423.5 L111.6,423.2 L111.9,423.0 L112.2,422.6 L112.5,422.3 L112.8,422.0 L113.1,421.6 L113.4,421.2 L113.8,420.8 L114.1,420.4 L114.4,419.9 L114.7,419.5 L115.0,419.0 L115.3,418.6 L115.6,418.1 L115.9,417.6 L116.3,417.2 L116.6,416.7 L116.9,416.3 L117.2,415.8 L117.5,415.4 L117.8,415.1 L118.1,414.7 L118.4,414.4 L118.8,414.1 L119.1,413.8 L119.4,413.6 L119.7,413.5 L120.0,413.3 L120.3,413.2 L120.6,413.0 L120.9,412.9 L121.3,412.8 L121.6,412.7 L121.9,412.6 L122.2,412.5 L122.5,412.4 L122.8,412.3 L123.1,412.3 L123.4,412.2 L123.8,412.1 L124.1,412.0 L124.4,411.9 L124.7,411.8 L125.0,411.7 L125.3,411.6 L125.6,411.4 L125.9,411.3 L126.3,411.1 L126.6,411.0 L126.9,410.8 L127.2,410.6 L127.5,410.3 L127.8,410.1 L128.1,409.8 L128.4,409.5 L128.8,409.2 L129.1,408.8 L129.4,408.4 L129.7,408.0 L130.0,407.6 L130.3,407.1 L130.6,406.6 L130.9,406.0 L131.2,405.5 L131.6,404.9 L131.9,404.2 L132.2,403.5 L132.5,402.8 L132.8,402.1 L133.1,401.3 L133.4,400.5 L133.7,399.6 L134.1,398.7 L134.4,397.8 L134.7,396.8 L135.0,395.8 L135.3,394.8 L135.6,393.7 L135.9,392.6 L136.2,391.4 L136.6,390.3 L136.9,389.0 L137.2,387.8 L137.5,386.5 L137.8,385.2 L138.1,383.8 L138.4,382.4 L138.7,381.0 L139.1,379.6 L139.4,378.1 L139.7,376.5 L140.0,375.0 L140.3,373.4 L140.6,371.8 L140.9,370.2 L141.2,368.5 L141.6,366.8 L141.9,365.1 L142.2,363.3 L142.5,361.6 L142.8,359.8 L143.1,358.0 L143.4,356.1 L143.7,354.3 L144.1,352.4 L144.4,350.5 L144.7,348.6 L145.0,346.7 L145.3,344.7 L145.6,342.8 L145.9,340.8 L146.2,338.8 L146.6,336.8 L146.9,334.8 L147.2,332.8 L147.5,330.8 L147.8,328.8 L148.1,326.8 L148.4,324.8 L148.7,322.8 L149.1,320.9 L149.4,318.9 L149.7,316.9 L150.0,314.9 L150.3,313.0 L150.6,311.0 L150.9,309.1 L151.2,307.2 L151.5,305.3 L151.9,303.5 L152.2,301.7 L152.5,299.8 L152.8,298.1 L153.1,296.3 L153.4,294.6 L153.7,292.9 L154.0,291.3 L154.4,289.7 L154.7,288.1 L155.0,286.6 L155.3,285.1 L155.6,283.7 L155.9,282.3 L156.2,281.0 L156.5,279.7 L156.9,278.4 L157.2,277.3 L157.5,276.1 L157.8,275.1 L158.1,274.0 L158.4,273.1 L158.7,272.2 L159.0,271.4 L159.4,270.6 L159.7,269.9 L160.0,269.3 L160.3,268.7 L160.6,268.2 L160.9,267.7 L161.2,267.4 L161.5,267.0 L161.9,266.8 L162.2,266.6 L162.5,266.5 L162.8,266.5 L163.1,266.5 L163.4,266.6 L163.7,266.7 L164.0,266.8 L164.4,267.0 L164.7,267.2 L165.0,267.5 L165.3,267.7 L165.6,268.1 L165.9,268.4 L166.2,268.8 L166.5,269.3 L166.9,269.8 L167.2,270.3 L167.5,270.8 L167.8,271.4 L168.1,272.0 L168.4,272.7 L168.7,273.4 L169.0,274.1 L169.3,274.9 L169.7,275.7 L170.0,276.5 L170.3,277.4 L170.6,278.2 L170.9,279.2 L171.2,280.1 L171.5,281.1 L171.8,282.1 L172.2,283.1 L172.5,284.2 L172.8,285.2 L173.1,286.3 L173.4,287.5 L173.7,288.6 L174.0,289.8 L174.3,291.0 L174.7,292.2 L175.0,293.5 L175.3,294.7 L175.6,296.0 L175.9,297.3 L176.2,298.6 L176.5,299.9 L176.8,301.2 L177.2,302.6 L177.5,304.0 L177.8,305.3 L178.1,306.7 L178.4,308.1 L178.7,309.5 L179.0,310.9 L179.3,312.4 L179.7,313.8 L180.0,315.2 L180.3,316.7 L180.6,318.1 L180.9,319.6 L181.2,321.0 L181.5,322.5 L181.8,323.9 L182.2,325.4 L182.5,326.8 L182.8,328.3 L183.1,329.7 L183.4,331.2 L183.7,332.6 L184.0,334.1 L184.3,335.5 L184.7,336.9 L185.0,338.4 L185.3,339.8 L185.6,341.2 L185.9,342.6 L186.2,344.0 L186.5,345.4 L186.8,346.8 L187.2,348.1 L187.5,349.5 L187.8,350.8 L188.1,352.2 L188.4,353.5 L188.7,354.8 L189.0,356.1 L189.3,357.4 L189.6,358.7 L190.0,359.9 L190.3,361.2 L190.6,362.4 L190.9,363.6 L191.2,364.8 L191.5,366.0 L191.8,367.2 L192.1,368.4 L192.5,369.5 L192.8,370.6 L193.1,371.7 L193.4,372.8 L193.7,373.9 L194.0,375.0 L194.3,376.0 L194.6,377.1 L195.0,378.1 L195.3,379.1 L195.6,380.1 L195.9,381.0 L196.2,382.0 L196.5,382.9 L196.8,383.8 L197.1,384.7 L197.5,385.6 L197.8,386.5 L198.1,387.3 L198.4,388.1 L198.7,389.0 L199.0,389.8 L199.3,390.6 L199.6,391.3 L200.0,392.1 L200.3,392.8 L200.6,393.5 L200.9,394.3 L201.2,394.9 L201.5,395.6 L201.8,396.3 L202.1,396.9 L202.5,397.6 L202.8,398.2 L203.1,398.8 L203.4,399.4 L203.7,400.0 L204.0,400.5 L204.3,401.1 L204.6,401.6 L205.0,402.2 L205.3,402.7 L205.6,403.2 L205.9,403.7 L206.2,404.2 L206.5,404.6 L206.8,405.1 L207.1,405.5 L207.5,406.0 L207.8,406.4 L208.1,406.8 L208.4,407.2 L208.7,407.6 L209.0,408.0 L209.3,408.4 L209.6,408.7 L209.9,409.1 L210.3,409.5 L210.6,409.8 L210.9,410.1 L211.2,410.4 L211.5,410.8 L211.8,411.1 L212.1,411.4 L212.4,411.7 L212.8,411.9 L213.1,412.2 L213.4,412.5 L213.7,412.7 L214.0,413.0 L214.3,413.3 L214.6,413.5 L214.9,413.7 L215.3,414.0 L215.6,414.2 L215.9,414.4 L216.2,414.6 L216.5,414.8 L216.8,415.0 L217.1,415.2 L217.4,415.4 L217.8,415.6 L218.1,415.8 L218.4,418.1 L218.7,418.3 L219.0,418.5 L219.3,418.7 L219.6,418.8 L219.9,419.0 L220.3,419.1 L220.6,419.3 L220.9,419.4 L221.2,419.6 L221.5,419.7 L221.8,419.9 L222.1,420.0 L222.4,420.1 L222.8,420.3 L223.1,420.4 L223.4,420.5 L223.7,420.6 L224.0,420.8 L224.3,420.9 L224.6,421.0 L224.9,421.1 L225.3,421.2 L225.6,421.3 L225.9,421.4 L226.2,421.5 L226.5,421.6 L226.8,421.7 L227.1,421.8 L227.4,421.9 L227.8,422.0 L228.1,422.1 L228.4,422.2 L228.7,422.3 L229.0,422.4 L229.3,422.5 L229.6,422.6 L229.9,422.6 L230.2,422.7 L230.6,422.8 L230.9,422.9 L231.2,422.9 L231.5,423.0 L231.8,423.1 L232.1,423.2 L232.4,423.2 L232.7,423.3 L233.1,423.4 L233.4,423.4 L233.7,423.5 L234.0,423.6 L234.3,423.6 L234.6,423.7 L234.9,423.8 L235.2,423.8 L235.6,423.9 L235.9,423.9 L236.2,424.0 L236.5,424.1 L236.8,424.1 L237.1,424.2 L237.4,424.2 L237.7,424.3 L238.1,424.3 L238.4,424.4 L238.7,424.4 L239.0,424.5 L239.3,424.5 L239.6,424.6 L239.9,424.6 L240.2,424.7 L240.6,424.7 L240.9,424.8 L241.2,424.8 L241.5,424.9 L241.8,424.9 L242.1,424.9 L242.4,425.0 L242.7,425.0 L243.1,425.1 L243.4,425.1 L243.7,425.1 L244.0,425.2 L244.3,425.2 L244.6,425.3 L244.9,425.3 L245.2,425.3 L245.6,425.4 L245.9,425.4 L246.2,425.4 L246.5,425.5 L246.8,425.5 L247.1,425.5 L247.4,425.6 L247.7,425.6 L248.0,425.6 L248.4,425.7 L248.7,425.7 L249.0,425.7 L249.3,425.7 L249.6,425.8 L249.9,425.8 L250.2,425.8 L250.5,425.9 L250.9,425.9 L251.2,425.9 L251.5,425.9 L251.8,426.0 L252.1,426.0 L252.4,426.0 L252.7,426.0 L253.0,426.1 L253.4,426.1 L253.7,426.1 L254.0,426.1 L254.3,426.1 L254.6,426.2 L254.9,426.2 L255.2,426.2 L255.5,426.2 L255.9,426.2 L256.2,426.3 L256.5,426.3 L256.8,426.3 L257.1,426.3 L257.4,426.3 L257.7,426.4 L258.0,426.4 L258.4,426.4 L258.7,426.4 L259.0,426.4" fill="none" stroke="#3333ff" stroke-width="1.4" stroke-linejoin="round"/>
<line x1="219.4" y1="263.60" x2="241.3" y2="263.60" stroke="#333333" stroke-width="1.6"/>
<text x="243.2" y="267.20" font-family="Liberation Sans, sans-serif" font-size="10" fill="#222">4 M</text>
<line x1="219.4" y1="275.55" x2="241.3" y2="275.55" stroke="#ff3333" stroke-width="1.6"/>
<text x="243.2" y="279.15" font-family="Liberation Sans, sans-serif" font-size="10" fill="#222">2 M</text>
<line x1="219.4" y1="287.50" x2="241.3" y2="287.50" stroke="#3333ff" stroke-width="1.6"/>
<text x="243.2" y="291.10" font-family="Liberation Sans, sans-serif" font-size="10" fill="#222">1 M</text>
<line x1="219.4" y1="299.45" x2="241.3" y2="299.45" stroke="#009999" stroke-width="1.6"/>
<text x="243.2" y="303.05" font-family="Liberation Sans, sans-serif" font-size="10" fill="#222">0.5 M</text>
<line x1="219.4" y1="311.40" x2="241.3" y2="311.40" stroke="#ff33ff" stroke-width="1.6"/>
<text x="243.2" y="315.00" font-family="Liberation Sans, sans-serif" font-size="10" fill="#222">0.25 M</text>
<text x="14" y="239.2" font-family="Liberation Serif, serif" font-weight="bold" font-size="17" fill="#111">(C)</text>
<rect x="343.3" y="249.5" width="201.90000000000003" height="185.10000000000002" fill="none" stroke="#111" stroke-width="1.6"/>
<line x1="338.8" y1="424.80" x2="343.3" y2="424.80" stroke="#111" stroke-width="1.4"/>
<line x1="338.8" y1="404.05" x2="343.3" y2="404.05" stroke="#111" stroke-width="1.4"/>
<line x1="338.8" y1="383.30" x2="343.3" y2="383.30" stroke="#111" stroke-width="1.4"/>
<line x1="338.8" y1="362.55" x2="343.3" y2="362.55" stroke="#111" stroke-width="1.4"/>
<line x1="338.8" y1="341.80" x2="343.3" y2="341.80" stroke="#111" stroke-width="1.4"/>
<line x1="338.8" y1="321.05" x2="343.3" y2="321.05" stroke="#111" stroke-width="1.4"/>
<line x1="338.8" y1="300.30" x2="343.3" y2="300.30" stroke="#111" stroke-width="1.4"/>
<line x1="338.8" y1="279.55" x2="343.3" y2="279.55" stroke="#111" stroke-width="1.4"/>
<line x1="338.8" y1="258.80" x2="343.3" y2="258.80" stroke="#111" stroke-width="1.4"/>
<line x1="340.8" y1="435.18" x2="343.3" y2="435.18" stroke="#111" stroke-width="1.4"/>
<line x1="340.8" y1="414.43" x2="343.3" y2="414.43" stroke="#111" stroke-width="1.4"/>
<line x1="340.8" y1="393.68" x2="343.3" y2="393.68" stroke="#111" stroke-width="1.4"/>
<line x1="340.8" y1="372.93" x2="343.3" y2="372.93" stroke="#111" stroke-width="1.4"/>
<line x1="340.8" y1="352.18" x2="343.3" y2="352.18" stroke="#111" stroke-width="1.4"/>
<line x1="340.8" y1="331.43" x2="343.3" y2="331.43" stroke="#111" stroke-width="1.4"/>
<line x1="340.8" y1="310.68" x2="343.3" y2="310.68" stroke="#111" stroke-width="1.4"/>
<line x1="340.8" y1="289.93" x2="343.3" y2="289.93" stroke="#111" stroke-width="1.4"/>
<line x1="340.8" y1="269.18" x2="343.3" y2="269.18" stroke="#111" stroke-width="1.4"/>
<line x1="340.8" y1="248.43" x2="343.3" y2="248.43" stroke="#111" stroke-width="1.4"/>
<text x="335.8" y="428.40" font-family="Liberation Sans, sans-serif" font-size="10" fill="#222" text-anchor="end">0</text>
<text x="335.8" y="407.65" font-family="Liberation Sans, sans-serif" font-size="10" fill="#222" text-anchor="end">20000</text>
<text x="335.8" y="386.90" font-family="Liberation Sans, sans-serif" font-size="10" fill="#222" text-anchor="end">40000</text>
<text x="335.8" y="366.15" font-family="Liberation Sans, sans-serif" font-size="10" fill="#222" text-anchor="end">60000</text>
<text x="335.8" y="345.40" font-family="Liberation Sans, sans-serif" font-size="10" fill="#222" text-anchor="end">80000</text>
<text x="335.8" y="324.65" font-family="Liberation Sans, sans-serif" font-size="10" fill="#222" text-anchor="end">100000</text>
<text x="335.8" y="303.90" font-family="Liberation Sans, sans-serif" font-size="10" fill="#222" text-anchor="end">120000</text>
<text x="335.8" y="283.15" font-family="Liberation Sans, sans-serif" font-size="10" fill="#222" text-anchor="end">140000</text>
<text x="335.8" y="262.40" font-family="Liberation Sans, sans-serif" font-size="10" fill="#222" text-anchor="end">160000</text>
<line x1="351.20" y1="434.6" x2="351.20" y2="439.1" stroke="#111" stroke-width="1.4"/>
<line x1="366.76" y1="434.6" x2="366.76" y2="439.1" stroke="#111" stroke-width="1.4"/>
<line x1="382.32" y1="434.6" x2="382.32" y2="439.1" stroke="#111" stroke-width="1.4"/>
<line x1="397.88" y1="434.6" x2="397.88" y2="439.1" stroke="#111" stroke-width="1.4"/>
<line x1="413.44" y1="434.6" x2="413.44" y2="439.1" stroke="#111" stroke-width="1.4"/>
<line x1="429.00" y1="434.6" x2="429.00" y2="439.1" stroke="#111" stroke-width="1.4"/>
<line x1="444.56" y1="434.6" x2="444.56" y2="439.1" stroke="#111" stroke-width="1.4"/>
<line x1="460.12" y1="434.6" x2="460.12" y2="439.1" stroke="#111" stroke-width="1.4"/>
<line x1="475.68" y1="434.6" x2="475.68" y2="439.1" stroke="#111" stroke-width="1.4"/>
<line x1="491.24" y1="434.6" x2="491.24" y2="439.1" stroke="#111" stroke-width="1.4"/>
<line x1="506.80" y1="434.6" x2="506.80" y2="439.1" stroke="#111" stroke-width="1.4"/>
<line x1="522.36" y1="434.6" x2="522.36" y2="439.1" stroke="#111" stroke-width="1.4"/>
<line x1="537.92" y1="434.6" x2="537.92" y2="439.1" stroke="#111" stroke-width="1.4"/>
<line x1="343.42" y1="434.6" x2="343.42" y2="437.1" stroke="#111" stroke-width="1.4"/>
<line x1="358.98" y1="434.6" x2="358.98" y2="437.1" stroke="#111" stroke-width="1.4"/>
<line x1="374.54" y1="434.6" x2="374.54" y2="437.1" stroke="#111" stroke-width="1.4"/>
<line x1="390.10" y1="434.6" x2="390.10" y2="437.1" stroke="#111" stroke-width="1.4"/>
<line x1="405.66" y1="434.6" x2="405.66" y2="437.1" stroke="#111" stroke-width="1.4"/>
<line x1="421.22" y1="434.6" x2="421.22" y2="437.1" stroke="#111" stroke-width="1.4"/>
<line x1="436.78" y1="434.6" x2="436.78" y2="437.1" stroke="#111" stroke-width="1.4"/>
<line x1="452.34" y1="434.6" x2="452.34" y2="437.1" stroke="#111" stroke-width="1.4"/>
<line x1="467.90" y1="434.6" x2="467.90" y2="437.1" stroke="#111" stroke-width="1.4"/>
<line x1="483.46" y1="434.6" x2="483.46" y2="437.1" stroke="#111" stroke-width="1.4"/>
<line x1="499.02" y1="434.6" x2="499.02" y2="437.1" stroke="#111" stroke-width="1.4"/>
<line x1="514.58" y1="434.6" x2="514.58" y2="437.1" stroke="#111" stroke-width="1.4"/>
<line x1="530.14" y1="434.6" x2="530.14" y2="437.1" stroke="#111" stroke-width="1.4"/>
<line x1="545.70" y1="434.6" x2="545.70" y2="437.1" stroke="#111" stroke-width="1.4"/>
<text x="351.20" y="450.60" font-family="Liberation Sans, sans-serif" font-size="10.5" fill="#222" text-anchor="middle">0</text>
<text x="366.76" y="450.60" font-family="Liberation Sans, sans-serif" font-size="10.5" fill="#222" text-anchor="middle">2</text>
<text x="382.32" y="450.60" font-family="Liberation Sans, sans-serif" font-size="10.5" fill="#222" text-anchor="middle">4</text>
<text x="397.88" y="450.60" font-family="Liberation Sans, sans-serif" font-size="10.5" fill="#222" text-anchor="middle">6</text>
<text x="413.44" y="450.60" font-family="Liberation Sans, sans-serif" font-size="10.5" fill="#222" text-anchor="middle">8</text>
<text x="429.00" y="450.60" font-family="Liberation Sans, sans-serif" font-size="10.5" fill="#222" text-anchor="middle">10</text>
<text x="444.56" y="450.60" font-family="Liberation Sans, sans-serif" font-size="10.5" fill="#222" text-anchor="middle">12</text>
<text x="460.12" y="450.60" font-family="Liberation Sans, sans-serif" font-size="10.5" fill="#222" text-anchor="middle">14</text>
<text x="475.68" y="450.60" font-family="Liberation Sans, sans-serif" font-size="10.5" fill="#222" text-anchor="middle">16</text>
<text x="491.24" y="450.60" font-family="Liberation Sans, sans-serif" font-size="10.5" fill="#222" text-anchor="middle">18</text>
<text x="506.80" y="450.60" font-family="Liberation Sans, sans-serif" font-size="10.5" fill="#222" text-anchor="middle">20</text>
<text x="522.36" y="450.60" font-family="Liberation Sans, sans-serif" font-size="10.5" fill="#222" text-anchor="middle">22</text>
<text x="537.92" y="450.60" font-family="Liberation Sans, sans-serif" font-size="10.5" fill="#222" text-anchor="middle">24</text>
<text x="0" y="0" transform="translate(297,339) rotate(-90)" font-family="Liberation Sans, sans-serif" font-size="10" fill="#222" text-anchor="middle">Fluorescence Intensity</text>
<text x="436" y="462" font-family="Liberation Sans, sans-serif" font-size="10.5" fill="#222" text-anchor="middle">ReactionTime (h)</text>
<path d="M351.2,412.5 L359.0,412.5 L366.8,412.5 L382.3,412.3 L397.9,411.5 L413.4,415.5 L429.0,413.6 L537.9,419.6" fill="none" stroke="#111111" stroke-width="1.5" stroke-linejoin="round"/>
<rect x="348.90" y="410.20" width="4.6" height="4.6" fill="#111111"/>
<rect x="356.68" y="410.20" width="4.6" height="4.6" fill="#111111"/>
<rect x="364.46" y="410.20" width="4.6" height="4.6" fill="#111111"/>
<rect x="380.02" y="410.00" width="4.6" height="4.6" fill="#111111"/>
<rect x="395.58" y="409.20" width="4.6" height="4.6" fill="#111111"/>
<rect x="411.14" y="413.20" width="4.6" height="4.6" fill="#111111"/>
<rect x="426.70" y="411.30" width="4.6" height="4.6" fill="#111111"/>
<rect x="535.62" y="417.30" width="4.6" height="4.6" fill="#111111"/>
<path d="M351.2,424.0 L359.0,413.9 L366.8,405.2 L382.3,395.7 L397.9,392.3 L413.4,386.6 L429.0,389.0 L537.9,361.5" fill="none" stroke="#ff2020" stroke-width="1.5" stroke-linejoin="round"/>
<circle cx="351.20" cy="424.00" r="2.7" fill="#ff2020"/>
<circle cx="358.98" cy="413.90" r="2.7" fill="#ff2020"/>
<circle cx="366.76" cy="405.20" r="2.7" fill="#ff2020"/>
<circle cx="382.32" cy="395.70" r="2.7" fill="#ff2020"/>
<circle cx="397.88" cy="392.30" r="2.7" fill="#ff2020"/>
<circle cx="413.44" cy="386.60" r="2.7" fill="#ff2020"/>
<circle cx="429.00" cy="389.00" r="2.7" fill="#ff2020"/>
<circle cx="537.92" cy="361.50" r="2.7" fill="#ff2020"/>
<path d="M351.2,411.6 L359.0,394.7 L366.8,387.0 L382.3,367.3 L397.9,353.2 L413.4,346.7 L429.0,334.9 L537.9,309.1" fill="none" stroke="#2030ff" stroke-width="1.5" stroke-linejoin="round"/>
<polygon points="351.20,408.20 354.50,414.00 347.90,414.00" fill="#2030ff"/>
<polygon points="358.98,391.30 362.28,397.10 355.68,397.10" fill="#2030ff"/>
<polygon points="366.76,383.60 370.06,389.40 363.46,389.40" fill="#2030ff"/>
<polygon points="382.32,363.90 385.62,369.70 379.02,369.70" fill="#2030ff"/>
<polygon points="397.88,349.80 401.18,355.60 394.58,355.60" fill="#2030ff"/>
<polygon points="413.44,343.30 416.74,349.10 410.14,349.10" fill="#2030ff"/>
<polygon points="429.00,331.50 432.30,337.30 425.70,337.30" fill="#2030ff"/>
<polygon points="537.92,305.70 541.22,311.50 534.62,311.50" fill="#2030ff"/>
<path d="M351.2,412.9 L359.0,397.7 L366.8,384.2 L382.3,363.3 L397.9,350.1 L413.4,339.5 L429.0,326.2 L537.9,292.0" fill="none" stroke="#ff20ff" stroke-width="1.5" stroke-linejoin="round"/>
<polygon points="351.20,416.30 354.50,410.50 347.90,410.50" fill="#ff20ff"/>
<polygon points="358.98,401.10 362.28,395.30 355.68,395.30" fill="#ff20ff"/>
<polygon points="366.76,387.60 370.06,381.80 363.46,381.80" fill="#ff20ff"/>
<polygon points="382.32,366.70 385.62,360.90 379.02,360.90" fill="#ff20ff"/>
<polygon points="397.88,353.50 401.18,347.70 394.58,347.70" fill="#ff20ff"/>
<polygon points="413.44,342.90 416.74,337.10 410.14,337.10" fill="#ff20ff"/>
<polygon points="429.00,329.60 432.30,323.80 425.70,323.80" fill="#ff20ff"/>
<polygon points="537.92,295.40 541.22,289.60 534.62,289.60" fill="#ff20ff"/>
<path d="M351.2,416.0 L359.0,386.2 L366.8,360.7 L382.3,327.8 L397.9,312.3 L413.4,300.8 L429.0,295.6 L537.9,279.7" fill="none" stroke="#108a10" stroke-width="1.5" stroke-linejoin="round"/>
<polygon points="351.20,412.50 354.70,416.00 351.20,419.50 347.70,416.00" fill="#108a10"/>
<polygon points="358.98,382.70 362.48,386.20 358.98,389.70 355.48,386.20" fill="#108a10"/>
<polygon points="366.76,357.20 370.26,360.70 366.76,364.20 363.26,360.70" fill="#108a10"/>
<polygon points="382.32,324.30 385.82,327.80 382.32,331.30 378.82,327.80" fill="#108a10"/>
<polygon points="397.88,308.80 401.38,312.30 397.88,315.80 394.38,312.30" fill="#108a10"/>
<polygon points="413.44,297.30 416.94,300.80 413.44,304.30 409.94,300.80" fill="#108a10"/>
<polygon points="429.00,292.10 432.50,295.60 429.00,299.10 425.50,295.60" fill="#108a10"/>
<polygon points="537.92,276.20 541.42,279.70 537.92,283.20 534.42,279.70" fill="#108a10"/>
<path d="M351.2,416.7 L359.0,370.4 L366.8,349.1 L382.3,327.8 L397.9,317.2 L413.4,307.0 L429.0,304.6 L537.9,320.9" fill="none" stroke="#202090" stroke-width="1.5" stroke-linejoin="round"/>
<polygon points="347.80,416.70 353.60,413.40 353.60,420.00" fill="#202090"/>
<polygon points="355.58,370.40 361.38,367.10 361.38,373.70" fill="#202090"/>
<polygon points="363.36,349.10 369.16,345.80 369.16,352.40" fill="#202090"/>
<polygon points="378.92,327.80 384.72,324.50 384.72,331.10" fill="#202090"/>
<polygon points="394.48,317.20 400.28,313.90 400.28,320.50" fill="#202090"/>
<polygon points="410.04,307.00 415.84,303.70 415.84,310.30" fill="#202090"/>
<polygon points="425.60,304.60 431.40,301.30 431.40,307.90" fill="#202090"/>
<polygon points="534.52,320.90 540.32,317.60 540.32,324.20" fill="#202090"/>
<line x1="345.9" y1="257.6" x2="369.59999999999997" y2="257.6" stroke="#111111" stroke-width="1.2"/>
<rect x="355.45" y="255.30" width="4.6" height="4.6" fill="#111111"/>
<text x="373.2" y="261.90000000000003" font-family="Liberation Sans, sans-serif" font-size="11" fill="#222" class="b">26</text><text x="387.7" y="259.8" font-family="Liberation Sans, sans-serif" font-size="8.5" fill="#555" class="l">°</text><text x="0" y="0" transform="translate(389.29999999999995,262.0) scale(0.85,1)" font-family="Liberation Sans, sans-serif" font-size="11" fill="#555" class="l">C</text>
<line x1="345.9" y1="270.6" x2="369.59999999999997" y2="270.6" stroke="#ff2020" stroke-width="1.2"/>
<circle cx="357.75" cy="270.60" r="2.7" fill="#ff2020"/>
<text x="373.2" y="274.90000000000003" font-family="Liberation Sans, sans-serif" font-size="11" fill="#222" class="b">50</text><text x="387.7" y="272.8" font-family="Liberation Sans, sans-serif" font-size="8.5" fill="#555" class="l">°</text><text x="0" y="0" transform="translate(389.29999999999995,275.0) scale(0.85,1)" font-family="Liberation Sans, sans-serif" font-size="11" fill="#555" class="l">C</text>
<line x1="345.9" y1="283.2" x2="369.59999999999997" y2="283.2" stroke="#2030ff" stroke-width="1.2"/>
<polygon points="357.75,279.80 361.05,285.60 354.45,285.60" fill="#2030ff"/>
<text x="373.2" y="287.5" font-family="Liberation Sans, sans-serif" font-size="11" fill="#222" class="b">60</text><text x="387.7" y="285.4" font-family="Liberation Sans, sans-serif" font-size="8.5" fill="#555" class="l">°</text><text x="0" y="0" transform="translate(389.29999999999995,287.59999999999997) scale(0.85,1)" font-family="Liberation Sans, sans-serif" font-size="11" fill="#555" class="l">C</text>
<line x1="402.6" y1="257.3" x2="426.3" y2="257.3" stroke="#ff20ff" stroke-width="1.2"/>
<polygon points="414.45,260.70 417.75,254.90 411.15,254.90" fill="#ff20ff"/>
<text x="429.90000000000003" y="261.6" font-family="Liberation Sans, sans-serif" font-size="11" fill="#222" class="b">70</text><text x="444.40000000000003" y="259.5" font-family="Liberation Sans, sans-serif" font-size="8.5" fill="#555" class="l">°</text><text x="0" y="0" transform="translate(446.0,261.7) scale(0.85,1)" font-family="Liberation Sans, sans-serif" font-size="11" fill="#555" class="l">C</text>
<line x1="402.6" y1="270.2" x2="426.3" y2="270.2" stroke="#108a10" stroke-width="1.2"/>
<polygon points="414.45,266.70 417.95,270.20 414.45,273.70 410.95,270.20" fill="#108a10"/>
<text x="429.90000000000003" y="274.5" font-family="Liberation Sans, sans-serif" font-size="11" fill="#222" class="b">80</text><text x="444.40000000000003" y="272.4" font-family="Liberation Sans, sans-serif" font-size="8.5" fill="#555" class="l">°</text><text x="0" y="0" transform="translate(446.0,274.59999999999997) scale(0.85,1)" font-family="Liberation Sans, sans-serif" font-size="11" fill="#555" class="l">C</text>
<line x1="402.6" y1="282.9" x2="426.3" y2="282.9" stroke="#202090" stroke-width="1.2"/>
<polygon points="411.05,282.90 416.85,279.60 416.85,286.20" fill="#202090"/>
<text x="429.90000000000003" y="287.2" font-family="Liberation Sans, sans-serif" font-size="11" fill="#222" class="b">90</text><text x="444.40000000000003" y="285.09999999999997" font-family="Liberation Sans, sans-serif" font-size="8.5" fill="#555" class="l">°</text><text x="0" y="0" transform="translate(446.0,287.29999999999995) scale(0.85,1)" font-family="Liberation Sans, sans-serif" font-size="11" fill="#555" class="l">C</text>
<text x="286.8" y="245.2" font-family="Liberation Serif, serif" font-weight="bold" font-size="17" fill="#111">(D)</text>
</svg></body></html>
